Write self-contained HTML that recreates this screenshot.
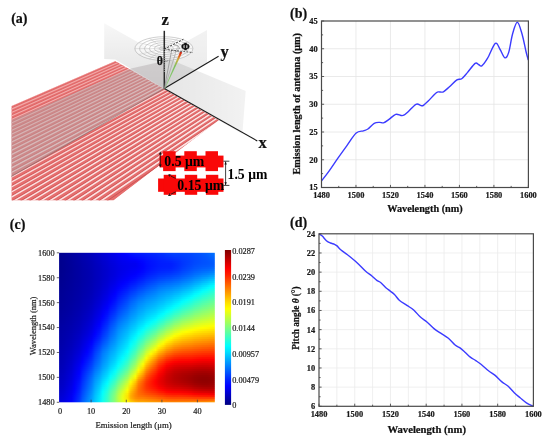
<!DOCTYPE html>
<html><head><meta charset="utf-8"><title>Figure</title><style>html,body{margin:0;padding:0;background:#fff;width:550px;height:443px;overflow:hidden}</style></head><body>
<svg width="550" height="443" viewBox="0 0 550 443" font-family="'Liberation Serif', 'Times New Roman', serif" style="position:absolute;left:0;top:0">
<rect width="550" height="443" fill="#fff"/>
<defs><linearGradient id="pl" x1="0" y1="0" x2="0" y2="1"><stop offset="0" stop-color="#000" stop-opacity="0.03"/><stop offset="1" stop-color="#000" stop-opacity="0.12"/></linearGradient><linearGradient id="pr" x1="0" y1="0" x2="0" y2="1"><stop offset="0" stop-color="#000" stop-opacity="0.05"/><stop offset="1" stop-color="#000" stop-opacity="0.09"/></linearGradient><linearGradient id="pf" x1="0" y1="0" x2="1" y2="0"><stop offset="0" stop-color="#000" stop-opacity="0.10"/><stop offset="1" stop-color="#000" stop-opacity="0.05"/></linearGradient></defs>
<polygon points="104.2,23.3 164.3,57 164.3,88.5 115.3,59.5 104.2,59" fill="url(#pl)"/>
<polygon points="164.3,54 207,30 207,63.18 164.3,88.5" fill="url(#pr)"/>
<polygon points="164.3,57 245.7,91 242.3,133.97 164.3,88.5" fill="url(#pf)"/>
<defs><clipPath id="gclip"><polygon points="11.4,106 115.3,61 219,120 113.5,200.5 11.4,200.5"/></clipPath></defs>
<g clip-path="url(#gclip)">
<polygon points="11.4,106 115.3,61 219,120 113.5,200.5 11.4,200.5" fill="#e56f6f"/>
<line x1="11.4" y1="105.83" x2="291.4" y2="-15.11" stroke="#f3a5a5" stroke-width="1.14"/>
<line x1="11.4" y1="108.26" x2="291.4" y2="-13.74" stroke="#c44848" stroke-width="0.49" stroke-opacity="0.45"/>
<line x1="11.4" y1="109.13" x2="291.4" y2="-13.26" stroke="#f3a7a7" stroke-width="1.15"/>
<line x1="11.4" y1="111.61" x2="291.4" y2="-11.86" stroke="#c44848" stroke-width="0.5" stroke-opacity="0.4621185688941455"/>
<line x1="11.4" y1="112.49" x2="291.4" y2="-11.37" stroke="#f3a9a9" stroke-width="1.16"/>
<line x1="11.4" y1="115.03" x2="291.4" y2="-9.94" stroke="#c44848" stroke-width="0.51" stroke-opacity="0.47449584880962664"/>
<line x1="11.4" y1="115.93" x2="291.4" y2="-9.44" stroke="#f3abab" stroke-width="1.17"/>
<line x1="11.4" y1="118.52" x2="291.4" y2="-7.98" stroke="#c44848" stroke-width="0.52" stroke-opacity="0.48713736279071923"/>
<line x1="11.4" y1="119.44" x2="291.4" y2="-7.47" stroke="#f4aeae" stroke-width="1.18"/>
<line x1="11.4" y1="122.09" x2="291.4" y2="-5.98" stroke="#c44848" stroke-width="0.53" stroke-opacity="0.5000487517893857"/>
<line x1="11.4" y1="123.03" x2="291.4" y2="-5.45" stroke="#f4b0b0" stroke-width="1.19"/>
<line x1="11.4" y1="125.73" x2="291.4" y2="-3.93" stroke="#c44848" stroke-width="0.54" stroke-opacity="0.5132357771824057"/>
<line x1="11.4" y1="126.69" x2="291.4" y2="-3.39" stroke="#f4b3b3" stroke-width="1.2"/>
<line x1="11.4" y1="129.46" x2="291.4" y2="-1.84" stroke="#c44848" stroke-width="0.55" stroke-opacity="0.526704323342243"/>
<line x1="11.4" y1="130.43" x2="291.4" y2="-1.29" stroke="#f5b5b5" stroke-width="1.22"/>
<line x1="11.4" y1="133.26" x2="291.4" y2="0.29" stroke="#c44848" stroke-width="0.56" stroke-opacity="0.540460400262796"/>
<line x1="11.4" y1="134.26" x2="291.4" y2="0.85" stroke="#f5b8b8" stroke-width="1.23"/>
<line x1="11.4" y1="137.14" x2="291.4" y2="2.47" stroke="#c44848" stroke-width="0.57" stroke-opacity="0.5545101462412033"/>
<line x1="11.4" y1="138.16" x2="291.4" y2="3.04" stroke="#f6bbbb" stroke-width="1.24"/>
<line x1="11.4" y1="141.1" x2="291.4" y2="4.7" stroke="#c44848" stroke-width="0.58" stroke-opacity="0.5688598306169026"/>
<line x1="11.4" y1="142.15" x2="291.4" y2="5.28" stroke="#f6bdbd" stroke-width="1.24"/>
<line x1="11.4" y1="145.15" x2="291.4" y2="6.97" stroke="#c44848" stroke-width="0.59" stroke-opacity="0.5835158565691617"/>
<line x1="11.4" y1="146.22" x2="291.4" y2="7.57" stroke="#f6c0c0" stroke-width="1.25"/>
<line x1="11.4" y1="149.29" x2="291.4" y2="9.29" stroke="#c44848" stroke-width="0.6" stroke-opacity="0.5984847639743341"/>
<line x1="11.4" y1="150.38" x2="291.4" y2="9.9" stroke="#f7c3c3" stroke-width="1.26"/>
<line x1="11.4" y1="153.51" x2="291.4" y2="11.67" stroke="#c44848" stroke-width="0.61" stroke-opacity="0.6137732323241115"/>
<line x1="11.4" y1="154.62" x2="291.4" y2="12.29" stroke="#f7c6c6" stroke-width="1.27"/>
<line x1="11.4" y1="157.83" x2="291.4" y2="14.09" stroke="#c44848" stroke-width="0.62" stroke-opacity="0.6293880837060751"/>
<line x1="11.4" y1="158.96" x2="291.4" y2="14.73" stroke="#f8c9c9" stroke-width="1.28"/>
<line x1="11.4" y1="162.23" x2="291.4" y2="16.56" stroke="#c44848" stroke-width="0.63" stroke-opacity="0.6453362858478784"/>
<line x1="11.4" y1="163.39" x2="291.4" y2="17.21" stroke="#f8cccc" stroke-width="1.29"/>
<line x1="11.4" y1="166.73" x2="291.4" y2="19.09" stroke="#c44848" stroke-width="0.64" stroke-opacity="0.6616249552264168"/>
<line x1="11.4" y1="167.92" x2="291.4" y2="19.75" stroke="#f8cfcf" stroke-width="1.29"/>
<line x1="11.4" y1="171.33" x2="291.4" y2="21.67" stroke="#c44848" stroke-width="0.65" stroke-opacity="0.6782613602433735"/>
<line x1="11.4" y1="172.54" x2="291.4" y2="22.35" stroke="#f9d2d2" stroke-width="1.3"/>
<line x1="11.4" y1="176.03" x2="291.4" y2="24.31" stroke="#c44848" stroke-width="0.67" stroke-opacity="0.6952529244685572"/>
<line x1="11.4" y1="177.26" x2="291.4" y2="25" stroke="#f9d5d5" stroke-width="1.3"/>
<line x1="11.4" y1="180.82" x2="291.4" y2="27" stroke="#c44848" stroke-width="0.68" stroke-opacity="0.7126072299524809"/>
<line x1="11.4" y1="182.08" x2="291.4" y2="27.71" stroke="#fad9d9" stroke-width="1.31"/>
<line x1="11.4" y1="185.72" x2="291.4" y2="29.75" stroke="#c44848" stroke-width="0.69" stroke-opacity="0.7303320206096569"/>
<line x1="11.4" y1="187.01" x2="291.4" y2="30.47" stroke="#fadcdc" stroke-width="1.31"/>
<line x1="11.4" y1="190.72" x2="291.4" y2="32.56" stroke="#c44848" stroke-width="0.7" stroke-opacity="0.7484352056741209"/>
<line x1="11.4" y1="192.04" x2="291.4" y2="33.3" stroke="#fbdfdf" stroke-width="1.32"/>
<line x1="11.4" y1="195.83" x2="291.4" y2="35.43" stroke="#c44848" stroke-width="0.72" stroke-opacity="0.7669248632287251"/>
<line x1="11.4" y1="197.17" x2="291.4" y2="36.18" stroke="#fbe3e3" stroke-width="1.32"/>
<line x1="11.4" y1="201.05" x2="291.4" y2="38.36" stroke="#c44848" stroke-width="0.73" stroke-opacity="0.7858092438097759"/>
<line x1="11.4" y1="202.42" x2="291.4" y2="39.13" stroke="#fce6e6" stroke-width="1.33"/>
<line x1="11.4" y1="206.37" x2="291.4" y2="41.35" stroke="#c44848" stroke-width="0.74" stroke-opacity="0.8"/>
<line x1="11.4" y1="207.78" x2="291.4" y2="42.14" stroke="#fce6e6" stroke-width="1.35"/>
<line x1="11.4" y1="211.82" x2="291.4" y2="44.41" stroke="#c44848" stroke-width="0.76" stroke-opacity="0.8"/>
<line x1="11.4" y1="213.25" x2="291.4" y2="45.21" stroke="#fce6e6" stroke-width="1.38"/>
<line x1="11.4" y1="217.38" x2="291.4" y2="47.53" stroke="#c44848" stroke-width="0.77" stroke-opacity="0.8"/>
<line x1="11.4" y1="218.84" x2="291.4" y2="48.35" stroke="#fce6e6" stroke-width="1.4"/>
<line x1="11.4" y1="223.05" x2="291.4" y2="50.72" stroke="#c44848" stroke-width="0.78" stroke-opacity="0.8"/>
<line x1="11.4" y1="224.55" x2="291.4" y2="51.55" stroke="#fce6e6" stroke-width="1.43"/>
<line x1="11.4" y1="228.85" x2="291.4" y2="53.97" stroke="#c44848" stroke-width="0.8" stroke-opacity="0.8"/>
<line x1="11.4" y1="230.38" x2="291.4" y2="54.83" stroke="#fce6e6" stroke-width="1.46"/>
<line x1="11.4" y1="234.78" x2="291.4" y2="57.3" stroke="#c44848" stroke-width="0.81" stroke-opacity="0.8"/>
<line x1="11.4" y1="236.33" x2="291.4" y2="58.17" stroke="#fce6e6" stroke-width="1.49"/>
<line x1="11.4" y1="240.83" x2="291.4" y2="60.7" stroke="#c44848" stroke-width="0.83" stroke-opacity="0.8"/>
<line x1="11.4" y1="242.42" x2="291.4" y2="61.59" stroke="#fce6e6" stroke-width="1.51"/>
<line x1="11.4" y1="247" x2="291.4" y2="64.16" stroke="#c44848" stroke-width="0.84" stroke-opacity="0.8"/>
<line x1="11.4" y1="248.63" x2="291.4" y2="65.08" stroke="#fce6e6" stroke-width="1.54"/>
<line x1="11.4" y1="253.31" x2="291.4" y2="67.71" stroke="#c44848" stroke-width="0.86" stroke-opacity="0.8"/>
<line x1="11.4" y1="254.97" x2="291.4" y2="68.64" stroke="#fce6e6" stroke-width="1.57"/>
<line x1="11.4" y1="259.76" x2="291.4" y2="71.33" stroke="#c44848" stroke-width="0.88" stroke-opacity="0.8"/>
<line x1="11.4" y1="261.45" x2="291.4" y2="72.28" stroke="#fce6e6" stroke-width="1.6"/>
<line x1="11.4" y1="266.34" x2="291.4" y2="75.02" stroke="#c44848" stroke-width="0.89" stroke-opacity="0.8"/>
</g>
<polygon points="11.4,120 131,68.5 164.3,61 164.3,88.5 11.4,176.5" fill="#b0a8aa" fill-opacity="0.45"/>
<line x1="11.4" y1="176.5" x2="164.3" y2="88.5" stroke="#6a6a6a" stroke-width="0.5"/>
<ellipse cx="163.9" cy="48.6" rx="29" ry="11.89" fill="#fff" fill-opacity="0.45"/>
<ellipse cx="163.9" cy="48.6" rx="29" ry="11.89" fill="none" stroke="#969696" stroke-width="0.45"/>
<ellipse cx="163.9" cy="48.6" rx="24.3" ry="9.96" fill="none" stroke="#969696" stroke-width="0.45"/>
<ellipse cx="163.9" cy="48.6" rx="19.5" ry="7.99" fill="none" stroke="#969696" stroke-width="0.45"/>
<ellipse cx="163.9" cy="48.6" rx="14.6" ry="5.99" fill="none" stroke="#969696" stroke-width="0.45"/>
<ellipse cx="163.9" cy="48.6" rx="9.6" ry="3.94" fill="none" stroke="#969696" stroke-width="0.45"/>
<ellipse cx="163.9" cy="48.6" rx="4.6" ry="1.89" fill="none" stroke="#969696" stroke-width="0.45"/>
<line x1="163.9" y1="48.6" x2="192.9" y2="48.6" stroke="#b0b0b0" stroke-width="0.35"/>
<line x1="163.9" y1="48.6" x2="189.01" y2="54.55" stroke="#b0b0b0" stroke-width="0.35"/>
<line x1="163.9" y1="48.6" x2="178.4" y2="58.9" stroke="#b0b0b0" stroke-width="0.35"/>
<line x1="163.9" y1="48.6" x2="163.9" y2="60.49" stroke="#b0b0b0" stroke-width="0.35"/>
<line x1="163.9" y1="48.6" x2="149.4" y2="58.9" stroke="#b0b0b0" stroke-width="0.35"/>
<line x1="163.9" y1="48.6" x2="138.79" y2="54.55" stroke="#b0b0b0" stroke-width="0.35"/>
<line x1="163.9" y1="48.6" x2="134.9" y2="48.6" stroke="#b0b0b0" stroke-width="0.35"/>
<line x1="163.9" y1="48.6" x2="138.79" y2="42.66" stroke="#b0b0b0" stroke-width="0.35"/>
<line x1="163.9" y1="48.6" x2="149.4" y2="38.3" stroke="#b0b0b0" stroke-width="0.35"/>
<line x1="163.9" y1="48.6" x2="163.9" y2="36.71" stroke="#b0b0b0" stroke-width="0.35"/>
<line x1="163.9" y1="48.6" x2="178.4" y2="38.3" stroke="#b0b0b0" stroke-width="0.35"/>
<line x1="163.9" y1="48.6" x2="189.01" y2="42.65" stroke="#b0b0b0" stroke-width="0.35"/>
<line x1="164.3" y1="30.8" x2="164.3" y2="88.8" stroke="#2a2a2a" stroke-width="1.5"/>
<line x1="164.3" y1="88.5" x2="218.6" y2="56.3" stroke="#1a1a1a" stroke-width="1.1"/>
<line x1="164.3" y1="88.5" x2="257.3" y2="140.9" stroke="#1a1a1a" stroke-width="1.1"/>
<line x1="164.3" y1="49" x2="164.3" y2="72" stroke="#fff" stroke-width="0.6" stroke-dasharray="1,1.2"/>
<path d="M164.3,61 Q166.5,62 168.2,60.6" fill="none" stroke="#555" stroke-width="0.5"/>
<line x1="164.3" y1="88.5" x2="171.8" y2="49.6" stroke="#8a8a8a" stroke-width="0.7"/>
<defs><linearGradient id="vec" x1="164.3" y1="88.5" x2="181.5" y2="51.5" gradientUnits="userSpaceOnUse"><stop offset="0" stop-color="#8fd07a"/><stop offset="0.6" stop-color="#7cc060"/><stop offset="0.78" stop-color="#c8b040"/><stop offset="0.88" stop-color="#e06020"/><stop offset="1" stop-color="#d01010"/></linearGradient></defs>
<polygon points="164.6,88.5 180.2,51.4 182.2,52.4 165.1,88.6" fill="url(#vec)"/>
<line x1="164.5" y1="88.5" x2="177.2" y2="47.8" stroke="#9a9a9a" stroke-width="0.6"/>
<line x1="164.3" y1="49.0" x2="183.4" y2="39.3" stroke="#222" stroke-width="0.9" stroke-dasharray="2,1.3"/>
<line x1="168" y1="49.7" x2="193" y2="52.6" stroke="#333" stroke-width="0.8" stroke-dasharray="1.8,1.3"/>
<line x1="164.3" y1="49.2" x2="181" y2="52" stroke="#444" stroke-width="0.5" stroke-dasharray="1.2,1"/>
<path d="M174,45 Q179,44.5 179.6,49" fill="none" stroke="#888" stroke-width="0.6"/>
<text x="161.6" y="24.6" font-size="16.5" font-weight="bold" stroke="#111" stroke-width="0.22" fill="#111">z</text>
<text x="220.6" y="57.2" font-size="16.5" font-weight="bold" stroke="#111" stroke-width="0.22" fill="#111">y</text>
<text x="258.4" y="147.8" font-size="16.5" font-weight="bold" stroke="#111" stroke-width="0.22" fill="#111">x</text>
<text x="156.8" y="65.4" font-size="11.8" font-weight="bold" fill="#111" stroke="#111" stroke-width="0.25">θ</text>
<text x="181.3" y="49.9" font-size="10" font-weight="bold" fill="#111" stroke="#111" stroke-width="0.35" textLength="8.4" lengthAdjust="spacingAndGlyphs">Φ</text>
<text x="11.2" y="23.4" font-size="14" font-weight="bold" stroke="#111" stroke-width="0.22" fill="#111">(a)</text>
<rect x="159.6" y="155.6" width="63.9" height="11.8" fill="#f90808"/>
<rect x="163.1" y="151.2" width="12.5" height="19.9" fill="#f90808"/>
<rect x="184.3" y="151.2" width="12.5" height="19.9" fill="#f90808"/>
<rect x="205.5" y="151.2" width="12.5" height="19.9" fill="#f90808"/>
<rect x="158.1" y="178.5" width="65.4" height="13.3" fill="#f90808"/>
<rect x="163.7" y="174.8" width="12.4" height="20" fill="#f90808"/>
<rect x="184.8" y="174.8" width="12.4" height="20" fill="#f90808"/>
<rect x="205.9" y="174.8" width="12.4" height="20" fill="#f90808"/>
<g stroke="#111" fill="#111" stroke-width="0.8">
<line x1="160.3" y1="153" x2="160.3" y2="166"/>
<polygon points="160.3,151.4 158.9,154.4 161.7,154.4" stroke="none"/>
<polygon points="160.3,167.6 158.9,164.6 161.7,164.6" stroke="none"/>
<line x1="169.6" y1="174.2" x2="169.6" y2="176.6"/><line x1="168" y1="175" x2="171.2" y2="175"/>
<line x1="171" y1="176.2" x2="175.6" y2="178.4"/>
<line x1="169.6" y1="193.4" x2="169.6" y2="196"/><line x1="168" y1="195.4" x2="171.2" y2="195.4"/>
<line x1="171" y1="194.2" x2="175.6" y2="191.8"/>
<line x1="225.6" y1="161.6" x2="225.6" y2="185"/>
<line x1="223.4" y1="161.2" x2="229.4" y2="161.2"/><line x1="223.4" y1="185.4" x2="229.4" y2="185.4"/>
<polygon points="225.6,161.6 224.4,164.4 226.8,164.4" stroke="none"/>
<polygon points="225.6,185 224.4,182.2 226.8,182.2" stroke="none"/>
</g>
<text x="164.3" y="165.6" font-size="13.8" font-weight="bold" fill="#000" stroke="none">0.5 μm</text>
<text x="177.3" y="189.5" font-size="13.8" font-weight="bold" fill="#000" stroke="none">0.15 μm</text>
<text x="227.6" y="179.4" font-size="13.7" font-weight="bold" fill="#000" stroke="none">1.5 μm</text>
<line x1="355.98" y1="21" x2="355.98" y2="187.5" stroke="#e4e4e4" stroke-width="0.8"/>
<line x1="390.47" y1="21" x2="390.47" y2="187.5" stroke="#e4e4e4" stroke-width="0.8"/>
<line x1="424.95" y1="21" x2="424.95" y2="187.5" stroke="#e4e4e4" stroke-width="0.8"/>
<line x1="459.43" y1="21" x2="459.43" y2="187.5" stroke="#e4e4e4" stroke-width="0.8"/>
<line x1="493.92" y1="21" x2="493.92" y2="187.5" stroke="#e4e4e4" stroke-width="0.8"/>
<line x1="321.5" y1="159.75" x2="528.4" y2="159.75" stroke="#e4e4e4" stroke-width="0.8"/>
<line x1="321.5" y1="132" x2="528.4" y2="132" stroke="#e4e4e4" stroke-width="0.8"/>
<line x1="321.5" y1="104.25" x2="528.4" y2="104.25" stroke="#e4e4e4" stroke-width="0.8"/>
<line x1="321.5" y1="76.5" x2="528.4" y2="76.5" stroke="#e4e4e4" stroke-width="0.8"/>
<line x1="321.5" y1="48.75" x2="528.4" y2="48.75" stroke="#e4e4e4" stroke-width="0.8"/>
<path d="M321.5,180.9 C322.6,179.48 325.33,176.23 328.1,172.4 C330.87,168.57 334.93,162.42 338.1,157.9 C341.27,153.38 344.08,149.43 347.1,145.3 C350.12,141.17 353.48,135.52 356.2,133.1 C358.92,130.68 361.45,131.48 363.4,130.8 C365.35,130.12 366.1,130.25 367.9,129 C369.7,127.75 372.23,124.4 374.2,123.3 C376.17,122.2 378.15,122.48 379.7,122.4 C381.25,122.32 381.95,123.3 383.5,122.8 C385.05,122.3 386.97,120.82 389,119.4 C391.03,117.98 393.7,114.95 395.7,114.3 C397.7,113.65 399.65,115.35 401,115.5 C402.35,115.65 402.65,115.78 403.8,115.2 C404.95,114.62 405.87,113.82 407.9,112 C409.93,110.18 413.82,105.37 416,104.3 C418.18,103.23 419.75,105.43 421,105.6 C422.25,105.77 422.3,106.05 423.5,105.3 C424.7,104.55 426.07,103.2 428.2,101.1 C430.33,99 434.33,94.22 436.3,92.7 C438.27,91.18 438.82,92.15 440,92 C441.18,91.85 441.87,92.63 443.4,91.8 C444.93,90.97 446.95,88.98 449.2,87 C451.45,85.02 454.82,81.28 456.9,79.9 C458.98,78.52 459.95,79.92 461.7,78.7 C463.45,77.48 465.17,75.15 467.4,72.6 C469.63,70.05 473.25,64.75 475.1,63.4 C476.95,62.05 477.38,64.08 478.5,64.5 C479.62,64.92 480.28,66.95 481.8,65.9 C483.32,64.85 485.35,61.95 487.6,58.2 C489.85,54.45 493.22,44.85 495.3,43.4 C497.38,41.95 498.5,47.1 500.1,49.5 C501.7,51.9 503.47,57.32 504.9,57.8 C506.33,58.28 507.43,56.33 508.7,52.4 C509.97,48.47 511.07,39.22 512.5,34.2 C513.93,29.18 515.7,22.3 517.3,22.3 C518.9,22.3 520.65,29.33 522.1,34.2 C523.55,39.07 524.97,47.18 526,51.5 C527.03,55.82 527.92,58.67 528.3,60.1" fill="none" stroke="#3b3bff" stroke-width="1.4" stroke-linejoin="round"/>
<rect x="321.5" y="21.0" width="206.9" height="166.5" fill="none" stroke="#4a4a4a" stroke-width="1.2"/>
<line x1="321.5" y1="187.5" x2="324.1" y2="187.5" stroke="#4a4a4a" stroke-width="0.9"/>
<line x1="321.5" y1="173.62" x2="323.1" y2="173.62" stroke="#4a4a4a" stroke-width="0.9"/>
<line x1="321.5" y1="159.75" x2="324.1" y2="159.75" stroke="#4a4a4a" stroke-width="0.9"/>
<line x1="321.5" y1="145.88" x2="323.1" y2="145.88" stroke="#4a4a4a" stroke-width="0.9"/>
<line x1="321.5" y1="132" x2="324.1" y2="132" stroke="#4a4a4a" stroke-width="0.9"/>
<line x1="321.5" y1="118.12" x2="323.1" y2="118.12" stroke="#4a4a4a" stroke-width="0.9"/>
<line x1="321.5" y1="104.25" x2="324.1" y2="104.25" stroke="#4a4a4a" stroke-width="0.9"/>
<line x1="321.5" y1="90.38" x2="323.1" y2="90.38" stroke="#4a4a4a" stroke-width="0.9"/>
<line x1="321.5" y1="76.5" x2="324.1" y2="76.5" stroke="#4a4a4a" stroke-width="0.9"/>
<line x1="321.5" y1="62.62" x2="323.1" y2="62.62" stroke="#4a4a4a" stroke-width="0.9"/>
<line x1="321.5" y1="48.75" x2="324.1" y2="48.75" stroke="#4a4a4a" stroke-width="0.9"/>
<line x1="321.5" y1="34.88" x2="323.1" y2="34.88" stroke="#4a4a4a" stroke-width="0.9"/>
<line x1="321.5" y1="21" x2="324.1" y2="21" stroke="#4a4a4a" stroke-width="0.9"/>
<line x1="321.5" y1="187.5" x2="321.5" y2="184.9" stroke="#4a4a4a" stroke-width="0.9"/>
<line x1="338.74" y1="187.5" x2="338.74" y2="185.9" stroke="#4a4a4a" stroke-width="0.9"/>
<line x1="355.98" y1="187.5" x2="355.98" y2="184.9" stroke="#4a4a4a" stroke-width="0.9"/>
<line x1="373.23" y1="187.5" x2="373.23" y2="185.9" stroke="#4a4a4a" stroke-width="0.9"/>
<line x1="390.47" y1="187.5" x2="390.47" y2="184.9" stroke="#4a4a4a" stroke-width="0.9"/>
<line x1="407.71" y1="187.5" x2="407.71" y2="185.9" stroke="#4a4a4a" stroke-width="0.9"/>
<line x1="424.95" y1="187.5" x2="424.95" y2="184.9" stroke="#4a4a4a" stroke-width="0.9"/>
<line x1="442.19" y1="187.5" x2="442.19" y2="185.9" stroke="#4a4a4a" stroke-width="0.9"/>
<line x1="459.43" y1="187.5" x2="459.43" y2="184.9" stroke="#4a4a4a" stroke-width="0.9"/>
<line x1="476.67" y1="187.5" x2="476.67" y2="185.9" stroke="#4a4a4a" stroke-width="0.9"/>
<line x1="493.92" y1="187.5" x2="493.92" y2="184.9" stroke="#4a4a4a" stroke-width="0.9"/>
<line x1="511.16" y1="187.5" x2="511.16" y2="185.9" stroke="#4a4a4a" stroke-width="0.9"/>
<line x1="528.4" y1="187.5" x2="528.4" y2="184.9" stroke="#4a4a4a" stroke-width="0.9"/>
<text x="317.6" y="190.4" font-size="8.4" font-weight="bold" stroke="#1a1a1a" stroke-width="0.22" text-anchor="end" fill="#1a1a1a">15</text>
<text x="317.6" y="162.65" font-size="8.4" font-weight="bold" stroke="#1a1a1a" stroke-width="0.22" text-anchor="end" fill="#1a1a1a">20</text>
<text x="317.6" y="134.9" font-size="8.4" font-weight="bold" stroke="#1a1a1a" stroke-width="0.22" text-anchor="end" fill="#1a1a1a">25</text>
<text x="317.6" y="107.15" font-size="8.4" font-weight="bold" stroke="#1a1a1a" stroke-width="0.22" text-anchor="end" fill="#1a1a1a">30</text>
<text x="317.6" y="79.4" font-size="8.4" font-weight="bold" stroke="#1a1a1a" stroke-width="0.22" text-anchor="end" fill="#1a1a1a">35</text>
<text x="317.6" y="51.65" font-size="8.4" font-weight="bold" stroke="#1a1a1a" stroke-width="0.22" text-anchor="end" fill="#1a1a1a">40</text>
<text x="317.6" y="23.9" font-size="8.4" font-weight="bold" stroke="#1a1a1a" stroke-width="0.22" text-anchor="end" fill="#1a1a1a">45</text>
<text x="321.5" y="198.4" font-size="8.4" font-weight="bold" stroke="#1a1a1a" stroke-width="0.22" text-anchor="middle" fill="#1a1a1a">1480</text>
<text x="355.98" y="198.4" font-size="8.4" font-weight="bold" stroke="#1a1a1a" stroke-width="0.22" text-anchor="middle" fill="#1a1a1a">1500</text>
<text x="390.47" y="198.4" font-size="8.4" font-weight="bold" stroke="#1a1a1a" stroke-width="0.22" text-anchor="middle" fill="#1a1a1a">1520</text>
<text x="424.95" y="198.4" font-size="8.4" font-weight="bold" stroke="#1a1a1a" stroke-width="0.22" text-anchor="middle" fill="#1a1a1a">1540</text>
<text x="459.43" y="198.4" font-size="8.4" font-weight="bold" stroke="#1a1a1a" stroke-width="0.22" text-anchor="middle" fill="#1a1a1a">1560</text>
<text x="493.92" y="198.4" font-size="8.4" font-weight="bold" stroke="#1a1a1a" stroke-width="0.22" text-anchor="middle" fill="#1a1a1a">1580</text>
<text x="528.4" y="198.4" font-size="8.4" font-weight="bold" stroke="#1a1a1a" stroke-width="0.22" text-anchor="middle" fill="#1a1a1a">1600</text>
<text x="425" y="211.6" font-size="10" font-weight="bold" stroke="#111" stroke-width="0.22" text-anchor="middle" fill="#111" textLength="75.4" lengthAdjust="spacingAndGlyphs">Wavelength (nm)</text>
<text transform="translate(299.6,103.8) rotate(-90)" font-size="10.6" font-weight="bold" stroke="#111" stroke-width="0.25" text-anchor="middle" fill="#111" textLength="141.5" lengthAdjust="spacingAndGlyphs">Emission length of antenna (μm)</text>
<text x="290.1" y="18.2" font-size="14" font-weight="bold" stroke="#111" stroke-width="0.22" fill="#111">(b)</text>
<defs><linearGradient id="h0"><stop offset="0" stop-color="#00008f"/><stop offset="0.03" stop-color="#000093"/><stop offset="0.05" stop-color="#000098"/><stop offset="0.08" stop-color="#00009e"/><stop offset="0.1" stop-color="#0000a3"/><stop offset="0.13" stop-color="#0000a9"/><stop offset="0.15" stop-color="#0000af"/><stop offset="0.18" stop-color="#0000b5"/><stop offset="0.21" stop-color="#0000bc"/><stop offset="0.23" stop-color="#0000c4"/><stop offset="0.26" stop-color="#0000cc"/><stop offset="0.28" stop-color="#0000d4"/><stop offset="0.31" stop-color="#0000dc"/><stop offset="0.33" stop-color="#0000e5"/><stop offset="0.36" stop-color="#0000ed"/><stop offset="0.38" stop-color="#0000f5"/><stop offset="0.41" stop-color="#0000fe"/><stop offset="0.44" stop-color="#0007ff"/><stop offset="0.46" stop-color="#000fff"/><stop offset="0.49" stop-color="#0016ff"/><stop offset="0.51" stop-color="#0019ff"/><stop offset="0.54" stop-color="#001cff"/><stop offset="0.56" stop-color="#0020ff"/><stop offset="0.59" stop-color="#0024ff"/><stop offset="0.62" stop-color="#0028ff"/><stop offset="0.64" stop-color="#002cff"/><stop offset="0.67" stop-color="#0031ff"/><stop offset="0.69" stop-color="#0037ff"/><stop offset="0.72" stop-color="#003dff"/><stop offset="0.74" stop-color="#0040ff"/><stop offset="0.77" stop-color="#0041ff"/><stop offset="0.79" stop-color="#0043ff"/><stop offset="0.82" stop-color="#0046ff"/><stop offset="0.85" stop-color="#0049ff"/><stop offset="0.87" stop-color="#004dff"/><stop offset="0.9" stop-color="#0052ff"/><stop offset="0.92" stop-color="#0057ff"/><stop offset="0.95" stop-color="#005eff"/><stop offset="0.97" stop-color="#0067ff"/><stop offset="1" stop-color="#0071ff"/></linearGradient><linearGradient id="h1"><stop offset="0" stop-color="#00008e"/><stop offset="0.03" stop-color="#000093"/><stop offset="0.05" stop-color="#000098"/><stop offset="0.08" stop-color="#00009d"/><stop offset="0.1" stop-color="#0000a2"/><stop offset="0.13" stop-color="#0000a8"/><stop offset="0.15" stop-color="#0000ae"/><stop offset="0.18" stop-color="#0000b4"/><stop offset="0.21" stop-color="#0000bb"/><stop offset="0.23" stop-color="#0000c2"/><stop offset="0.26" stop-color="#0000ca"/><stop offset="0.28" stop-color="#0000d2"/><stop offset="0.31" stop-color="#0000da"/><stop offset="0.33" stop-color="#0000e2"/><stop offset="0.36" stop-color="#0000ea"/><stop offset="0.38" stop-color="#0000f2"/><stop offset="0.41" stop-color="#0000f9"/><stop offset="0.44" stop-color="#0001ff"/><stop offset="0.46" stop-color="#0008ff"/><stop offset="0.49" stop-color="#000fff"/><stop offset="0.51" stop-color="#0012ff"/><stop offset="0.54" stop-color="#0016ff"/><stop offset="0.56" stop-color="#001aff"/><stop offset="0.59" stop-color="#001fff"/><stop offset="0.62" stop-color="#0023ff"/><stop offset="0.64" stop-color="#0028ff"/><stop offset="0.67" stop-color="#002cff"/><stop offset="0.69" stop-color="#0031ff"/><stop offset="0.72" stop-color="#0036ff"/><stop offset="0.74" stop-color="#003aff"/><stop offset="0.77" stop-color="#003cff"/><stop offset="0.79" stop-color="#003fff"/><stop offset="0.82" stop-color="#0042ff"/><stop offset="0.85" stop-color="#0046ff"/><stop offset="0.87" stop-color="#004bff"/><stop offset="0.9" stop-color="#004fff"/><stop offset="0.92" stop-color="#0054ff"/><stop offset="0.95" stop-color="#005aff"/><stop offset="0.97" stop-color="#0062ff"/><stop offset="1" stop-color="#006bff"/></linearGradient><linearGradient id="h2"><stop offset="0" stop-color="#00008d"/><stop offset="0.03" stop-color="#000092"/><stop offset="0.05" stop-color="#000097"/><stop offset="0.08" stop-color="#00009c"/><stop offset="0.1" stop-color="#0000a1"/><stop offset="0.13" stop-color="#0000a6"/><stop offset="0.15" stop-color="#0000ac"/><stop offset="0.18" stop-color="#0000b2"/><stop offset="0.21" stop-color="#0000b9"/><stop offset="0.23" stop-color="#0000c0"/><stop offset="0.26" stop-color="#0000c8"/><stop offset="0.28" stop-color="#0000cf"/><stop offset="0.31" stop-color="#0000d7"/><stop offset="0.33" stop-color="#0000df"/><stop offset="0.36" stop-color="#0000e7"/><stop offset="0.38" stop-color="#0000ee"/><stop offset="0.41" stop-color="#0000f5"/><stop offset="0.44" stop-color="#0000fb"/><stop offset="0.46" stop-color="#0002ff"/><stop offset="0.49" stop-color="#0007ff"/><stop offset="0.51" stop-color="#000bff"/><stop offset="0.54" stop-color="#0010ff"/><stop offset="0.56" stop-color="#0015ff"/><stop offset="0.59" stop-color="#001aff"/><stop offset="0.62" stop-color="#001fff"/><stop offset="0.64" stop-color="#0023ff"/><stop offset="0.67" stop-color="#0027ff"/><stop offset="0.69" stop-color="#002bff"/><stop offset="0.72" stop-color="#002fff"/><stop offset="0.74" stop-color="#0033ff"/><stop offset="0.77" stop-color="#0037ff"/><stop offset="0.79" stop-color="#003bff"/><stop offset="0.82" stop-color="#003fff"/><stop offset="0.85" stop-color="#0044ff"/><stop offset="0.87" stop-color="#0048ff"/><stop offset="0.9" stop-color="#004dff"/><stop offset="0.92" stop-color="#0051ff"/><stop offset="0.95" stop-color="#0057ff"/><stop offset="0.97" stop-color="#005dff"/><stop offset="1" stop-color="#0066ff"/></linearGradient><linearGradient id="h3"><stop offset="0" stop-color="#00008d"/><stop offset="0.03" stop-color="#000092"/><stop offset="0.05" stop-color="#000096"/><stop offset="0.08" stop-color="#00009b"/><stop offset="0.1" stop-color="#0000a0"/><stop offset="0.13" stop-color="#0000a5"/><stop offset="0.15" stop-color="#0000ab"/><stop offset="0.18" stop-color="#0000b1"/><stop offset="0.21" stop-color="#0000b8"/><stop offset="0.23" stop-color="#0000bf"/><stop offset="0.26" stop-color="#0000c6"/><stop offset="0.28" stop-color="#0000ce"/><stop offset="0.31" stop-color="#0000d5"/><stop offset="0.33" stop-color="#0000dd"/><stop offset="0.36" stop-color="#0000e4"/><stop offset="0.38" stop-color="#0000eb"/><stop offset="0.41" stop-color="#0000f1"/><stop offset="0.44" stop-color="#0000f6"/><stop offset="0.46" stop-color="#0000fa"/><stop offset="0.49" stop-color="#0000fe"/><stop offset="0.51" stop-color="#0004ff"/><stop offset="0.54" stop-color="#000aff"/><stop offset="0.56" stop-color="#0010ff"/><stop offset="0.59" stop-color="#0016ff"/><stop offset="0.62" stop-color="#001bff"/><stop offset="0.64" stop-color="#001fff"/><stop offset="0.67" stop-color="#0022ff"/><stop offset="0.69" stop-color="#0025ff"/><stop offset="0.72" stop-color="#0029ff"/><stop offset="0.74" stop-color="#002dff"/><stop offset="0.77" stop-color="#0032ff"/><stop offset="0.79" stop-color="#0038ff"/><stop offset="0.82" stop-color="#003dff"/><stop offset="0.85" stop-color="#0043ff"/><stop offset="0.87" stop-color="#0047ff"/><stop offset="0.9" stop-color="#004cff"/><stop offset="0.92" stop-color="#0050ff"/><stop offset="0.95" stop-color="#0054ff"/><stop offset="0.97" stop-color="#0059ff"/><stop offset="1" stop-color="#0061ff"/></linearGradient><linearGradient id="h4"><stop offset="0" stop-color="#00008d"/><stop offset="0.03" stop-color="#000091"/><stop offset="0.05" stop-color="#000096"/><stop offset="0.08" stop-color="#00009a"/><stop offset="0.1" stop-color="#00009f"/><stop offset="0.13" stop-color="#0000a5"/><stop offset="0.15" stop-color="#0000aa"/><stop offset="0.18" stop-color="#0000b0"/><stop offset="0.21" stop-color="#0000b6"/><stop offset="0.23" stop-color="#0000bd"/><stop offset="0.26" stop-color="#0000c5"/><stop offset="0.28" stop-color="#0000cc"/><stop offset="0.31" stop-color="#0000d3"/><stop offset="0.33" stop-color="#0000db"/><stop offset="0.36" stop-color="#0000e2"/><stop offset="0.38" stop-color="#0000e8"/><stop offset="0.41" stop-color="#0000ee"/><stop offset="0.44" stop-color="#0000f2"/><stop offset="0.46" stop-color="#0000f5"/><stop offset="0.49" stop-color="#0000f7"/><stop offset="0.51" stop-color="#0000fd"/><stop offset="0.54" stop-color="#0006ff"/><stop offset="0.56" stop-color="#000dff"/><stop offset="0.59" stop-color="#0013ff"/><stop offset="0.62" stop-color="#0018ff"/><stop offset="0.64" stop-color="#001cff"/><stop offset="0.67" stop-color="#001fff"/><stop offset="0.69" stop-color="#0021ff"/><stop offset="0.72" stop-color="#0023ff"/><stop offset="0.74" stop-color="#0028ff"/><stop offset="0.77" stop-color="#002eff"/><stop offset="0.79" stop-color="#0036ff"/><stop offset="0.82" stop-color="#003cff"/><stop offset="0.85" stop-color="#0042ff"/><stop offset="0.87" stop-color="#0048ff"/><stop offset="0.9" stop-color="#004cff"/><stop offset="0.92" stop-color="#0050ff"/><stop offset="0.95" stop-color="#0053ff"/><stop offset="0.97" stop-color="#0057ff"/><stop offset="1" stop-color="#005eff"/></linearGradient><linearGradient id="h5"><stop offset="0" stop-color="#00008d"/><stop offset="0.03" stop-color="#000091"/><stop offset="0.05" stop-color="#000095"/><stop offset="0.08" stop-color="#00009a"/><stop offset="0.1" stop-color="#00009f"/><stop offset="0.13" stop-color="#0000a4"/><stop offset="0.15" stop-color="#0000a9"/><stop offset="0.18" stop-color="#0000af"/><stop offset="0.21" stop-color="#0000b5"/><stop offset="0.23" stop-color="#0000bc"/><stop offset="0.26" stop-color="#0000c3"/><stop offset="0.28" stop-color="#0000cb"/><stop offset="0.31" stop-color="#0000d2"/><stop offset="0.33" stop-color="#0000d9"/><stop offset="0.36" stop-color="#0000e0"/><stop offset="0.38" stop-color="#0000e6"/><stop offset="0.41" stop-color="#0000ec"/><stop offset="0.44" stop-color="#0000ef"/><stop offset="0.46" stop-color="#0000f1"/><stop offset="0.49" stop-color="#0000f2"/><stop offset="0.51" stop-color="#0000f9"/><stop offset="0.54" stop-color="#0003ff"/><stop offset="0.56" stop-color="#000bff"/><stop offset="0.59" stop-color="#0012ff"/><stop offset="0.62" stop-color="#0017ff"/><stop offset="0.64" stop-color="#001bff"/><stop offset="0.67" stop-color="#001dff"/><stop offset="0.69" stop-color="#001eff"/><stop offset="0.72" stop-color="#001fff"/><stop offset="0.74" stop-color="#0024ff"/><stop offset="0.77" stop-color="#002dff"/><stop offset="0.79" stop-color="#0035ff"/><stop offset="0.82" stop-color="#003dff"/><stop offset="0.85" stop-color="#0044ff"/><stop offset="0.87" stop-color="#0049ff"/><stop offset="0.9" stop-color="#004eff"/><stop offset="0.92" stop-color="#0051ff"/><stop offset="0.95" stop-color="#0054ff"/><stop offset="0.97" stop-color="#0057ff"/><stop offset="1" stop-color="#005cff"/></linearGradient><linearGradient id="h6"><stop offset="0" stop-color="#00008d"/><stop offset="0.03" stop-color="#000091"/><stop offset="0.05" stop-color="#000095"/><stop offset="0.08" stop-color="#00009a"/><stop offset="0.1" stop-color="#00009e"/><stop offset="0.13" stop-color="#0000a3"/><stop offset="0.15" stop-color="#0000a9"/><stop offset="0.18" stop-color="#0000ae"/><stop offset="0.21" stop-color="#0000b5"/><stop offset="0.23" stop-color="#0000bb"/><stop offset="0.26" stop-color="#0000c2"/><stop offset="0.28" stop-color="#0000c9"/><stop offset="0.31" stop-color="#0000d1"/><stop offset="0.33" stop-color="#0000d8"/><stop offset="0.36" stop-color="#0000df"/><stop offset="0.38" stop-color="#0000e5"/><stop offset="0.41" stop-color="#0000ea"/><stop offset="0.44" stop-color="#0000ee"/><stop offset="0.46" stop-color="#0000f0"/><stop offset="0.49" stop-color="#0000f1"/><stop offset="0.51" stop-color="#0000f8"/><stop offset="0.54" stop-color="#0002ff"/><stop offset="0.56" stop-color="#000aff"/><stop offset="0.59" stop-color="#0011ff"/><stop offset="0.62" stop-color="#0017ff"/><stop offset="0.64" stop-color="#001bff"/><stop offset="0.67" stop-color="#001dff"/><stop offset="0.69" stop-color="#001eff"/><stop offset="0.72" stop-color="#001fff"/><stop offset="0.74" stop-color="#0024ff"/><stop offset="0.77" stop-color="#002dff"/><stop offset="0.79" stop-color="#0036ff"/><stop offset="0.82" stop-color="#003fff"/><stop offset="0.85" stop-color="#0046ff"/><stop offset="0.87" stop-color="#004dff"/><stop offset="0.9" stop-color="#0052ff"/><stop offset="0.92" stop-color="#0055ff"/><stop offset="0.95" stop-color="#0058ff"/><stop offset="0.97" stop-color="#005aff"/><stop offset="1" stop-color="#0060ff"/></linearGradient><linearGradient id="h7"><stop offset="0" stop-color="#00008d"/><stop offset="0.03" stop-color="#000091"/><stop offset="0.05" stop-color="#000095"/><stop offset="0.08" stop-color="#000099"/><stop offset="0.1" stop-color="#00009e"/><stop offset="0.13" stop-color="#0000a3"/><stop offset="0.15" stop-color="#0000a8"/><stop offset="0.18" stop-color="#0000ae"/><stop offset="0.21" stop-color="#0000b4"/><stop offset="0.23" stop-color="#0000bb"/><stop offset="0.26" stop-color="#0000c1"/><stop offset="0.28" stop-color="#0000c9"/><stop offset="0.31" stop-color="#0000d0"/><stop offset="0.33" stop-color="#0000d7"/><stop offset="0.36" stop-color="#0000de"/><stop offset="0.38" stop-color="#0000e4"/><stop offset="0.41" stop-color="#0000ea"/><stop offset="0.44" stop-color="#0000ee"/><stop offset="0.46" stop-color="#0000f2"/><stop offset="0.49" stop-color="#0000f4"/><stop offset="0.51" stop-color="#0000f9"/><stop offset="0.54" stop-color="#0002ff"/><stop offset="0.56" stop-color="#000bff"/><stop offset="0.59" stop-color="#0013ff"/><stop offset="0.62" stop-color="#0019ff"/><stop offset="0.64" stop-color="#001dff"/><stop offset="0.67" stop-color="#001fff"/><stop offset="0.69" stop-color="#0020ff"/><stop offset="0.72" stop-color="#0021ff"/><stop offset="0.74" stop-color="#0027ff"/><stop offset="0.77" stop-color="#0030ff"/><stop offset="0.79" stop-color="#003aff"/><stop offset="0.82" stop-color="#0043ff"/><stop offset="0.85" stop-color="#004bff"/><stop offset="0.87" stop-color="#0052ff"/><stop offset="0.9" stop-color="#0057ff"/><stop offset="0.92" stop-color="#005bff"/><stop offset="0.95" stop-color="#005fff"/><stop offset="0.97" stop-color="#0062ff"/><stop offset="1" stop-color="#0068ff"/></linearGradient><linearGradient id="h8"><stop offset="0" stop-color="#00008d"/><stop offset="0.03" stop-color="#000091"/><stop offset="0.05" stop-color="#000095"/><stop offset="0.08" stop-color="#000099"/><stop offset="0.1" stop-color="#00009e"/><stop offset="0.13" stop-color="#0000a3"/><stop offset="0.15" stop-color="#0000a8"/><stop offset="0.18" stop-color="#0000ad"/><stop offset="0.21" stop-color="#0000b4"/><stop offset="0.23" stop-color="#0000ba"/><stop offset="0.26" stop-color="#0000c1"/><stop offset="0.28" stop-color="#0000c8"/><stop offset="0.31" stop-color="#0000cf"/><stop offset="0.33" stop-color="#0000d7"/><stop offset="0.36" stop-color="#0000de"/><stop offset="0.38" stop-color="#0000e4"/><stop offset="0.41" stop-color="#0000ea"/><stop offset="0.44" stop-color="#0000ef"/><stop offset="0.46" stop-color="#0000f4"/><stop offset="0.49" stop-color="#0000f8"/><stop offset="0.51" stop-color="#0000fc"/><stop offset="0.54" stop-color="#0005ff"/><stop offset="0.56" stop-color="#000dff"/><stop offset="0.59" stop-color="#0015ff"/><stop offset="0.62" stop-color="#001cff"/><stop offset="0.64" stop-color="#0020ff"/><stop offset="0.67" stop-color="#0023ff"/><stop offset="0.69" stop-color="#0025ff"/><stop offset="0.72" stop-color="#0027ff"/><stop offset="0.74" stop-color="#002cff"/><stop offset="0.77" stop-color="#0035ff"/><stop offset="0.79" stop-color="#003fff"/><stop offset="0.82" stop-color="#0048ff"/><stop offset="0.85" stop-color="#0051ff"/><stop offset="0.87" stop-color="#0058ff"/><stop offset="0.9" stop-color="#005fff"/><stop offset="0.92" stop-color="#0064ff"/><stop offset="0.95" stop-color="#0068ff"/><stop offset="0.97" stop-color="#006cff"/><stop offset="1" stop-color="#0073ff"/></linearGradient><linearGradient id="h9"><stop offset="0" stop-color="#00008d"/><stop offset="0.03" stop-color="#000091"/><stop offset="0.05" stop-color="#000095"/><stop offset="0.08" stop-color="#000099"/><stop offset="0.1" stop-color="#00009e"/><stop offset="0.13" stop-color="#0000a3"/><stop offset="0.15" stop-color="#0000a8"/><stop offset="0.18" stop-color="#0000ad"/><stop offset="0.21" stop-color="#0000b3"/><stop offset="0.23" stop-color="#0000ba"/><stop offset="0.26" stop-color="#0000c1"/><stop offset="0.28" stop-color="#0000c8"/><stop offset="0.31" stop-color="#0000cf"/><stop offset="0.33" stop-color="#0000d7"/><stop offset="0.36" stop-color="#0000de"/><stop offset="0.38" stop-color="#0000e5"/><stop offset="0.41" stop-color="#0000eb"/><stop offset="0.44" stop-color="#0000f1"/><stop offset="0.46" stop-color="#0000f6"/><stop offset="0.49" stop-color="#0000fa"/><stop offset="0.51" stop-color="#0000ff"/><stop offset="0.54" stop-color="#0008ff"/><stop offset="0.56" stop-color="#0011ff"/><stop offset="0.59" stop-color="#001aff"/><stop offset="0.62" stop-color="#0021ff"/><stop offset="0.64" stop-color="#0026ff"/><stop offset="0.67" stop-color="#0029ff"/><stop offset="0.69" stop-color="#002bff"/><stop offset="0.72" stop-color="#002eff"/><stop offset="0.74" stop-color="#0034ff"/><stop offset="0.77" stop-color="#003cff"/><stop offset="0.79" stop-color="#0046ff"/><stop offset="0.82" stop-color="#004fff"/><stop offset="0.85" stop-color="#0059ff"/><stop offset="0.87" stop-color="#0061ff"/><stop offset="0.9" stop-color="#0068ff"/><stop offset="0.92" stop-color="#006eff"/><stop offset="0.95" stop-color="#0073ff"/><stop offset="0.97" stop-color="#0079ff"/><stop offset="1" stop-color="#0081ff"/></linearGradient><linearGradient id="h10"><stop offset="0" stop-color="#00008e"/><stop offset="0.03" stop-color="#000092"/><stop offset="0.05" stop-color="#000096"/><stop offset="0.08" stop-color="#00009a"/><stop offset="0.1" stop-color="#00009e"/><stop offset="0.13" stop-color="#0000a3"/><stop offset="0.15" stop-color="#0000a8"/><stop offset="0.18" stop-color="#0000ad"/><stop offset="0.21" stop-color="#0000b3"/><stop offset="0.23" stop-color="#0000ba"/><stop offset="0.26" stop-color="#0000c1"/><stop offset="0.28" stop-color="#0000c8"/><stop offset="0.31" stop-color="#0000d0"/><stop offset="0.33" stop-color="#0000d7"/><stop offset="0.36" stop-color="#0000df"/><stop offset="0.38" stop-color="#0000e6"/><stop offset="0.41" stop-color="#0000ed"/><stop offset="0.44" stop-color="#0000f3"/><stop offset="0.46" stop-color="#0000f8"/><stop offset="0.49" stop-color="#0000fd"/><stop offset="0.51" stop-color="#0005ff"/><stop offset="0.54" stop-color="#000eff"/><stop offset="0.56" stop-color="#0017ff"/><stop offset="0.59" stop-color="#0020ff"/><stop offset="0.62" stop-color="#0027ff"/><stop offset="0.64" stop-color="#002dff"/><stop offset="0.67" stop-color="#0031ff"/><stop offset="0.69" stop-color="#0034ff"/><stop offset="0.72" stop-color="#0038ff"/><stop offset="0.74" stop-color="#003dff"/><stop offset="0.77" stop-color="#0045ff"/><stop offset="0.79" stop-color="#004eff"/><stop offset="0.82" stop-color="#0058ff"/><stop offset="0.85" stop-color="#0062ff"/><stop offset="0.87" stop-color="#006bff"/><stop offset="0.9" stop-color="#0073ff"/><stop offset="0.92" stop-color="#007aff"/><stop offset="0.95" stop-color="#0081ff"/><stop offset="0.97" stop-color="#0088ff"/><stop offset="1" stop-color="#0091ff"/></linearGradient><linearGradient id="h11"><stop offset="0" stop-color="#00008e"/><stop offset="0.03" stop-color="#000092"/><stop offset="0.05" stop-color="#000096"/><stop offset="0.08" stop-color="#00009a"/><stop offset="0.1" stop-color="#00009e"/><stop offset="0.13" stop-color="#0000a3"/><stop offset="0.15" stop-color="#0000a8"/><stop offset="0.18" stop-color="#0000ad"/><stop offset="0.21" stop-color="#0000b3"/><stop offset="0.23" stop-color="#0000ba"/><stop offset="0.26" stop-color="#0000c1"/><stop offset="0.28" stop-color="#0000c8"/><stop offset="0.31" stop-color="#0000d0"/><stop offset="0.33" stop-color="#0000d8"/><stop offset="0.36" stop-color="#0000e0"/><stop offset="0.38" stop-color="#0000e8"/><stop offset="0.41" stop-color="#0000ef"/><stop offset="0.44" stop-color="#0000f6"/><stop offset="0.46" stop-color="#0000fc"/><stop offset="0.49" stop-color="#0003ff"/><stop offset="0.51" stop-color="#000aff"/><stop offset="0.54" stop-color="#0014ff"/><stop offset="0.56" stop-color="#001dff"/><stop offset="0.59" stop-color="#0027ff"/><stop offset="0.62" stop-color="#002fff"/><stop offset="0.64" stop-color="#0035ff"/><stop offset="0.67" stop-color="#003aff"/><stop offset="0.69" stop-color="#003eff"/><stop offset="0.72" stop-color="#0042ff"/><stop offset="0.74" stop-color="#0048ff"/><stop offset="0.77" stop-color="#004fff"/><stop offset="0.79" stop-color="#0058ff"/><stop offset="0.82" stop-color="#0062ff"/><stop offset="0.85" stop-color="#006cff"/><stop offset="0.87" stop-color="#0076ff"/><stop offset="0.9" stop-color="#007fff"/><stop offset="0.92" stop-color="#0088ff"/><stop offset="0.95" stop-color="#0090ff"/><stop offset="0.97" stop-color="#0099ff"/><stop offset="1" stop-color="#00a3ff"/></linearGradient><linearGradient id="h12"><stop offset="0" stop-color="#00008f"/><stop offset="0.03" stop-color="#000093"/><stop offset="0.05" stop-color="#000096"/><stop offset="0.08" stop-color="#00009a"/><stop offset="0.1" stop-color="#00009e"/><stop offset="0.13" stop-color="#0000a3"/><stop offset="0.15" stop-color="#0000a8"/><stop offset="0.18" stop-color="#0000ad"/><stop offset="0.21" stop-color="#0000b3"/><stop offset="0.23" stop-color="#0000ba"/><stop offset="0.26" stop-color="#0000c1"/><stop offset="0.28" stop-color="#0000c9"/><stop offset="0.31" stop-color="#0000d1"/><stop offset="0.33" stop-color="#0000da"/><stop offset="0.36" stop-color="#0000e2"/><stop offset="0.38" stop-color="#0000ea"/><stop offset="0.41" stop-color="#0000f2"/><stop offset="0.44" stop-color="#0000fa"/><stop offset="0.46" stop-color="#0002ff"/><stop offset="0.49" stop-color="#0009ff"/><stop offset="0.51" stop-color="#0011ff"/><stop offset="0.54" stop-color="#001bff"/><stop offset="0.56" stop-color="#0025ff"/><stop offset="0.59" stop-color="#002fff"/><stop offset="0.62" stop-color="#0037ff"/><stop offset="0.64" stop-color="#003fff"/><stop offset="0.67" stop-color="#0044ff"/><stop offset="0.69" stop-color="#0049ff"/><stop offset="0.72" stop-color="#004dff"/><stop offset="0.74" stop-color="#0053ff"/><stop offset="0.77" stop-color="#005aff"/><stop offset="0.79" stop-color="#0063ff"/><stop offset="0.82" stop-color="#006eff"/><stop offset="0.85" stop-color="#0078ff"/><stop offset="0.87" stop-color="#0082ff"/><stop offset="0.9" stop-color="#008dff"/><stop offset="0.92" stop-color="#0097ff"/><stop offset="0.95" stop-color="#00a1ff"/><stop offset="0.97" stop-color="#00abff"/><stop offset="1" stop-color="#00b5ff"/></linearGradient><linearGradient id="h13"><stop offset="0" stop-color="#000090"/><stop offset="0.03" stop-color="#000093"/><stop offset="0.05" stop-color="#000097"/><stop offset="0.08" stop-color="#00009b"/><stop offset="0.1" stop-color="#00009f"/><stop offset="0.13" stop-color="#0000a3"/><stop offset="0.15" stop-color="#0000a8"/><stop offset="0.18" stop-color="#0000ad"/><stop offset="0.21" stop-color="#0000b4"/><stop offset="0.23" stop-color="#0000ba"/><stop offset="0.26" stop-color="#0000c2"/><stop offset="0.28" stop-color="#0000ca"/><stop offset="0.31" stop-color="#0000d2"/><stop offset="0.33" stop-color="#0000db"/><stop offset="0.36" stop-color="#0000e4"/><stop offset="0.38" stop-color="#0000ed"/><stop offset="0.41" stop-color="#0000f6"/><stop offset="0.44" stop-color="#0000fe"/><stop offset="0.46" stop-color="#0007ff"/><stop offset="0.49" stop-color="#0010ff"/><stop offset="0.51" stop-color="#0019ff"/><stop offset="0.54" stop-color="#0023ff"/><stop offset="0.56" stop-color="#002eff"/><stop offset="0.59" stop-color="#0038ff"/><stop offset="0.62" stop-color="#0041ff"/><stop offset="0.64" stop-color="#0049ff"/><stop offset="0.67" stop-color="#004fff"/><stop offset="0.69" stop-color="#0054ff"/><stop offset="0.72" stop-color="#0059ff"/><stop offset="0.74" stop-color="#005fff"/><stop offset="0.77" stop-color="#0066ff"/><stop offset="0.79" stop-color="#006fff"/><stop offset="0.82" stop-color="#007aff"/><stop offset="0.85" stop-color="#0085ff"/><stop offset="0.87" stop-color="#0090ff"/><stop offset="0.9" stop-color="#009bff"/><stop offset="0.92" stop-color="#00a6ff"/><stop offset="0.95" stop-color="#00b2ff"/><stop offset="0.97" stop-color="#00bdff"/><stop offset="1" stop-color="#00c8ff"/></linearGradient><linearGradient id="h14"><stop offset="0" stop-color="#000090"/><stop offset="0.03" stop-color="#000094"/><stop offset="0.05" stop-color="#000098"/><stop offset="0.08" stop-color="#00009b"/><stop offset="0.1" stop-color="#00009f"/><stop offset="0.13" stop-color="#0000a3"/><stop offset="0.15" stop-color="#0000a8"/><stop offset="0.18" stop-color="#0000ae"/><stop offset="0.21" stop-color="#0000b4"/><stop offset="0.23" stop-color="#0000bb"/><stop offset="0.26" stop-color="#0000c3"/><stop offset="0.28" stop-color="#0000cb"/><stop offset="0.31" stop-color="#0000d4"/><stop offset="0.33" stop-color="#0000dd"/><stop offset="0.36" stop-color="#0000e7"/><stop offset="0.38" stop-color="#0000f1"/><stop offset="0.41" stop-color="#0000fb"/><stop offset="0.44" stop-color="#0005ff"/><stop offset="0.46" stop-color="#000eff"/><stop offset="0.49" stop-color="#0017ff"/><stop offset="0.51" stop-color="#0021ff"/><stop offset="0.54" stop-color="#002cff"/><stop offset="0.56" stop-color="#0037ff"/><stop offset="0.59" stop-color="#0041ff"/><stop offset="0.62" stop-color="#004cff"/><stop offset="0.64" stop-color="#0054ff"/><stop offset="0.67" stop-color="#005bff"/><stop offset="0.69" stop-color="#0060ff"/><stop offset="0.72" stop-color="#0065ff"/><stop offset="0.74" stop-color="#006bff"/><stop offset="0.77" stop-color="#0073ff"/><stop offset="0.79" stop-color="#007cff"/><stop offset="0.82" stop-color="#0086ff"/><stop offset="0.85" stop-color="#0092ff"/><stop offset="0.87" stop-color="#009eff"/><stop offset="0.9" stop-color="#00aaff"/><stop offset="0.92" stop-color="#00b6ff"/><stop offset="0.95" stop-color="#00c3ff"/><stop offset="0.97" stop-color="#00d0ff"/><stop offset="1" stop-color="#00dbff"/></linearGradient><linearGradient id="h15"><stop offset="0" stop-color="#000091"/><stop offset="0.03" stop-color="#000095"/><stop offset="0.05" stop-color="#000098"/><stop offset="0.08" stop-color="#00009c"/><stop offset="0.1" stop-color="#0000a0"/><stop offset="0.13" stop-color="#0000a4"/><stop offset="0.15" stop-color="#0000a9"/><stop offset="0.18" stop-color="#0000ae"/><stop offset="0.21" stop-color="#0000b5"/><stop offset="0.23" stop-color="#0000bc"/><stop offset="0.26" stop-color="#0000c4"/><stop offset="0.28" stop-color="#0000cc"/><stop offset="0.31" stop-color="#0000d6"/><stop offset="0.33" stop-color="#0000e0"/><stop offset="0.36" stop-color="#0000ea"/><stop offset="0.38" stop-color="#0000f5"/><stop offset="0.41" stop-color="#0001ff"/><stop offset="0.44" stop-color="#000bff"/><stop offset="0.46" stop-color="#0015ff"/><stop offset="0.49" stop-color="#001fff"/><stop offset="0.51" stop-color="#002aff"/><stop offset="0.54" stop-color="#0035ff"/><stop offset="0.56" stop-color="#0040ff"/><stop offset="0.59" stop-color="#004cff"/><stop offset="0.62" stop-color="#0056ff"/><stop offset="0.64" stop-color="#0060ff"/><stop offset="0.67" stop-color="#0067ff"/><stop offset="0.69" stop-color="#006dff"/><stop offset="0.72" stop-color="#0072ff"/><stop offset="0.74" stop-color="#0078ff"/><stop offset="0.77" stop-color="#007fff"/><stop offset="0.79" stop-color="#0089ff"/><stop offset="0.82" stop-color="#0094ff"/><stop offset="0.85" stop-color="#00a0ff"/><stop offset="0.87" stop-color="#00acff"/><stop offset="0.9" stop-color="#00b9ff"/><stop offset="0.92" stop-color="#00c7ff"/><stop offset="0.95" stop-color="#00d4ff"/><stop offset="0.97" stop-color="#00e1ff"/><stop offset="1" stop-color="#00eeff"/></linearGradient><linearGradient id="h16"><stop offset="0" stop-color="#000092"/><stop offset="0.03" stop-color="#000095"/><stop offset="0.05" stop-color="#000099"/><stop offset="0.08" stop-color="#00009c"/><stop offset="0.1" stop-color="#0000a0"/><stop offset="0.13" stop-color="#0000a4"/><stop offset="0.15" stop-color="#0000a9"/><stop offset="0.18" stop-color="#0000af"/><stop offset="0.21" stop-color="#0000b5"/><stop offset="0.23" stop-color="#0000bd"/><stop offset="0.26" stop-color="#0000c5"/><stop offset="0.28" stop-color="#0000ce"/><stop offset="0.31" stop-color="#0000d8"/><stop offset="0.33" stop-color="#0000e3"/><stop offset="0.36" stop-color="#0000ee"/><stop offset="0.38" stop-color="#0000f9"/><stop offset="0.41" stop-color="#0006ff"/><stop offset="0.44" stop-color="#0011ff"/><stop offset="0.46" stop-color="#001dff"/><stop offset="0.49" stop-color="#0028ff"/><stop offset="0.51" stop-color="#0033ff"/><stop offset="0.54" stop-color="#003fff"/><stop offset="0.56" stop-color="#004aff"/><stop offset="0.59" stop-color="#0056ff"/><stop offset="0.62" stop-color="#0061ff"/><stop offset="0.64" stop-color="#006bff"/><stop offset="0.67" stop-color="#0073ff"/><stop offset="0.69" stop-color="#0079ff"/><stop offset="0.72" stop-color="#007eff"/><stop offset="0.74" stop-color="#0084ff"/><stop offset="0.77" stop-color="#008cff"/><stop offset="0.79" stop-color="#0096ff"/><stop offset="0.82" stop-color="#00a1ff"/><stop offset="0.85" stop-color="#00aeff"/><stop offset="0.87" stop-color="#00bbff"/><stop offset="0.9" stop-color="#00c9ff"/><stop offset="0.92" stop-color="#00d7ff"/><stop offset="0.95" stop-color="#00e5ff"/><stop offset="0.97" stop-color="#00f3ff"/><stop offset="1" stop-color="#00ffff"/></linearGradient><linearGradient id="h17"><stop offset="0" stop-color="#000093"/><stop offset="0.03" stop-color="#000096"/><stop offset="0.05" stop-color="#000099"/><stop offset="0.08" stop-color="#00009d"/><stop offset="0.1" stop-color="#0000a1"/><stop offset="0.13" stop-color="#0000a5"/><stop offset="0.15" stop-color="#0000aa"/><stop offset="0.18" stop-color="#0000b0"/><stop offset="0.21" stop-color="#0000b6"/><stop offset="0.23" stop-color="#0000be"/><stop offset="0.26" stop-color="#0000c6"/><stop offset="0.28" stop-color="#0000d0"/><stop offset="0.31" stop-color="#0000da"/><stop offset="0.33" stop-color="#0000e6"/><stop offset="0.36" stop-color="#0000f2"/><stop offset="0.38" stop-color="#0000fe"/><stop offset="0.41" stop-color="#000cff"/><stop offset="0.44" stop-color="#0018ff"/><stop offset="0.46" stop-color="#0025ff"/><stop offset="0.49" stop-color="#0031ff"/><stop offset="0.51" stop-color="#003dff"/><stop offset="0.54" stop-color="#0049ff"/><stop offset="0.56" stop-color="#0054ff"/><stop offset="0.59" stop-color="#0060ff"/><stop offset="0.62" stop-color="#006bff"/><stop offset="0.64" stop-color="#0076ff"/><stop offset="0.67" stop-color="#007fff"/><stop offset="0.69" stop-color="#0084ff"/><stop offset="0.72" stop-color="#008aff"/><stop offset="0.74" stop-color="#0091ff"/><stop offset="0.77" stop-color="#0099ff"/><stop offset="0.79" stop-color="#00a3ff"/><stop offset="0.82" stop-color="#00afff"/><stop offset="0.85" stop-color="#00bcff"/><stop offset="0.87" stop-color="#00caff"/><stop offset="0.9" stop-color="#00d8ff"/><stop offset="0.92" stop-color="#00e6ff"/><stop offset="0.95" stop-color="#00f5ff"/><stop offset="0.97" stop-color="#03fffc"/><stop offset="1" stop-color="#0ffff0"/></linearGradient><linearGradient id="h18"><stop offset="0" stop-color="#000093"/><stop offset="0.03" stop-color="#000097"/><stop offset="0.05" stop-color="#00009a"/><stop offset="0.08" stop-color="#00009d"/><stop offset="0.1" stop-color="#0000a1"/><stop offset="0.13" stop-color="#0000a6"/><stop offset="0.15" stop-color="#0000ab"/><stop offset="0.18" stop-color="#0000b0"/><stop offset="0.21" stop-color="#0000b7"/><stop offset="0.23" stop-color="#0000bf"/><stop offset="0.26" stop-color="#0000c8"/><stop offset="0.28" stop-color="#0000d2"/><stop offset="0.31" stop-color="#0000dd"/><stop offset="0.33" stop-color="#0000e9"/><stop offset="0.36" stop-color="#0000f6"/><stop offset="0.38" stop-color="#0004ff"/><stop offset="0.41" stop-color="#0012ff"/><stop offset="0.44" stop-color="#0020ff"/><stop offset="0.46" stop-color="#002dff"/><stop offset="0.49" stop-color="#003aff"/><stop offset="0.51" stop-color="#0047ff"/><stop offset="0.54" stop-color="#0053ff"/><stop offset="0.56" stop-color="#005eff"/><stop offset="0.59" stop-color="#006aff"/><stop offset="0.62" stop-color="#0075ff"/><stop offset="0.64" stop-color="#0080ff"/><stop offset="0.67" stop-color="#0089ff"/><stop offset="0.69" stop-color="#008fff"/><stop offset="0.72" stop-color="#0096ff"/><stop offset="0.74" stop-color="#009dff"/><stop offset="0.77" stop-color="#00a6ff"/><stop offset="0.79" stop-color="#00b0ff"/><stop offset="0.82" stop-color="#00bdff"/><stop offset="0.85" stop-color="#00caff"/><stop offset="0.87" stop-color="#00d8ff"/><stop offset="0.9" stop-color="#00e7ff"/><stop offset="0.92" stop-color="#00f6ff"/><stop offset="0.95" stop-color="#05fffa"/><stop offset="0.97" stop-color="#12ffed"/><stop offset="1" stop-color="#1dffe2"/></linearGradient><linearGradient id="h19"><stop offset="0" stop-color="#000094"/><stop offset="0.03" stop-color="#000097"/><stop offset="0.05" stop-color="#00009b"/><stop offset="0.08" stop-color="#00009e"/><stop offset="0.1" stop-color="#0000a2"/><stop offset="0.13" stop-color="#0000a6"/><stop offset="0.15" stop-color="#0000ab"/><stop offset="0.18" stop-color="#0000b1"/><stop offset="0.21" stop-color="#0000b8"/><stop offset="0.23" stop-color="#0000c0"/><stop offset="0.26" stop-color="#0000ca"/><stop offset="0.28" stop-color="#0000d4"/><stop offset="0.31" stop-color="#0000e0"/><stop offset="0.33" stop-color="#0000ec"/><stop offset="0.36" stop-color="#0000fa"/><stop offset="0.38" stop-color="#000aff"/><stop offset="0.41" stop-color="#0019ff"/><stop offset="0.44" stop-color="#0027ff"/><stop offset="0.46" stop-color="#0036ff"/><stop offset="0.49" stop-color="#0044ff"/><stop offset="0.51" stop-color="#0051ff"/><stop offset="0.54" stop-color="#005dff"/><stop offset="0.56" stop-color="#0068ff"/><stop offset="0.59" stop-color="#0074ff"/><stop offset="0.62" stop-color="#007fff"/><stop offset="0.64" stop-color="#008aff"/><stop offset="0.67" stop-color="#0093ff"/><stop offset="0.69" stop-color="#009aff"/><stop offset="0.72" stop-color="#00a1ff"/><stop offset="0.74" stop-color="#00a9ff"/><stop offset="0.77" stop-color="#00b2ff"/><stop offset="0.79" stop-color="#00beff"/><stop offset="0.82" stop-color="#00caff"/><stop offset="0.85" stop-color="#00d8ff"/><stop offset="0.87" stop-color="#00e7ff"/><stop offset="0.9" stop-color="#00f5ff"/><stop offset="0.92" stop-color="#05fffa"/><stop offset="0.95" stop-color="#13ffec"/><stop offset="0.97" stop-color="#20ffdf"/><stop offset="1" stop-color="#2bffd4"/></linearGradient><linearGradient id="h20"><stop offset="0" stop-color="#000095"/><stop offset="0.03" stop-color="#000098"/><stop offset="0.05" stop-color="#00009b"/><stop offset="0.08" stop-color="#00009f"/><stop offset="0.1" stop-color="#0000a2"/><stop offset="0.13" stop-color="#0000a7"/><stop offset="0.15" stop-color="#0000ac"/><stop offset="0.18" stop-color="#0000b2"/><stop offset="0.21" stop-color="#0000b9"/><stop offset="0.23" stop-color="#0000c2"/><stop offset="0.26" stop-color="#0000cb"/><stop offset="0.28" stop-color="#0000d6"/><stop offset="0.31" stop-color="#0000e2"/><stop offset="0.33" stop-color="#0000f0"/><stop offset="0.36" stop-color="#0000ff"/><stop offset="0.38" stop-color="#000fff"/><stop offset="0.41" stop-color="#001fff"/><stop offset="0.44" stop-color="#002fff"/><stop offset="0.46" stop-color="#003eff"/><stop offset="0.49" stop-color="#004dff"/><stop offset="0.51" stop-color="#005aff"/><stop offset="0.54" stop-color="#0067ff"/><stop offset="0.56" stop-color="#0072ff"/><stop offset="0.59" stop-color="#007dff"/><stop offset="0.62" stop-color="#0088ff"/><stop offset="0.64" stop-color="#0093ff"/><stop offset="0.67" stop-color="#009cff"/><stop offset="0.69" stop-color="#00a4ff"/><stop offset="0.72" stop-color="#00abff"/><stop offset="0.74" stop-color="#00b4ff"/><stop offset="0.77" stop-color="#00bfff"/><stop offset="0.79" stop-color="#00cbff"/><stop offset="0.82" stop-color="#00d8ff"/><stop offset="0.85" stop-color="#00e6ff"/><stop offset="0.87" stop-color="#00f5ff"/><stop offset="0.9" stop-color="#05fffa"/><stop offset="0.92" stop-color="#13ffec"/><stop offset="0.95" stop-color="#21ffde"/><stop offset="0.97" stop-color="#2dffd2"/><stop offset="1" stop-color="#38ffc7"/></linearGradient><linearGradient id="h21"><stop offset="0" stop-color="#000095"/><stop offset="0.03" stop-color="#000098"/><stop offset="0.05" stop-color="#00009c"/><stop offset="0.08" stop-color="#00009f"/><stop offset="0.1" stop-color="#0000a3"/><stop offset="0.13" stop-color="#0000a8"/><stop offset="0.15" stop-color="#0000ad"/><stop offset="0.18" stop-color="#0000b3"/><stop offset="0.21" stop-color="#0000bb"/><stop offset="0.23" stop-color="#0000c3"/><stop offset="0.26" stop-color="#0000cd"/><stop offset="0.28" stop-color="#0000d9"/><stop offset="0.31" stop-color="#0000e6"/><stop offset="0.33" stop-color="#0000f4"/><stop offset="0.36" stop-color="#0004ff"/><stop offset="0.38" stop-color="#0015ff"/><stop offset="0.41" stop-color="#0026ff"/><stop offset="0.44" stop-color="#0037ff"/><stop offset="0.46" stop-color="#0047ff"/><stop offset="0.49" stop-color="#0056ff"/><stop offset="0.51" stop-color="#0064ff"/><stop offset="0.54" stop-color="#0070ff"/><stop offset="0.56" stop-color="#007cff"/><stop offset="0.59" stop-color="#0086ff"/><stop offset="0.62" stop-color="#0091ff"/><stop offset="0.64" stop-color="#009bff"/><stop offset="0.67" stop-color="#00a5ff"/><stop offset="0.69" stop-color="#00adff"/><stop offset="0.72" stop-color="#00b6ff"/><stop offset="0.74" stop-color="#00c0ff"/><stop offset="0.77" stop-color="#00cbff"/><stop offset="0.79" stop-color="#00d7ff"/><stop offset="0.82" stop-color="#00e5ff"/><stop offset="0.85" stop-color="#00f4ff"/><stop offset="0.87" stop-color="#04fffb"/><stop offset="0.9" stop-color="#12ffed"/><stop offset="0.92" stop-color="#21ffde"/><stop offset="0.95" stop-color="#2effd1"/><stop offset="0.97" stop-color="#3affc5"/><stop offset="1" stop-color="#44ffbb"/></linearGradient><linearGradient id="h22"><stop offset="0" stop-color="#000095"/><stop offset="0.03" stop-color="#000099"/><stop offset="0.05" stop-color="#00009c"/><stop offset="0.08" stop-color="#0000a0"/><stop offset="0.1" stop-color="#0000a4"/><stop offset="0.13" stop-color="#0000a8"/><stop offset="0.15" stop-color="#0000ae"/><stop offset="0.18" stop-color="#0000b4"/><stop offset="0.21" stop-color="#0000bc"/><stop offset="0.23" stop-color="#0000c5"/><stop offset="0.26" stop-color="#0000d0"/><stop offset="0.28" stop-color="#0000db"/><stop offset="0.31" stop-color="#0000e9"/><stop offset="0.33" stop-color="#0000f8"/><stop offset="0.36" stop-color="#0009ff"/><stop offset="0.38" stop-color="#001bff"/><stop offset="0.41" stop-color="#002dff"/><stop offset="0.44" stop-color="#003fff"/><stop offset="0.46" stop-color="#0050ff"/><stop offset="0.49" stop-color="#0060ff"/><stop offset="0.51" stop-color="#006eff"/><stop offset="0.54" stop-color="#007aff"/><stop offset="0.56" stop-color="#0085ff"/><stop offset="0.59" stop-color="#008fff"/><stop offset="0.62" stop-color="#009aff"/><stop offset="0.64" stop-color="#00a4ff"/><stop offset="0.67" stop-color="#00aeff"/><stop offset="0.69" stop-color="#00b7ff"/><stop offset="0.72" stop-color="#00c0ff"/><stop offset="0.74" stop-color="#00cbff"/><stop offset="0.77" stop-color="#00d7ff"/><stop offset="0.79" stop-color="#00e4ff"/><stop offset="0.82" stop-color="#00f3ff"/><stop offset="0.85" stop-color="#03fffc"/><stop offset="0.87" stop-color="#11ffee"/><stop offset="0.9" stop-color="#20ffdf"/><stop offset="0.92" stop-color="#2effd1"/><stop offset="0.95" stop-color="#3bffc4"/><stop offset="0.97" stop-color="#47ffb8"/><stop offset="1" stop-color="#51ffae"/></linearGradient><linearGradient id="h23"><stop offset="0" stop-color="#000096"/><stop offset="0.03" stop-color="#000099"/><stop offset="0.05" stop-color="#00009d"/><stop offset="0.08" stop-color="#0000a0"/><stop offset="0.1" stop-color="#0000a4"/><stop offset="0.13" stop-color="#0000a9"/><stop offset="0.15" stop-color="#0000af"/><stop offset="0.18" stop-color="#0000b6"/><stop offset="0.21" stop-color="#0000be"/><stop offset="0.23" stop-color="#0000c7"/><stop offset="0.26" stop-color="#0000d2"/><stop offset="0.28" stop-color="#0000de"/><stop offset="0.31" stop-color="#0000ec"/><stop offset="0.33" stop-color="#0000fc"/><stop offset="0.36" stop-color="#000eff"/><stop offset="0.38" stop-color="#0021ff"/><stop offset="0.41" stop-color="#0034ff"/><stop offset="0.44" stop-color="#0046ff"/><stop offset="0.46" stop-color="#0058ff"/><stop offset="0.49" stop-color="#0069ff"/><stop offset="0.51" stop-color="#0077ff"/><stop offset="0.54" stop-color="#0083ff"/><stop offset="0.56" stop-color="#008eff"/><stop offset="0.59" stop-color="#0098ff"/><stop offset="0.62" stop-color="#00a2ff"/><stop offset="0.64" stop-color="#00acff"/><stop offset="0.67" stop-color="#00b6ff"/><stop offset="0.69" stop-color="#00c0ff"/><stop offset="0.72" stop-color="#00cbff"/><stop offset="0.74" stop-color="#00d6ff"/><stop offset="0.77" stop-color="#00e3ff"/><stop offset="0.79" stop-color="#00f1ff"/><stop offset="0.82" stop-color="#01fffe"/><stop offset="0.85" stop-color="#10ffef"/><stop offset="0.87" stop-color="#1fffe0"/><stop offset="0.9" stop-color="#2dffd2"/><stop offset="0.92" stop-color="#3bffc4"/><stop offset="0.95" stop-color="#48ffb7"/><stop offset="0.97" stop-color="#53ffac"/><stop offset="1" stop-color="#5dffa2"/></linearGradient><linearGradient id="h24"><stop offset="0" stop-color="#000096"/><stop offset="0.03" stop-color="#00009a"/><stop offset="0.05" stop-color="#00009d"/><stop offset="0.08" stop-color="#0000a1"/><stop offset="0.1" stop-color="#0000a5"/><stop offset="0.13" stop-color="#0000aa"/><stop offset="0.15" stop-color="#0000b0"/><stop offset="0.18" stop-color="#0000b7"/><stop offset="0.21" stop-color="#0000bf"/><stop offset="0.23" stop-color="#0000c9"/><stop offset="0.26" stop-color="#0000d5"/><stop offset="0.28" stop-color="#0000e2"/><stop offset="0.31" stop-color="#0000f0"/><stop offset="0.33" stop-color="#0001ff"/><stop offset="0.36" stop-color="#0014ff"/><stop offset="0.38" stop-color="#0027ff"/><stop offset="0.41" stop-color="#003aff"/><stop offset="0.44" stop-color="#004eff"/><stop offset="0.46" stop-color="#0060ff"/><stop offset="0.49" stop-color="#0072ff"/><stop offset="0.51" stop-color="#0080ff"/><stop offset="0.54" stop-color="#008bff"/><stop offset="0.56" stop-color="#0096ff"/><stop offset="0.59" stop-color="#00a0ff"/><stop offset="0.62" stop-color="#00abff"/><stop offset="0.64" stop-color="#00b5ff"/><stop offset="0.67" stop-color="#00bfff"/><stop offset="0.69" stop-color="#00caff"/><stop offset="0.72" stop-color="#00d5ff"/><stop offset="0.74" stop-color="#00e1ff"/><stop offset="0.77" stop-color="#00efff"/><stop offset="0.79" stop-color="#00fdff"/><stop offset="0.82" stop-color="#0efff1"/><stop offset="0.85" stop-color="#1dffe2"/><stop offset="0.87" stop-color="#2cffd3"/><stop offset="0.9" stop-color="#3bffc4"/><stop offset="0.92" stop-color="#48ffb7"/><stop offset="0.95" stop-color="#54ffab"/><stop offset="0.97" stop-color="#5fffa0"/><stop offset="1" stop-color="#69ff96"/></linearGradient><linearGradient id="h25"><stop offset="0" stop-color="#000097"/><stop offset="0.03" stop-color="#00009b"/><stop offset="0.05" stop-color="#00009e"/><stop offset="0.08" stop-color="#0000a2"/><stop offset="0.1" stop-color="#0000a6"/><stop offset="0.13" stop-color="#0000ab"/><stop offset="0.15" stop-color="#0000b1"/><stop offset="0.18" stop-color="#0000b8"/><stop offset="0.21" stop-color="#0000c1"/><stop offset="0.23" stop-color="#0000cb"/><stop offset="0.26" stop-color="#0000d7"/><stop offset="0.28" stop-color="#0000e5"/><stop offset="0.31" stop-color="#0000f4"/><stop offset="0.33" stop-color="#0006ff"/><stop offset="0.36" stop-color="#001aff"/><stop offset="0.38" stop-color="#002dff"/><stop offset="0.41" stop-color="#0041ff"/><stop offset="0.44" stop-color="#0055ff"/><stop offset="0.46" stop-color="#0068ff"/><stop offset="0.49" stop-color="#0079ff"/><stop offset="0.51" stop-color="#0088ff"/><stop offset="0.54" stop-color="#0094ff"/><stop offset="0.56" stop-color="#009eff"/><stop offset="0.59" stop-color="#00a8ff"/><stop offset="0.62" stop-color="#00b3ff"/><stop offset="0.64" stop-color="#00bdff"/><stop offset="0.67" stop-color="#00c8ff"/><stop offset="0.69" stop-color="#00d4ff"/><stop offset="0.72" stop-color="#00e0ff"/><stop offset="0.74" stop-color="#00ecff"/><stop offset="0.77" stop-color="#00fbff"/><stop offset="0.79" stop-color="#0bfff4"/><stop offset="0.82" stop-color="#1bffe4"/><stop offset="0.85" stop-color="#2bffd4"/><stop offset="0.87" stop-color="#3affc5"/><stop offset="0.9" stop-color="#48ffb7"/><stop offset="0.92" stop-color="#55ffaa"/><stop offset="0.95" stop-color="#61ff9e"/><stop offset="0.97" stop-color="#6bff94"/><stop offset="1" stop-color="#74ff8b"/></linearGradient><linearGradient id="h26"><stop offset="0" stop-color="#000098"/><stop offset="0.03" stop-color="#00009b"/><stop offset="0.05" stop-color="#00009f"/><stop offset="0.08" stop-color="#0000a3"/><stop offset="0.1" stop-color="#0000a7"/><stop offset="0.13" stop-color="#0000ac"/><stop offset="0.15" stop-color="#0000b2"/><stop offset="0.18" stop-color="#0000ba"/><stop offset="0.21" stop-color="#0000c3"/><stop offset="0.23" stop-color="#0000ce"/><stop offset="0.26" stop-color="#0000da"/><stop offset="0.28" stop-color="#0000e9"/><stop offset="0.31" stop-color="#0000f9"/><stop offset="0.33" stop-color="#000cff"/><stop offset="0.36" stop-color="#0020ff"/><stop offset="0.38" stop-color="#0034ff"/><stop offset="0.41" stop-color="#0048ff"/><stop offset="0.44" stop-color="#005cff"/><stop offset="0.46" stop-color="#006fff"/><stop offset="0.49" stop-color="#0080ff"/><stop offset="0.51" stop-color="#008fff"/><stop offset="0.54" stop-color="#009bff"/><stop offset="0.56" stop-color="#00a6ff"/><stop offset="0.59" stop-color="#00b0ff"/><stop offset="0.62" stop-color="#00bbff"/><stop offset="0.64" stop-color="#00c6ff"/><stop offset="0.67" stop-color="#00d2ff"/><stop offset="0.69" stop-color="#00deff"/><stop offset="0.72" stop-color="#00ebff"/><stop offset="0.74" stop-color="#00f8ff"/><stop offset="0.77" stop-color="#09fff6"/><stop offset="0.79" stop-color="#19ffe6"/><stop offset="0.82" stop-color="#29ffd6"/><stop offset="0.85" stop-color="#39ffc6"/><stop offset="0.87" stop-color="#47ffb8"/><stop offset="0.9" stop-color="#55ffaa"/><stop offset="0.92" stop-color="#62ff9d"/><stop offset="0.95" stop-color="#6dff92"/><stop offset="0.97" stop-color="#77ff88"/><stop offset="1" stop-color="#80ff7f"/></linearGradient><linearGradient id="h27"><stop offset="0" stop-color="#000098"/><stop offset="0.03" stop-color="#00009c"/><stop offset="0.05" stop-color="#0000a0"/><stop offset="0.08" stop-color="#0000a3"/><stop offset="0.1" stop-color="#0000a8"/><stop offset="0.13" stop-color="#0000ad"/><stop offset="0.15" stop-color="#0000b4"/><stop offset="0.18" stop-color="#0000bb"/><stop offset="0.21" stop-color="#0000c5"/><stop offset="0.23" stop-color="#0000d0"/><stop offset="0.26" stop-color="#0000dd"/><stop offset="0.28" stop-color="#0000ed"/><stop offset="0.31" stop-color="#0000fe"/><stop offset="0.33" stop-color="#0012ff"/><stop offset="0.36" stop-color="#0026ff"/><stop offset="0.38" stop-color="#003bff"/><stop offset="0.41" stop-color="#004fff"/><stop offset="0.44" stop-color="#0063ff"/><stop offset="0.46" stop-color="#0076ff"/><stop offset="0.49" stop-color="#0087ff"/><stop offset="0.51" stop-color="#0096ff"/><stop offset="0.54" stop-color="#00a2ff"/><stop offset="0.56" stop-color="#00adff"/><stop offset="0.59" stop-color="#00b8ff"/><stop offset="0.62" stop-color="#00c4ff"/><stop offset="0.64" stop-color="#00cfff"/><stop offset="0.67" stop-color="#00dcff"/><stop offset="0.69" stop-color="#00e9ff"/><stop offset="0.72" stop-color="#00f7ff"/><stop offset="0.74" stop-color="#06fff9"/><stop offset="0.77" stop-color="#16ffe9"/><stop offset="0.79" stop-color="#27ffd8"/><stop offset="0.82" stop-color="#37ffc8"/><stop offset="0.85" stop-color="#47ffb8"/><stop offset="0.87" stop-color="#55ffaa"/><stop offset="0.9" stop-color="#63ff9c"/><stop offset="0.92" stop-color="#6fff90"/><stop offset="0.95" stop-color="#7aff85"/><stop offset="0.97" stop-color="#83ff7c"/><stop offset="1" stop-color="#8cff73"/></linearGradient><linearGradient id="h28"><stop offset="0" stop-color="#000099"/><stop offset="0.03" stop-color="#00009d"/><stop offset="0.05" stop-color="#0000a0"/><stop offset="0.08" stop-color="#0000a4"/><stop offset="0.1" stop-color="#0000a9"/><stop offset="0.13" stop-color="#0000ae"/><stop offset="0.15" stop-color="#0000b5"/><stop offset="0.18" stop-color="#0000bd"/><stop offset="0.21" stop-color="#0000c7"/><stop offset="0.23" stop-color="#0000d3"/><stop offset="0.26" stop-color="#0000e1"/><stop offset="0.28" stop-color="#0000f1"/><stop offset="0.31" stop-color="#0004ff"/><stop offset="0.33" stop-color="#0018ff"/><stop offset="0.36" stop-color="#002cff"/><stop offset="0.38" stop-color="#0042ff"/><stop offset="0.41" stop-color="#0056ff"/><stop offset="0.44" stop-color="#006aff"/><stop offset="0.46" stop-color="#007dff"/><stop offset="0.49" stop-color="#008eff"/><stop offset="0.51" stop-color="#009dff"/><stop offset="0.54" stop-color="#00a9ff"/><stop offset="0.56" stop-color="#00b5ff"/><stop offset="0.59" stop-color="#00c1ff"/><stop offset="0.62" stop-color="#00ccff"/><stop offset="0.64" stop-color="#00d9ff"/><stop offset="0.67" stop-color="#00e6ff"/><stop offset="0.69" stop-color="#00f4ff"/><stop offset="0.72" stop-color="#04fffb"/><stop offset="0.74" stop-color="#14ffeb"/><stop offset="0.77" stop-color="#24ffdb"/><stop offset="0.79" stop-color="#35ffca"/><stop offset="0.82" stop-color="#46ffb9"/><stop offset="0.85" stop-color="#55ffaa"/><stop offset="0.87" stop-color="#63ff9c"/><stop offset="0.9" stop-color="#70ff8f"/><stop offset="0.92" stop-color="#7cff83"/><stop offset="0.95" stop-color="#86ff79"/><stop offset="0.97" stop-color="#90ff6f"/><stop offset="1" stop-color="#98ff67"/></linearGradient><linearGradient id="h29"><stop offset="0" stop-color="#00009a"/><stop offset="0.03" stop-color="#00009e"/><stop offset="0.05" stop-color="#0000a1"/><stop offset="0.08" stop-color="#0000a5"/><stop offset="0.1" stop-color="#0000aa"/><stop offset="0.13" stop-color="#0000b0"/><stop offset="0.15" stop-color="#0000b6"/><stop offset="0.18" stop-color="#0000bf"/><stop offset="0.21" stop-color="#0000c9"/><stop offset="0.23" stop-color="#0000d5"/><stop offset="0.26" stop-color="#0000e4"/><stop offset="0.28" stop-color="#0000f5"/><stop offset="0.31" stop-color="#0009ff"/><stop offset="0.33" stop-color="#001eff"/><stop offset="0.36" stop-color="#0033ff"/><stop offset="0.38" stop-color="#0049ff"/><stop offset="0.41" stop-color="#005eff"/><stop offset="0.44" stop-color="#0071ff"/><stop offset="0.46" stop-color="#0084ff"/><stop offset="0.49" stop-color="#0094ff"/><stop offset="0.51" stop-color="#00a3ff"/><stop offset="0.54" stop-color="#00b0ff"/><stop offset="0.56" stop-color="#00bdff"/><stop offset="0.59" stop-color="#00c9ff"/><stop offset="0.62" stop-color="#00d5ff"/><stop offset="0.64" stop-color="#00e2ff"/><stop offset="0.67" stop-color="#00f1ff"/><stop offset="0.69" stop-color="#02fffd"/><stop offset="0.72" stop-color="#12ffed"/><stop offset="0.74" stop-color="#22ffdd"/><stop offset="0.77" stop-color="#33ffcc"/><stop offset="0.79" stop-color="#44ffbb"/><stop offset="0.82" stop-color="#55ffaa"/><stop offset="0.85" stop-color="#64ff9b"/><stop offset="0.87" stop-color="#72ff8d"/><stop offset="0.9" stop-color="#7eff81"/><stop offset="0.92" stop-color="#89ff76"/><stop offset="0.95" stop-color="#93ff6c"/><stop offset="0.97" stop-color="#9cff63"/><stop offset="1" stop-color="#a4ff5b"/></linearGradient><linearGradient id="h30"><stop offset="0" stop-color="#00009b"/><stop offset="0.03" stop-color="#00009f"/><stop offset="0.05" stop-color="#0000a2"/><stop offset="0.08" stop-color="#0000a6"/><stop offset="0.1" stop-color="#0000ab"/><stop offset="0.13" stop-color="#0000b1"/><stop offset="0.15" stop-color="#0000b8"/><stop offset="0.18" stop-color="#0000c1"/><stop offset="0.21" stop-color="#0000cb"/><stop offset="0.23" stop-color="#0000d8"/><stop offset="0.26" stop-color="#0000e7"/><stop offset="0.28" stop-color="#0000f9"/><stop offset="0.31" stop-color="#000eff"/><stop offset="0.33" stop-color="#0024ff"/><stop offset="0.36" stop-color="#003aff"/><stop offset="0.38" stop-color="#0050ff"/><stop offset="0.41" stop-color="#0065ff"/><stop offset="0.44" stop-color="#0078ff"/><stop offset="0.46" stop-color="#008bff"/><stop offset="0.49" stop-color="#009bff"/><stop offset="0.51" stop-color="#00aaff"/><stop offset="0.54" stop-color="#00b8ff"/><stop offset="0.56" stop-color="#00c5ff"/><stop offset="0.59" stop-color="#00d2ff"/><stop offset="0.62" stop-color="#00dfff"/><stop offset="0.64" stop-color="#00edff"/><stop offset="0.67" stop-color="#00fdff"/><stop offset="0.69" stop-color="#0ffff0"/><stop offset="0.72" stop-color="#20ffdf"/><stop offset="0.74" stop-color="#32ffcd"/><stop offset="0.77" stop-color="#43ffbc"/><stop offset="0.79" stop-color="#54ffab"/><stop offset="0.82" stop-color="#64ff9b"/><stop offset="0.85" stop-color="#73ff8c"/><stop offset="0.87" stop-color="#81ff7e"/><stop offset="0.9" stop-color="#8dff72"/><stop offset="0.92" stop-color="#97ff68"/><stop offset="0.95" stop-color="#a0ff5f"/><stop offset="0.97" stop-color="#a8ff57"/><stop offset="1" stop-color="#b0ff4f"/></linearGradient><linearGradient id="h31"><stop offset="0" stop-color="#00009c"/><stop offset="0.03" stop-color="#0000a0"/><stop offset="0.05" stop-color="#0000a3"/><stop offset="0.08" stop-color="#0000a8"/><stop offset="0.1" stop-color="#0000ac"/><stop offset="0.13" stop-color="#0000b2"/><stop offset="0.15" stop-color="#0000ba"/><stop offset="0.18" stop-color="#0000c3"/><stop offset="0.21" stop-color="#0000ce"/><stop offset="0.23" stop-color="#0000db"/><stop offset="0.26" stop-color="#0000eb"/><stop offset="0.28" stop-color="#0000fe"/><stop offset="0.31" stop-color="#0014ff"/><stop offset="0.33" stop-color="#002bff"/><stop offset="0.36" stop-color="#0041ff"/><stop offset="0.38" stop-color="#0057ff"/><stop offset="0.41" stop-color="#006cff"/><stop offset="0.44" stop-color="#0080ff"/><stop offset="0.46" stop-color="#0091ff"/><stop offset="0.49" stop-color="#00a2ff"/><stop offset="0.51" stop-color="#00b1ff"/><stop offset="0.54" stop-color="#00bfff"/><stop offset="0.56" stop-color="#00cdff"/><stop offset="0.59" stop-color="#00dbff"/><stop offset="0.62" stop-color="#00e9ff"/><stop offset="0.64" stop-color="#00f9ff"/><stop offset="0.67" stop-color="#0afff5"/><stop offset="0.69" stop-color="#1dffe2"/><stop offset="0.72" stop-color="#2fffd0"/><stop offset="0.74" stop-color="#42ffbd"/><stop offset="0.77" stop-color="#53ffac"/><stop offset="0.79" stop-color="#65ff9a"/><stop offset="0.82" stop-color="#74ff8b"/><stop offset="0.85" stop-color="#83ff7c"/><stop offset="0.87" stop-color="#90ff6f"/><stop offset="0.9" stop-color="#9bff64"/><stop offset="0.92" stop-color="#a5ff5a"/><stop offset="0.95" stop-color="#adff52"/><stop offset="0.97" stop-color="#b5ff4a"/><stop offset="1" stop-color="#bcff43"/></linearGradient><linearGradient id="h32"><stop offset="0" stop-color="#00009d"/><stop offset="0.03" stop-color="#0000a1"/><stop offset="0.05" stop-color="#0000a5"/><stop offset="0.08" stop-color="#0000a9"/><stop offset="0.1" stop-color="#0000ae"/><stop offset="0.13" stop-color="#0000b4"/><stop offset="0.15" stop-color="#0000bb"/><stop offset="0.18" stop-color="#0000c5"/><stop offset="0.21" stop-color="#0000d0"/><stop offset="0.23" stop-color="#0000de"/><stop offset="0.26" stop-color="#0000ef"/><stop offset="0.28" stop-color="#0003ff"/><stop offset="0.31" stop-color="#001aff"/><stop offset="0.33" stop-color="#0031ff"/><stop offset="0.36" stop-color="#0049ff"/><stop offset="0.38" stop-color="#005fff"/><stop offset="0.41" stop-color="#0074ff"/><stop offset="0.44" stop-color="#0087ff"/><stop offset="0.46" stop-color="#0099ff"/><stop offset="0.49" stop-color="#00a9ff"/><stop offset="0.51" stop-color="#00b9ff"/><stop offset="0.54" stop-color="#00c7ff"/><stop offset="0.56" stop-color="#00d6ff"/><stop offset="0.59" stop-color="#00e5ff"/><stop offset="0.62" stop-color="#00f4ff"/><stop offset="0.64" stop-color="#06fff9"/><stop offset="0.67" stop-color="#18ffe7"/><stop offset="0.69" stop-color="#2cffd3"/><stop offset="0.72" stop-color="#3fffc0"/><stop offset="0.74" stop-color="#52ffad"/><stop offset="0.77" stop-color="#64ff9b"/><stop offset="0.79" stop-color="#75ff8a"/><stop offset="0.82" stop-color="#85ff7a"/><stop offset="0.85" stop-color="#93ff6c"/><stop offset="0.87" stop-color="#9fff60"/><stop offset="0.9" stop-color="#aaff55"/><stop offset="0.92" stop-color="#b3ff4c"/><stop offset="0.95" stop-color="#bbff44"/><stop offset="0.97" stop-color="#c2ff3d"/><stop offset="1" stop-color="#c8ff37"/></linearGradient><linearGradient id="h33"><stop offset="0" stop-color="#00009e"/><stop offset="0.03" stop-color="#0000a2"/><stop offset="0.05" stop-color="#0000a6"/><stop offset="0.08" stop-color="#0000aa"/><stop offset="0.1" stop-color="#0000af"/><stop offset="0.13" stop-color="#0000b5"/><stop offset="0.15" stop-color="#0000bd"/><stop offset="0.18" stop-color="#0000c7"/><stop offset="0.21" stop-color="#0000d3"/><stop offset="0.23" stop-color="#0000e2"/><stop offset="0.26" stop-color="#0000f3"/><stop offset="0.28" stop-color="#0008ff"/><stop offset="0.31" stop-color="#0020ff"/><stop offset="0.33" stop-color="#0038ff"/><stop offset="0.36" stop-color="#0050ff"/><stop offset="0.38" stop-color="#0067ff"/><stop offset="0.41" stop-color="#007cff"/><stop offset="0.44" stop-color="#008eff"/><stop offset="0.46" stop-color="#00a0ff"/><stop offset="0.49" stop-color="#00b1ff"/><stop offset="0.51" stop-color="#00c0ff"/><stop offset="0.54" stop-color="#00d0ff"/><stop offset="0.56" stop-color="#00dfff"/><stop offset="0.59" stop-color="#00efff"/><stop offset="0.62" stop-color="#01fffe"/><stop offset="0.64" stop-color="#14ffeb"/><stop offset="0.67" stop-color="#27ffd8"/><stop offset="0.69" stop-color="#3cffc3"/><stop offset="0.72" stop-color="#50ffaf"/><stop offset="0.74" stop-color="#64ff9b"/><stop offset="0.77" stop-color="#76ff89"/><stop offset="0.79" stop-color="#87ff78"/><stop offset="0.82" stop-color="#96ff69"/><stop offset="0.85" stop-color="#a3ff5c"/><stop offset="0.87" stop-color="#afff50"/><stop offset="0.9" stop-color="#b9ff46"/><stop offset="0.92" stop-color="#c2ff3d"/><stop offset="0.95" stop-color="#c9ff36"/><stop offset="0.97" stop-color="#cfff30"/><stop offset="1" stop-color="#d5ff2a"/></linearGradient><linearGradient id="h34"><stop offset="0" stop-color="#00009f"/><stop offset="0.03" stop-color="#0000a3"/><stop offset="0.05" stop-color="#0000a7"/><stop offset="0.08" stop-color="#0000ab"/><stop offset="0.1" stop-color="#0000b0"/><stop offset="0.13" stop-color="#0000b7"/><stop offset="0.15" stop-color="#0000bf"/><stop offset="0.18" stop-color="#0000c9"/><stop offset="0.21" stop-color="#0000d6"/><stop offset="0.23" stop-color="#0000e5"/><stop offset="0.26" stop-color="#0000f7"/><stop offset="0.28" stop-color="#000eff"/><stop offset="0.31" stop-color="#0026ff"/><stop offset="0.33" stop-color="#003fff"/><stop offset="0.36" stop-color="#0058ff"/><stop offset="0.38" stop-color="#006fff"/><stop offset="0.41" stop-color="#0083ff"/><stop offset="0.44" stop-color="#0096ff"/><stop offset="0.46" stop-color="#00a7ff"/><stop offset="0.49" stop-color="#00b8ff"/><stop offset="0.51" stop-color="#00c9ff"/><stop offset="0.54" stop-color="#00d9ff"/><stop offset="0.56" stop-color="#00e9ff"/><stop offset="0.59" stop-color="#00faff"/><stop offset="0.62" stop-color="#0efff1"/><stop offset="0.64" stop-color="#22ffdd"/><stop offset="0.67" stop-color="#37ffc8"/><stop offset="0.69" stop-color="#4dffb2"/><stop offset="0.72" stop-color="#61ff9e"/><stop offset="0.74" stop-color="#75ff8a"/><stop offset="0.77" stop-color="#88ff77"/><stop offset="0.79" stop-color="#99ff66"/><stop offset="0.82" stop-color="#a7ff58"/><stop offset="0.85" stop-color="#b4ff4b"/><stop offset="0.87" stop-color="#bfff40"/><stop offset="0.9" stop-color="#c9ff36"/><stop offset="0.92" stop-color="#d0ff2f"/><stop offset="0.95" stop-color="#d7ff28"/><stop offset="0.97" stop-color="#dcff23"/><stop offset="1" stop-color="#e2ff1d"/></linearGradient><linearGradient id="h35"><stop offset="0" stop-color="#0000a1"/><stop offset="0.03" stop-color="#0000a4"/><stop offset="0.05" stop-color="#0000a8"/><stop offset="0.08" stop-color="#0000ac"/><stop offset="0.1" stop-color="#0000b2"/><stop offset="0.13" stop-color="#0000b8"/><stop offset="0.15" stop-color="#0000c1"/><stop offset="0.18" stop-color="#0000cc"/><stop offset="0.21" stop-color="#0000d9"/><stop offset="0.23" stop-color="#0000e9"/><stop offset="0.26" stop-color="#0000fc"/><stop offset="0.28" stop-color="#0014ff"/><stop offset="0.31" stop-color="#002cff"/><stop offset="0.33" stop-color="#0046ff"/><stop offset="0.36" stop-color="#0060ff"/><stop offset="0.38" stop-color="#0077ff"/><stop offset="0.41" stop-color="#008bff"/><stop offset="0.44" stop-color="#009dff"/><stop offset="0.46" stop-color="#00afff"/><stop offset="0.49" stop-color="#00c0ff"/><stop offset="0.51" stop-color="#00d1ff"/><stop offset="0.54" stop-color="#00e2ff"/><stop offset="0.56" stop-color="#00f4ff"/><stop offset="0.59" stop-color="#08fff7"/><stop offset="0.62" stop-color="#1cffe3"/><stop offset="0.64" stop-color="#32ffcd"/><stop offset="0.67" stop-color="#48ffb7"/><stop offset="0.69" stop-color="#5effa1"/><stop offset="0.72" stop-color="#74ff8b"/><stop offset="0.74" stop-color="#88ff77"/><stop offset="0.77" stop-color="#9aff65"/><stop offset="0.79" stop-color="#abff54"/><stop offset="0.82" stop-color="#b9ff46"/><stop offset="0.85" stop-color="#c5ff3a"/><stop offset="0.87" stop-color="#d0ff2f"/><stop offset="0.9" stop-color="#d9ff26"/><stop offset="0.92" stop-color="#e0ff1f"/><stop offset="0.95" stop-color="#e5ff1a"/><stop offset="0.97" stop-color="#eaff15"/><stop offset="1" stop-color="#efff10"/></linearGradient><linearGradient id="h36"><stop offset="0" stop-color="#0000a2"/><stop offset="0.03" stop-color="#0000a6"/><stop offset="0.05" stop-color="#0000a9"/><stop offset="0.08" stop-color="#0000ae"/><stop offset="0.1" stop-color="#0000b3"/><stop offset="0.13" stop-color="#0000ba"/><stop offset="0.15" stop-color="#0000c3"/><stop offset="0.18" stop-color="#0000ce"/><stop offset="0.21" stop-color="#0000dc"/><stop offset="0.23" stop-color="#0000ed"/><stop offset="0.26" stop-color="#0002ff"/><stop offset="0.28" stop-color="#0019ff"/><stop offset="0.31" stop-color="#0033ff"/><stop offset="0.33" stop-color="#004dff"/><stop offset="0.36" stop-color="#0067ff"/><stop offset="0.38" stop-color="#007eff"/><stop offset="0.41" stop-color="#0092ff"/><stop offset="0.44" stop-color="#00a5ff"/><stop offset="0.46" stop-color="#00b6ff"/><stop offset="0.49" stop-color="#00c8ff"/><stop offset="0.51" stop-color="#00daff"/><stop offset="0.54" stop-color="#00ecff"/><stop offset="0.56" stop-color="#00ffff"/><stop offset="0.59" stop-color="#15ffea"/><stop offset="0.62" stop-color="#2bffd4"/><stop offset="0.64" stop-color="#42ffbd"/><stop offset="0.67" stop-color="#59ffa6"/><stop offset="0.69" stop-color="#70ff8f"/><stop offset="0.72" stop-color="#86ff79"/><stop offset="0.74" stop-color="#9bff64"/><stop offset="0.77" stop-color="#adff52"/><stop offset="0.79" stop-color="#bdff42"/><stop offset="0.82" stop-color="#cbff34"/><stop offset="0.85" stop-color="#d7ff28"/><stop offset="0.87" stop-color="#e0ff1f"/><stop offset="0.9" stop-color="#e9ff16"/><stop offset="0.92" stop-color="#efff10"/><stop offset="0.95" stop-color="#f4ff0b"/><stop offset="0.97" stop-color="#f8ff07"/><stop offset="1" stop-color="#fdff02"/></linearGradient><linearGradient id="h37"><stop offset="0" stop-color="#0000a3"/><stop offset="0.03" stop-color="#0000a7"/><stop offset="0.05" stop-color="#0000aa"/><stop offset="0.08" stop-color="#0000af"/><stop offset="0.1" stop-color="#0000b4"/><stop offset="0.13" stop-color="#0000bc"/><stop offset="0.15" stop-color="#0000c5"/><stop offset="0.18" stop-color="#0000d1"/><stop offset="0.21" stop-color="#0000df"/><stop offset="0.23" stop-color="#0000f1"/><stop offset="0.26" stop-color="#0007ff"/><stop offset="0.28" stop-color="#001fff"/><stop offset="0.31" stop-color="#0039ff"/><stop offset="0.33" stop-color="#0054ff"/><stop offset="0.36" stop-color="#006eff"/><stop offset="0.38" stop-color="#0085ff"/><stop offset="0.41" stop-color="#0099ff"/><stop offset="0.44" stop-color="#00acff"/><stop offset="0.46" stop-color="#00beff"/><stop offset="0.49" stop-color="#00d0ff"/><stop offset="0.51" stop-color="#00e3ff"/><stop offset="0.54" stop-color="#00f7ff"/><stop offset="0.56" stop-color="#0dfff2"/><stop offset="0.59" stop-color="#23ffdc"/><stop offset="0.62" stop-color="#3affc5"/><stop offset="0.64" stop-color="#52ffad"/><stop offset="0.67" stop-color="#6bff94"/><stop offset="0.69" stop-color="#83ff7c"/><stop offset="0.72" stop-color="#99ff66"/><stop offset="0.74" stop-color="#aeff51"/><stop offset="0.77" stop-color="#c0ff3f"/><stop offset="0.79" stop-color="#d0ff2f"/><stop offset="0.82" stop-color="#ddff22"/><stop offset="0.85" stop-color="#e8ff17"/><stop offset="0.87" stop-color="#f1ff0e"/><stop offset="0.9" stop-color="#f9ff06"/><stop offset="0.92" stop-color="#ffff00"/><stop offset="0.95" stop-color="#fffb00"/><stop offset="0.97" stop-color="#fff700"/><stop offset="1" stop-color="#fff300"/></linearGradient><linearGradient id="h38"><stop offset="0" stop-color="#0000a3"/><stop offset="0.03" stop-color="#0000a7"/><stop offset="0.05" stop-color="#0000ab"/><stop offset="0.08" stop-color="#0000b0"/><stop offset="0.1" stop-color="#0000b6"/><stop offset="0.13" stop-color="#0000bd"/><stop offset="0.15" stop-color="#0000c7"/><stop offset="0.18" stop-color="#0000d3"/><stop offset="0.21" stop-color="#0000e3"/><stop offset="0.23" stop-color="#0000f5"/><stop offset="0.26" stop-color="#000cff"/><stop offset="0.28" stop-color="#0025ff"/><stop offset="0.31" stop-color="#003fff"/><stop offset="0.33" stop-color="#005aff"/><stop offset="0.36" stop-color="#0074ff"/><stop offset="0.38" stop-color="#008cff"/><stop offset="0.41" stop-color="#00a0ff"/><stop offset="0.44" stop-color="#00b3ff"/><stop offset="0.46" stop-color="#00c5ff"/><stop offset="0.49" stop-color="#00d8ff"/><stop offset="0.51" stop-color="#00edff"/><stop offset="0.54" stop-color="#03fffc"/><stop offset="0.56" stop-color="#19ffe6"/><stop offset="0.59" stop-color="#31ffce"/><stop offset="0.62" stop-color="#4affb5"/><stop offset="0.64" stop-color="#64ff9b"/><stop offset="0.67" stop-color="#7dff82"/><stop offset="0.69" stop-color="#95ff6a"/><stop offset="0.72" stop-color="#adff52"/><stop offset="0.74" stop-color="#c2ff3d"/><stop offset="0.77" stop-color="#d4ff2b"/><stop offset="0.79" stop-color="#e3ff1c"/><stop offset="0.82" stop-color="#efff10"/><stop offset="0.85" stop-color="#f9ff06"/><stop offset="0.87" stop-color="#fffc00"/><stop offset="0.9" stop-color="#fff500"/><stop offset="0.92" stop-color="#fff000"/><stop offset="0.95" stop-color="#ffeb00"/><stop offset="0.97" stop-color="#ffe800"/><stop offset="1" stop-color="#ffe400"/></linearGradient><linearGradient id="h39"><stop offset="0" stop-color="#0000a4"/><stop offset="0.03" stop-color="#0000a8"/><stop offset="0.05" stop-color="#0000ac"/><stop offset="0.08" stop-color="#0000b1"/><stop offset="0.1" stop-color="#0000b7"/><stop offset="0.13" stop-color="#0000bf"/><stop offset="0.15" stop-color="#0000ca"/><stop offset="0.18" stop-color="#0000d6"/><stop offset="0.21" stop-color="#0000e6"/><stop offset="0.23" stop-color="#0000f9"/><stop offset="0.26" stop-color="#0011ff"/><stop offset="0.28" stop-color="#002bff"/><stop offset="0.31" stop-color="#0046ff"/><stop offset="0.33" stop-color="#0060ff"/><stop offset="0.36" stop-color="#007aff"/><stop offset="0.38" stop-color="#0091ff"/><stop offset="0.41" stop-color="#00a6ff"/><stop offset="0.44" stop-color="#00b9ff"/><stop offset="0.46" stop-color="#00cdff"/><stop offset="0.49" stop-color="#00e1ff"/><stop offset="0.51" stop-color="#00f6ff"/><stop offset="0.54" stop-color="#0efff1"/><stop offset="0.56" stop-color="#27ffd8"/><stop offset="0.59" stop-color="#40ffbf"/><stop offset="0.62" stop-color="#5affa5"/><stop offset="0.64" stop-color="#75ff8a"/><stop offset="0.67" stop-color="#90ff6f"/><stop offset="0.69" stop-color="#a9ff56"/><stop offset="0.72" stop-color="#c0ff3f"/><stop offset="0.74" stop-color="#d5ff2a"/><stop offset="0.77" stop-color="#e7ff18"/><stop offset="0.79" stop-color="#f5ff0a"/><stop offset="0.82" stop-color="#fffd00"/><stop offset="0.85" stop-color="#fff400"/><stop offset="0.87" stop-color="#ffec00"/><stop offset="0.9" stop-color="#ffe500"/><stop offset="0.92" stop-color="#ffe000"/><stop offset="0.95" stop-color="#ffdc00"/><stop offset="0.97" stop-color="#ffd800"/><stop offset="1" stop-color="#ffd400"/></linearGradient><linearGradient id="h40"><stop offset="0" stop-color="#0000a5"/><stop offset="0.03" stop-color="#0000a9"/><stop offset="0.05" stop-color="#0000ad"/><stop offset="0.08" stop-color="#0000b3"/><stop offset="0.1" stop-color="#0000b9"/><stop offset="0.13" stop-color="#0000c1"/><stop offset="0.15" stop-color="#0000cc"/><stop offset="0.18" stop-color="#0000d9"/><stop offset="0.21" stop-color="#0000ea"/><stop offset="0.23" stop-color="#0000fe"/><stop offset="0.26" stop-color="#0017ff"/><stop offset="0.28" stop-color="#0031ff"/><stop offset="0.31" stop-color="#004cff"/><stop offset="0.33" stop-color="#0066ff"/><stop offset="0.36" stop-color="#007fff"/><stop offset="0.38" stop-color="#0097ff"/><stop offset="0.41" stop-color="#00acff"/><stop offset="0.44" stop-color="#00c0ff"/><stop offset="0.46" stop-color="#00d4ff"/><stop offset="0.49" stop-color="#00eaff"/><stop offset="0.51" stop-color="#01fffe"/><stop offset="0.54" stop-color="#1affe5"/><stop offset="0.56" stop-color="#34ffcb"/><stop offset="0.59" stop-color="#4fffb0"/><stop offset="0.62" stop-color="#6bff94"/><stop offset="0.64" stop-color="#87ff78"/><stop offset="0.67" stop-color="#a3ff5c"/><stop offset="0.69" stop-color="#bcff43"/><stop offset="0.72" stop-color="#d4ff2b"/><stop offset="0.74" stop-color="#e9ff16"/><stop offset="0.77" stop-color="#faff05"/><stop offset="0.79" stop-color="#fff600"/><stop offset="0.82" stop-color="#ffec00"/><stop offset="0.85" stop-color="#ffe300"/><stop offset="0.87" stop-color="#ffdb00"/><stop offset="0.9" stop-color="#ffd500"/><stop offset="0.92" stop-color="#ffd000"/><stop offset="0.95" stop-color="#ffcc00"/><stop offset="0.97" stop-color="#ffc800"/><stop offset="1" stop-color="#ffc500"/></linearGradient><linearGradient id="h41"><stop offset="0" stop-color="#0000a5"/><stop offset="0.03" stop-color="#0000aa"/><stop offset="0.05" stop-color="#0000ae"/><stop offset="0.08" stop-color="#0000b4"/><stop offset="0.1" stop-color="#0000bb"/><stop offset="0.13" stop-color="#0000c4"/><stop offset="0.15" stop-color="#0000cf"/><stop offset="0.18" stop-color="#0000dd"/><stop offset="0.21" stop-color="#0000ee"/><stop offset="0.23" stop-color="#0004ff"/><stop offset="0.26" stop-color="#001dff"/><stop offset="0.28" stop-color="#0037ff"/><stop offset="0.31" stop-color="#0052ff"/><stop offset="0.33" stop-color="#006cff"/><stop offset="0.36" stop-color="#0085ff"/><stop offset="0.38" stop-color="#009cff"/><stop offset="0.41" stop-color="#00b1ff"/><stop offset="0.44" stop-color="#00c6ff"/><stop offset="0.46" stop-color="#00dcff"/><stop offset="0.49" stop-color="#00f3ff"/><stop offset="0.51" stop-color="#0cfff3"/><stop offset="0.54" stop-color="#26ffd9"/><stop offset="0.56" stop-color="#42ffbd"/><stop offset="0.59" stop-color="#5fffa0"/><stop offset="0.62" stop-color="#7cff83"/><stop offset="0.64" stop-color="#9aff65"/><stop offset="0.67" stop-color="#b6ff49"/><stop offset="0.69" stop-color="#d0ff2f"/><stop offset="0.72" stop-color="#e8ff17"/><stop offset="0.74" stop-color="#fcff03"/><stop offset="0.77" stop-color="#fff100"/><stop offset="0.79" stop-color="#ffe400"/><stop offset="0.82" stop-color="#ffda00"/><stop offset="0.85" stop-color="#ffd200"/><stop offset="0.87" stop-color="#ffcb00"/><stop offset="0.9" stop-color="#ffc500"/><stop offset="0.92" stop-color="#ffc000"/><stop offset="0.95" stop-color="#ffbc00"/><stop offset="0.97" stop-color="#ffb800"/><stop offset="1" stop-color="#ffb500"/></linearGradient><linearGradient id="h42"><stop offset="0" stop-color="#0000a6"/><stop offset="0.03" stop-color="#0000ab"/><stop offset="0.05" stop-color="#0000af"/><stop offset="0.08" stop-color="#0000b5"/><stop offset="0.1" stop-color="#0000bc"/><stop offset="0.13" stop-color="#0000c6"/><stop offset="0.15" stop-color="#0000d2"/><stop offset="0.18" stop-color="#0000e1"/><stop offset="0.21" stop-color="#0000f3"/><stop offset="0.23" stop-color="#000aff"/><stop offset="0.26" stop-color="#0023ff"/><stop offset="0.28" stop-color="#003eff"/><stop offset="0.31" stop-color="#0059ff"/><stop offset="0.33" stop-color="#0073ff"/><stop offset="0.36" stop-color="#008bff"/><stop offset="0.38" stop-color="#00a1ff"/><stop offset="0.41" stop-color="#00b7ff"/><stop offset="0.44" stop-color="#00cdff"/><stop offset="0.46" stop-color="#00e4ff"/><stop offset="0.49" stop-color="#00fcff"/><stop offset="0.51" stop-color="#17ffe8"/><stop offset="0.54" stop-color="#33ffcc"/><stop offset="0.56" stop-color="#50ffaf"/><stop offset="0.59" stop-color="#6fff90"/><stop offset="0.62" stop-color="#8eff71"/><stop offset="0.64" stop-color="#adff52"/><stop offset="0.67" stop-color="#caff35"/><stop offset="0.69" stop-color="#e4ff1b"/><stop offset="0.72" stop-color="#fcff03"/><stop offset="0.74" stop-color="#ffef00"/><stop offset="0.77" stop-color="#ffde00"/><stop offset="0.79" stop-color="#ffd200"/><stop offset="0.82" stop-color="#ffc900"/><stop offset="0.85" stop-color="#ffc100"/><stop offset="0.87" stop-color="#ffbb00"/><stop offset="0.9" stop-color="#ffb500"/><stop offset="0.92" stop-color="#ffb000"/><stop offset="0.95" stop-color="#ffac00"/><stop offset="0.97" stop-color="#ffa800"/><stop offset="1" stop-color="#ffa500"/></linearGradient><linearGradient id="h43"><stop offset="0" stop-color="#0000a7"/><stop offset="0.03" stop-color="#0000ab"/><stop offset="0.05" stop-color="#0000b1"/><stop offset="0.08" stop-color="#0000b7"/><stop offset="0.1" stop-color="#0000be"/><stop offset="0.13" stop-color="#0000c8"/><stop offset="0.15" stop-color="#0000d5"/><stop offset="0.18" stop-color="#0000e5"/><stop offset="0.21" stop-color="#0000f8"/><stop offset="0.23" stop-color="#0010ff"/><stop offset="0.26" stop-color="#002aff"/><stop offset="0.28" stop-color="#0046ff"/><stop offset="0.31" stop-color="#0060ff"/><stop offset="0.33" stop-color="#0079ff"/><stop offset="0.36" stop-color="#0091ff"/><stop offset="0.38" stop-color="#00a7ff"/><stop offset="0.41" stop-color="#00bdff"/><stop offset="0.44" stop-color="#00d4ff"/><stop offset="0.46" stop-color="#00ebff"/><stop offset="0.49" stop-color="#06fff9"/><stop offset="0.51" stop-color="#22ffdd"/><stop offset="0.54" stop-color="#40ffbf"/><stop offset="0.56" stop-color="#5fffa0"/><stop offset="0.59" stop-color="#7fff80"/><stop offset="0.62" stop-color="#a0ff5f"/><stop offset="0.64" stop-color="#c0ff3f"/><stop offset="0.67" stop-color="#deff21"/><stop offset="0.69" stop-color="#f9ff06"/><stop offset="0.72" stop-color="#ffee00"/><stop offset="0.74" stop-color="#ffdb00"/><stop offset="0.77" stop-color="#ffcc00"/><stop offset="0.79" stop-color="#ffc100"/><stop offset="0.82" stop-color="#ffb800"/><stop offset="0.85" stop-color="#ffb100"/><stop offset="0.87" stop-color="#ffaa00"/><stop offset="0.9" stop-color="#ffa500"/><stop offset="0.92" stop-color="#ffa000"/><stop offset="0.95" stop-color="#ff9c00"/><stop offset="0.97" stop-color="#ff9800"/><stop offset="1" stop-color="#ff9500"/></linearGradient><linearGradient id="h44"><stop offset="0" stop-color="#0000a7"/><stop offset="0.03" stop-color="#0000ac"/><stop offset="0.05" stop-color="#0000b2"/><stop offset="0.08" stop-color="#0000b8"/><stop offset="0.1" stop-color="#0000c0"/><stop offset="0.13" stop-color="#0000cb"/><stop offset="0.15" stop-color="#0000d8"/><stop offset="0.18" stop-color="#0000e9"/><stop offset="0.21" stop-color="#0000fe"/><stop offset="0.23" stop-color="#0017ff"/><stop offset="0.26" stop-color="#0032ff"/><stop offset="0.28" stop-color="#004dff"/><stop offset="0.31" stop-color="#0068ff"/><stop offset="0.33" stop-color="#0080ff"/><stop offset="0.36" stop-color="#0097ff"/><stop offset="0.38" stop-color="#00adff"/><stop offset="0.41" stop-color="#00c3ff"/><stop offset="0.44" stop-color="#00daff"/><stop offset="0.46" stop-color="#00f3ff"/><stop offset="0.49" stop-color="#10ffef"/><stop offset="0.51" stop-color="#2dffd2"/><stop offset="0.54" stop-color="#4dffb2"/><stop offset="0.56" stop-color="#6eff91"/><stop offset="0.59" stop-color="#90ff6f"/><stop offset="0.62" stop-color="#b2ff4d"/><stop offset="0.64" stop-color="#d3ff2c"/><stop offset="0.67" stop-color="#f2ff0d"/><stop offset="0.69" stop-color="#fff100"/><stop offset="0.72" stop-color="#ffda00"/><stop offset="0.74" stop-color="#ffc800"/><stop offset="0.77" stop-color="#ffba00"/><stop offset="0.79" stop-color="#ffaf00"/><stop offset="0.82" stop-color="#ffa700"/><stop offset="0.85" stop-color="#ffa100"/><stop offset="0.87" stop-color="#ff9a00"/><stop offset="0.9" stop-color="#ff9500"/><stop offset="0.92" stop-color="#ff9000"/><stop offset="0.95" stop-color="#ff8c00"/><stop offset="0.97" stop-color="#ff8800"/><stop offset="1" stop-color="#ff8600"/></linearGradient><linearGradient id="h45"><stop offset="0" stop-color="#0000a8"/><stop offset="0.03" stop-color="#0000ad"/><stop offset="0.05" stop-color="#0000b3"/><stop offset="0.08" stop-color="#0000ba"/><stop offset="0.1" stop-color="#0000c2"/><stop offset="0.13" stop-color="#0000cd"/><stop offset="0.15" stop-color="#0000db"/><stop offset="0.18" stop-color="#0000ed"/><stop offset="0.21" stop-color="#0004ff"/><stop offset="0.23" stop-color="#001eff"/><stop offset="0.26" stop-color="#003aff"/><stop offset="0.28" stop-color="#0055ff"/><stop offset="0.31" stop-color="#006fff"/><stop offset="0.33" stop-color="#0087ff"/><stop offset="0.36" stop-color="#009dff"/><stop offset="0.38" stop-color="#00b3ff"/><stop offset="0.41" stop-color="#00c9ff"/><stop offset="0.44" stop-color="#00e1ff"/><stop offset="0.46" stop-color="#00fbff"/><stop offset="0.49" stop-color="#19ffe6"/><stop offset="0.51" stop-color="#39ffc6"/><stop offset="0.54" stop-color="#5bffa4"/><stop offset="0.56" stop-color="#7eff81"/><stop offset="0.59" stop-color="#a1ff5e"/><stop offset="0.62" stop-color="#c5ff3a"/><stop offset="0.64" stop-color="#e7ff18"/><stop offset="0.67" stop-color="#fff800"/><stop offset="0.69" stop-color="#ffdc00"/><stop offset="0.72" stop-color="#ffc600"/><stop offset="0.74" stop-color="#ffb400"/><stop offset="0.77" stop-color="#ffa700"/><stop offset="0.79" stop-color="#ff9d00"/><stop offset="0.82" stop-color="#ff9600"/><stop offset="0.85" stop-color="#ff9000"/><stop offset="0.87" stop-color="#ff8a00"/><stop offset="0.9" stop-color="#ff8400"/><stop offset="0.92" stop-color="#ff8000"/><stop offset="0.95" stop-color="#ff7c00"/><stop offset="0.97" stop-color="#ff7800"/><stop offset="1" stop-color="#ff7600"/></linearGradient><linearGradient id="h46"><stop offset="0" stop-color="#0000a9"/><stop offset="0.03" stop-color="#0000af"/><stop offset="0.05" stop-color="#0000b4"/><stop offset="0.08" stop-color="#0000bb"/><stop offset="0.1" stop-color="#0000c4"/><stop offset="0.13" stop-color="#0000d0"/><stop offset="0.15" stop-color="#0000de"/><stop offset="0.18" stop-color="#0000f1"/><stop offset="0.21" stop-color="#000aff"/><stop offset="0.23" stop-color="#0025ff"/><stop offset="0.26" stop-color="#0042ff"/><stop offset="0.28" stop-color="#005eff"/><stop offset="0.31" stop-color="#0077ff"/><stop offset="0.33" stop-color="#008eff"/><stop offset="0.36" stop-color="#00a4ff"/><stop offset="0.38" stop-color="#00b9ff"/><stop offset="0.41" stop-color="#00d0ff"/><stop offset="0.44" stop-color="#00e8ff"/><stop offset="0.46" stop-color="#05fffa"/><stop offset="0.49" stop-color="#23ffdc"/><stop offset="0.51" stop-color="#45ffba"/><stop offset="0.54" stop-color="#69ff96"/><stop offset="0.56" stop-color="#8eff71"/><stop offset="0.59" stop-color="#b3ff4c"/><stop offset="0.62" stop-color="#d8ff27"/><stop offset="0.64" stop-color="#fbff04"/><stop offset="0.67" stop-color="#ffe300"/><stop offset="0.69" stop-color="#ffc700"/><stop offset="0.72" stop-color="#ffb100"/><stop offset="0.74" stop-color="#ffa000"/><stop offset="0.77" stop-color="#ff9400"/><stop offset="0.79" stop-color="#ff8b00"/><stop offset="0.82" stop-color="#ff8500"/><stop offset="0.85" stop-color="#ff7f00"/><stop offset="0.87" stop-color="#ff7900"/><stop offset="0.9" stop-color="#ff7400"/><stop offset="0.92" stop-color="#ff6f00"/><stop offset="0.95" stop-color="#ff6c00"/><stop offset="0.97" stop-color="#ff6900"/><stop offset="1" stop-color="#ff6700"/></linearGradient><linearGradient id="h47"><stop offset="0" stop-color="#0000aa"/><stop offset="0.03" stop-color="#0000b0"/><stop offset="0.05" stop-color="#0000b6"/><stop offset="0.08" stop-color="#0000bd"/><stop offset="0.1" stop-color="#0000c6"/><stop offset="0.13" stop-color="#0000d2"/><stop offset="0.15" stop-color="#0000e2"/><stop offset="0.18" stop-color="#0000f5"/><stop offset="0.21" stop-color="#000fff"/><stop offset="0.23" stop-color="#002cff"/><stop offset="0.26" stop-color="#004aff"/><stop offset="0.28" stop-color="#0066ff"/><stop offset="0.31" stop-color="#007fff"/><stop offset="0.33" stop-color="#0095ff"/><stop offset="0.36" stop-color="#00abff"/><stop offset="0.38" stop-color="#00c0ff"/><stop offset="0.41" stop-color="#00d6ff"/><stop offset="0.44" stop-color="#00efff"/><stop offset="0.46" stop-color="#0dfff2"/><stop offset="0.49" stop-color="#2effd1"/><stop offset="0.51" stop-color="#51ffae"/><stop offset="0.54" stop-color="#77ff88"/><stop offset="0.56" stop-color="#9eff61"/><stop offset="0.59" stop-color="#c6ff39"/><stop offset="0.62" stop-color="#ecff13"/><stop offset="0.64" stop-color="#ffee00"/><stop offset="0.67" stop-color="#ffcd00"/><stop offset="0.69" stop-color="#ffb200"/><stop offset="0.72" stop-color="#ff9d00"/><stop offset="0.74" stop-color="#ff8c00"/><stop offset="0.77" stop-color="#ff8100"/><stop offset="0.79" stop-color="#ff7900"/><stop offset="0.82" stop-color="#ff7300"/><stop offset="0.85" stop-color="#ff6e00"/><stop offset="0.87" stop-color="#ff6900"/><stop offset="0.9" stop-color="#ff6400"/><stop offset="0.92" stop-color="#ff5f00"/><stop offset="0.95" stop-color="#ff5c00"/><stop offset="0.97" stop-color="#ff5900"/><stop offset="1" stop-color="#ff5800"/></linearGradient><linearGradient id="h48"><stop offset="0" stop-color="#0000ac"/><stop offset="0.03" stop-color="#0000b1"/><stop offset="0.05" stop-color="#0000b7"/><stop offset="0.08" stop-color="#0000bf"/><stop offset="0.1" stop-color="#0000c9"/><stop offset="0.13" stop-color="#0000d5"/><stop offset="0.15" stop-color="#0000e5"/><stop offset="0.18" stop-color="#0000fa"/><stop offset="0.21" stop-color="#0015ff"/><stop offset="0.23" stop-color="#0032ff"/><stop offset="0.26" stop-color="#0051ff"/><stop offset="0.28" stop-color="#006fff"/><stop offset="0.31" stop-color="#0087ff"/><stop offset="0.33" stop-color="#009cff"/><stop offset="0.36" stop-color="#00b1ff"/><stop offset="0.38" stop-color="#00c6ff"/><stop offset="0.41" stop-color="#00ddff"/><stop offset="0.44" stop-color="#00f7ff"/><stop offset="0.46" stop-color="#16ffe9"/><stop offset="0.49" stop-color="#38ffc7"/><stop offset="0.51" stop-color="#5effa1"/><stop offset="0.54" stop-color="#86ff79"/><stop offset="0.56" stop-color="#afff50"/><stop offset="0.59" stop-color="#d9ff26"/><stop offset="0.62" stop-color="#fffd00"/><stop offset="0.64" stop-color="#ffd800"/><stop offset="0.67" stop-color="#ffb700"/><stop offset="0.69" stop-color="#ff9c00"/><stop offset="0.72" stop-color="#ff8700"/><stop offset="0.74" stop-color="#ff7800"/><stop offset="0.77" stop-color="#ff6d00"/><stop offset="0.79" stop-color="#ff6600"/><stop offset="0.82" stop-color="#ff6100"/><stop offset="0.85" stop-color="#ff5d00"/><stop offset="0.87" stop-color="#ff5800"/><stop offset="0.9" stop-color="#ff5300"/><stop offset="0.92" stop-color="#ff4f00"/><stop offset="0.95" stop-color="#ff4c00"/><stop offset="0.97" stop-color="#ff4a00"/><stop offset="1" stop-color="#ff4900"/></linearGradient><linearGradient id="h49"><stop offset="0" stop-color="#0000ad"/><stop offset="0.03" stop-color="#0000b2"/><stop offset="0.05" stop-color="#0000b9"/><stop offset="0.08" stop-color="#0000c1"/><stop offset="0.1" stop-color="#0000cb"/><stop offset="0.13" stop-color="#0000d8"/><stop offset="0.15" stop-color="#0000e9"/><stop offset="0.18" stop-color="#0000fe"/><stop offset="0.21" stop-color="#001aff"/><stop offset="0.23" stop-color="#0039ff"/><stop offset="0.26" stop-color="#0058ff"/><stop offset="0.28" stop-color="#0076ff"/><stop offset="0.31" stop-color="#008eff"/><stop offset="0.33" stop-color="#00a3ff"/><stop offset="0.36" stop-color="#00b8ff"/><stop offset="0.38" stop-color="#00cdff"/><stop offset="0.41" stop-color="#00e5ff"/><stop offset="0.44" stop-color="#01fffe"/><stop offset="0.46" stop-color="#20ffdf"/><stop offset="0.49" stop-color="#44ffbb"/><stop offset="0.51" stop-color="#6bff94"/><stop offset="0.54" stop-color="#95ff6a"/><stop offset="0.56" stop-color="#c1ff3e"/><stop offset="0.59" stop-color="#edff12"/><stop offset="0.62" stop-color="#ffe700"/><stop offset="0.64" stop-color="#ffc100"/><stop offset="0.67" stop-color="#ffa000"/><stop offset="0.69" stop-color="#ff8600"/><stop offset="0.72" stop-color="#ff7200"/><stop offset="0.74" stop-color="#ff6400"/><stop offset="0.77" stop-color="#ff5a00"/><stop offset="0.79" stop-color="#ff5400"/><stop offset="0.82" stop-color="#ff4f00"/><stop offset="0.85" stop-color="#ff4b00"/><stop offset="0.87" stop-color="#ff4700"/><stop offset="0.9" stop-color="#ff4200"/><stop offset="0.92" stop-color="#ff3e00"/><stop offset="0.95" stop-color="#ff3c00"/><stop offset="0.97" stop-color="#ff3a00"/><stop offset="1" stop-color="#ff3a00"/></linearGradient><linearGradient id="h50"><stop offset="0" stop-color="#0000ad"/><stop offset="0.03" stop-color="#0000b3"/><stop offset="0.05" stop-color="#0000ba"/><stop offset="0.08" stop-color="#0000c3"/><stop offset="0.1" stop-color="#0000cd"/><stop offset="0.13" stop-color="#0000db"/><stop offset="0.15" stop-color="#0000ed"/><stop offset="0.18" stop-color="#0004ff"/><stop offset="0.21" stop-color="#0020ff"/><stop offset="0.23" stop-color="#003fff"/><stop offset="0.26" stop-color="#005fff"/><stop offset="0.28" stop-color="#007dff"/><stop offset="0.31" stop-color="#0094ff"/><stop offset="0.33" stop-color="#00a9ff"/><stop offset="0.36" stop-color="#00beff"/><stop offset="0.38" stop-color="#00d4ff"/><stop offset="0.41" stop-color="#00ecff"/><stop offset="0.44" stop-color="#0afff5"/><stop offset="0.46" stop-color="#2affd5"/><stop offset="0.49" stop-color="#4fffb0"/><stop offset="0.51" stop-color="#78ff87"/><stop offset="0.54" stop-color="#a5ff5a"/><stop offset="0.56" stop-color="#d3ff2c"/><stop offset="0.59" stop-color="#fffc00"/><stop offset="0.62" stop-color="#ffd000"/><stop offset="0.64" stop-color="#ffa900"/><stop offset="0.67" stop-color="#ff8900"/><stop offset="0.69" stop-color="#ff7000"/><stop offset="0.72" stop-color="#ff5d00"/><stop offset="0.74" stop-color="#ff4f00"/><stop offset="0.77" stop-color="#ff4600"/><stop offset="0.79" stop-color="#ff4100"/><stop offset="0.82" stop-color="#ff3e00"/><stop offset="0.85" stop-color="#ff3a00"/><stop offset="0.87" stop-color="#ff3600"/><stop offset="0.9" stop-color="#ff3200"/><stop offset="0.92" stop-color="#ff2e00"/><stop offset="0.95" stop-color="#ff2c00"/><stop offset="0.97" stop-color="#ff2b00"/><stop offset="1" stop-color="#ff2b00"/></linearGradient><linearGradient id="h51"><stop offset="0" stop-color="#0000ae"/><stop offset="0.03" stop-color="#0000b5"/><stop offset="0.05" stop-color="#0000bc"/><stop offset="0.08" stop-color="#0000c5"/><stop offset="0.1" stop-color="#0000d0"/><stop offset="0.13" stop-color="#0000df"/><stop offset="0.15" stop-color="#0000f1"/><stop offset="0.18" stop-color="#0009ff"/><stop offset="0.21" stop-color="#0025ff"/><stop offset="0.23" stop-color="#0045ff"/><stop offset="0.26" stop-color="#0064ff"/><stop offset="0.28" stop-color="#0081ff"/><stop offset="0.31" stop-color="#009aff"/><stop offset="0.33" stop-color="#00afff"/><stop offset="0.36" stop-color="#00c4ff"/><stop offset="0.38" stop-color="#00dbff"/><stop offset="0.41" stop-color="#00f4ff"/><stop offset="0.44" stop-color="#13ffec"/><stop offset="0.46" stop-color="#35ffca"/><stop offset="0.49" stop-color="#5cffa3"/><stop offset="0.51" stop-color="#86ff79"/><stop offset="0.54" stop-color="#b4ff4b"/><stop offset="0.56" stop-color="#e5ff1a"/><stop offset="0.59" stop-color="#ffe600"/><stop offset="0.62" stop-color="#ffb800"/><stop offset="0.64" stop-color="#ff9100"/><stop offset="0.67" stop-color="#ff7200"/><stop offset="0.69" stop-color="#ff5a00"/><stop offset="0.72" stop-color="#ff4700"/><stop offset="0.74" stop-color="#ff3b00"/><stop offset="0.77" stop-color="#ff3300"/><stop offset="0.79" stop-color="#ff2f00"/><stop offset="0.82" stop-color="#ff2c00"/><stop offset="0.85" stop-color="#ff2900"/><stop offset="0.87" stop-color="#ff2500"/><stop offset="0.9" stop-color="#ff2100"/><stop offset="0.92" stop-color="#ff1e00"/><stop offset="0.95" stop-color="#ff1c00"/><stop offset="0.97" stop-color="#ff1b00"/><stop offset="1" stop-color="#ff1c00"/></linearGradient><linearGradient id="h52"><stop offset="0" stop-color="#0000af"/><stop offset="0.03" stop-color="#0000b6"/><stop offset="0.05" stop-color="#0000bd"/><stop offset="0.08" stop-color="#0000c7"/><stop offset="0.1" stop-color="#0000d3"/><stop offset="0.13" stop-color="#0000e2"/><stop offset="0.15" stop-color="#0000f6"/><stop offset="0.18" stop-color="#000fff"/><stop offset="0.21" stop-color="#002bff"/><stop offset="0.23" stop-color="#004aff"/><stop offset="0.26" stop-color="#0069ff"/><stop offset="0.28" stop-color="#0086ff"/><stop offset="0.31" stop-color="#009fff"/><stop offset="0.33" stop-color="#00b5ff"/><stop offset="0.36" stop-color="#00cbff"/><stop offset="0.38" stop-color="#00e2ff"/><stop offset="0.41" stop-color="#00fdff"/><stop offset="0.44" stop-color="#1dffe2"/><stop offset="0.46" stop-color="#40ffbf"/><stop offset="0.49" stop-color="#68ff97"/><stop offset="0.51" stop-color="#95ff6a"/><stop offset="0.54" stop-color="#c5ff3a"/><stop offset="0.56" stop-color="#f8ff07"/><stop offset="0.59" stop-color="#ffd100"/><stop offset="0.62" stop-color="#ffa000"/><stop offset="0.64" stop-color="#ff7a00"/><stop offset="0.67" stop-color="#ff5c00"/><stop offset="0.69" stop-color="#ff4400"/><stop offset="0.72" stop-color="#ff3200"/><stop offset="0.74" stop-color="#ff2700"/><stop offset="0.77" stop-color="#ff2000"/><stop offset="0.79" stop-color="#ff1d00"/><stop offset="0.82" stop-color="#ff1b00"/><stop offset="0.85" stop-color="#ff1900"/><stop offset="0.87" stop-color="#ff1500"/><stop offset="0.9" stop-color="#ff1000"/><stop offset="0.92" stop-color="#ff0d00"/><stop offset="0.95" stop-color="#ff0c00"/><stop offset="0.97" stop-color="#ff0c00"/><stop offset="1" stop-color="#ff0e00"/></linearGradient><linearGradient id="h53"><stop offset="0" stop-color="#0000b0"/><stop offset="0.03" stop-color="#0000b7"/><stop offset="0.05" stop-color="#0000bf"/><stop offset="0.08" stop-color="#0000c9"/><stop offset="0.1" stop-color="#0000d5"/><stop offset="0.13" stop-color="#0000e6"/><stop offset="0.15" stop-color="#0000fa"/><stop offset="0.18" stop-color="#0015ff"/><stop offset="0.21" stop-color="#0031ff"/><stop offset="0.23" stop-color="#0050ff"/><stop offset="0.26" stop-color="#006fff"/><stop offset="0.28" stop-color="#008bff"/><stop offset="0.31" stop-color="#00a4ff"/><stop offset="0.33" stop-color="#00baff"/><stop offset="0.36" stop-color="#00d1ff"/><stop offset="0.38" stop-color="#00e9ff"/><stop offset="0.41" stop-color="#06fff9"/><stop offset="0.44" stop-color="#27ffd8"/><stop offset="0.46" stop-color="#4cffb3"/><stop offset="0.49" stop-color="#76ff89"/><stop offset="0.51" stop-color="#a4ff5b"/><stop offset="0.54" stop-color="#d6ff29"/><stop offset="0.56" stop-color="#fff300"/><stop offset="0.59" stop-color="#ffbc00"/><stop offset="0.62" stop-color="#ff8a00"/><stop offset="0.64" stop-color="#ff6400"/><stop offset="0.67" stop-color="#ff4700"/><stop offset="0.69" stop-color="#ff2f00"/><stop offset="0.72" stop-color="#ff1f00"/><stop offset="0.74" stop-color="#ff1400"/><stop offset="0.77" stop-color="#ff0e00"/><stop offset="0.79" stop-color="#ff0b00"/><stop offset="0.82" stop-color="#ff0a00"/><stop offset="0.85" stop-color="#ff0800"/><stop offset="0.87" stop-color="#ff0400"/><stop offset="0.9" stop-color="#ff0000"/><stop offset="0.92" stop-color="#fc0000"/><stop offset="0.95" stop-color="#fb0000"/><stop offset="0.97" stop-color="#fc0000"/><stop offset="1" stop-color="#fe0000"/></linearGradient><linearGradient id="h54"><stop offset="0" stop-color="#0000b1"/><stop offset="0.03" stop-color="#0000b8"/><stop offset="0.05" stop-color="#0000c0"/><stop offset="0.08" stop-color="#0000cb"/><stop offset="0.1" stop-color="#0000d8"/><stop offset="0.13" stop-color="#0000e9"/><stop offset="0.15" stop-color="#0000ff"/><stop offset="0.18" stop-color="#001aff"/><stop offset="0.21" stop-color="#0038ff"/><stop offset="0.23" stop-color="#0056ff"/><stop offset="0.26" stop-color="#0074ff"/><stop offset="0.28" stop-color="#0090ff"/><stop offset="0.31" stop-color="#00a9ff"/><stop offset="0.33" stop-color="#00c0ff"/><stop offset="0.36" stop-color="#00d8ff"/><stop offset="0.38" stop-color="#00f1ff"/><stop offset="0.41" stop-color="#10ffef"/><stop offset="0.44" stop-color="#32ffcd"/><stop offset="0.46" stop-color="#58ffa7"/><stop offset="0.49" stop-color="#83ff7c"/><stop offset="0.51" stop-color="#b3ff4c"/><stop offset="0.54" stop-color="#e7ff18"/><stop offset="0.56" stop-color="#ffe000"/><stop offset="0.59" stop-color="#ffa800"/><stop offset="0.62" stop-color="#ff7700"/><stop offset="0.64" stop-color="#ff5100"/><stop offset="0.67" stop-color="#ff3400"/><stop offset="0.69" stop-color="#ff1c00"/><stop offset="0.72" stop-color="#ff0c00"/><stop offset="0.74" stop-color="#ff0300"/><stop offset="0.77" stop-color="#fc0000"/><stop offset="0.79" stop-color="#fa0000"/><stop offset="0.82" stop-color="#f80000"/><stop offset="0.85" stop-color="#f70000"/><stop offset="0.87" stop-color="#f30000"/><stop offset="0.9" stop-color="#ef0000"/><stop offset="0.92" stop-color="#ec0000"/><stop offset="0.95" stop-color="#eb0000"/><stop offset="0.97" stop-color="#ec0000"/><stop offset="1" stop-color="#ef0000"/></linearGradient><linearGradient id="h55"><stop offset="0" stop-color="#0000b2"/><stop offset="0.03" stop-color="#0000b9"/><stop offset="0.05" stop-color="#0000c2"/><stop offset="0.08" stop-color="#0000cd"/><stop offset="0.1" stop-color="#0000db"/><stop offset="0.13" stop-color="#0000ed"/><stop offset="0.15" stop-color="#0005ff"/><stop offset="0.18" stop-color="#0020ff"/><stop offset="0.21" stop-color="#003eff"/><stop offset="0.23" stop-color="#005cff"/><stop offset="0.26" stop-color="#007aff"/><stop offset="0.28" stop-color="#0096ff"/><stop offset="0.31" stop-color="#00afff"/><stop offset="0.33" stop-color="#00c7ff"/><stop offset="0.36" stop-color="#00dfff"/><stop offset="0.38" stop-color="#00f9ff"/><stop offset="0.41" stop-color="#19ffe6"/><stop offset="0.44" stop-color="#3dffc2"/><stop offset="0.46" stop-color="#65ff9a"/><stop offset="0.49" stop-color="#91ff6e"/><stop offset="0.51" stop-color="#c3ff3c"/><stop offset="0.54" stop-color="#faff05"/><stop offset="0.56" stop-color="#ffcb00"/><stop offset="0.59" stop-color="#ff9500"/><stop offset="0.62" stop-color="#ff6500"/><stop offset="0.64" stop-color="#ff4000"/><stop offset="0.67" stop-color="#ff2300"/><stop offset="0.69" stop-color="#ff0c00"/><stop offset="0.72" stop-color="#fb0000"/><stop offset="0.74" stop-color="#f20000"/><stop offset="0.77" stop-color="#ec0000"/><stop offset="0.79" stop-color="#ea0000"/><stop offset="0.82" stop-color="#e80000"/><stop offset="0.85" stop-color="#e60000"/><stop offset="0.87" stop-color="#e30000"/><stop offset="0.9" stop-color="#df0000"/><stop offset="0.92" stop-color="#dc0000"/><stop offset="0.95" stop-color="#dc0000"/><stop offset="0.97" stop-color="#dd0000"/><stop offset="1" stop-color="#e10000"/></linearGradient><linearGradient id="h56"><stop offset="0" stop-color="#0000b3"/><stop offset="0.03" stop-color="#0000bb"/><stop offset="0.05" stop-color="#0000c4"/><stop offset="0.08" stop-color="#0000cf"/><stop offset="0.1" stop-color="#0000de"/><stop offset="0.13" stop-color="#0000f1"/><stop offset="0.15" stop-color="#000aff"/><stop offset="0.18" stop-color="#0026ff"/><stop offset="0.21" stop-color="#0044ff"/><stop offset="0.23" stop-color="#0063ff"/><stop offset="0.26" stop-color="#0080ff"/><stop offset="0.28" stop-color="#009cff"/><stop offset="0.31" stop-color="#00b5ff"/><stop offset="0.33" stop-color="#00ceff"/><stop offset="0.36" stop-color="#00e7ff"/><stop offset="0.38" stop-color="#04fffb"/><stop offset="0.41" stop-color="#24ffdb"/><stop offset="0.44" stop-color="#49ffb6"/><stop offset="0.46" stop-color="#72ff8d"/><stop offset="0.49" stop-color="#a0ff5f"/><stop offset="0.51" stop-color="#d3ff2c"/><stop offset="0.54" stop-color="#fff200"/><stop offset="0.56" stop-color="#ffb700"/><stop offset="0.59" stop-color="#ff8200"/><stop offset="0.62" stop-color="#ff5400"/><stop offset="0.64" stop-color="#ff3000"/><stop offset="0.67" stop-color="#ff1400"/><stop offset="0.69" stop-color="#fc0000"/><stop offset="0.72" stop-color="#ed0000"/><stop offset="0.74" stop-color="#e30000"/><stop offset="0.77" stop-color="#de0000"/><stop offset="0.79" stop-color="#db0000"/><stop offset="0.82" stop-color="#d90000"/><stop offset="0.85" stop-color="#d70000"/><stop offset="0.87" stop-color="#d30000"/><stop offset="0.9" stop-color="#cf0000"/><stop offset="0.92" stop-color="#cd0000"/><stop offset="0.95" stop-color="#cd0000"/><stop offset="0.97" stop-color="#cf0000"/><stop offset="1" stop-color="#d30000"/></linearGradient><linearGradient id="h57"><stop offset="0" stop-color="#0000b4"/><stop offset="0.03" stop-color="#0000bc"/><stop offset="0.05" stop-color="#0000c5"/><stop offset="0.08" stop-color="#0000d1"/><stop offset="0.1" stop-color="#0000e1"/><stop offset="0.13" stop-color="#0000f5"/><stop offset="0.15" stop-color="#000fff"/><stop offset="0.18" stop-color="#002cff"/><stop offset="0.21" stop-color="#004bff"/><stop offset="0.23" stop-color="#006aff"/><stop offset="0.26" stop-color="#0087ff"/><stop offset="0.28" stop-color="#00a2ff"/><stop offset="0.31" stop-color="#00bcff"/><stop offset="0.33" stop-color="#00d6ff"/><stop offset="0.36" stop-color="#00f0ff"/><stop offset="0.38" stop-color="#0efff1"/><stop offset="0.41" stop-color="#30ffcf"/><stop offset="0.44" stop-color="#56ffa9"/><stop offset="0.46" stop-color="#80ff7f"/><stop offset="0.49" stop-color="#b0ff4f"/><stop offset="0.51" stop-color="#e5ff1a"/><stop offset="0.54" stop-color="#ffdf00"/><stop offset="0.56" stop-color="#ffa300"/><stop offset="0.59" stop-color="#ff7000"/><stop offset="0.62" stop-color="#ff4500"/><stop offset="0.64" stop-color="#ff2300"/><stop offset="0.67" stop-color="#ff0700"/><stop offset="0.69" stop-color="#f00000"/><stop offset="0.72" stop-color="#e10000"/><stop offset="0.74" stop-color="#d70000"/><stop offset="0.77" stop-color="#d10000"/><stop offset="0.79" stop-color="#ce0000"/><stop offset="0.82" stop-color="#cb0000"/><stop offset="0.85" stop-color="#c80000"/><stop offset="0.87" stop-color="#c40000"/><stop offset="0.9" stop-color="#c10000"/><stop offset="0.92" stop-color="#bf0000"/><stop offset="0.95" stop-color="#bf0000"/><stop offset="0.97" stop-color="#c10000"/><stop offset="1" stop-color="#c60000"/></linearGradient><linearGradient id="h58"><stop offset="0" stop-color="#0000b6"/><stop offset="0.03" stop-color="#0000be"/><stop offset="0.05" stop-color="#0000c7"/><stop offset="0.08" stop-color="#0000d3"/><stop offset="0.1" stop-color="#0000e3"/><stop offset="0.13" stop-color="#0000f8"/><stop offset="0.15" stop-color="#0014ff"/><stop offset="0.18" stop-color="#0032ff"/><stop offset="0.21" stop-color="#0052ff"/><stop offset="0.23" stop-color="#0071ff"/><stop offset="0.26" stop-color="#008eff"/><stop offset="0.28" stop-color="#00a9ff"/><stop offset="0.31" stop-color="#00c4ff"/><stop offset="0.33" stop-color="#00deff"/><stop offset="0.36" stop-color="#00faff"/><stop offset="0.38" stop-color="#1affe5"/><stop offset="0.41" stop-color="#3cffc3"/><stop offset="0.44" stop-color="#63ff9c"/><stop offset="0.46" stop-color="#8fff70"/><stop offset="0.49" stop-color="#c0ff3f"/><stop offset="0.51" stop-color="#f7ff08"/><stop offset="0.54" stop-color="#ffcb00"/><stop offset="0.56" stop-color="#ff9000"/><stop offset="0.59" stop-color="#ff5e00"/><stop offset="0.62" stop-color="#ff3700"/><stop offset="0.64" stop-color="#ff1700"/><stop offset="0.67" stop-color="#fc0000"/><stop offset="0.69" stop-color="#e60000"/><stop offset="0.72" stop-color="#d70000"/><stop offset="0.74" stop-color="#cd0000"/><stop offset="0.77" stop-color="#c60000"/><stop offset="0.79" stop-color="#c20000"/><stop offset="0.82" stop-color="#bf0000"/><stop offset="0.85" stop-color="#bb0000"/><stop offset="0.87" stop-color="#b70000"/><stop offset="0.9" stop-color="#b40000"/><stop offset="0.92" stop-color="#b20000"/><stop offset="0.95" stop-color="#b20000"/><stop offset="0.97" stop-color="#b40000"/><stop offset="1" stop-color="#ba0000"/></linearGradient><linearGradient id="h59"><stop offset="0" stop-color="#0000b7"/><stop offset="0.03" stop-color="#0000bf"/><stop offset="0.05" stop-color="#0000c9"/><stop offset="0.08" stop-color="#0000d5"/><stop offset="0.1" stop-color="#0000e6"/><stop offset="0.13" stop-color="#0000fc"/><stop offset="0.15" stop-color="#0019ff"/><stop offset="0.18" stop-color="#0039ff"/><stop offset="0.21" stop-color="#005aff"/><stop offset="0.23" stop-color="#0079ff"/><stop offset="0.26" stop-color="#0096ff"/><stop offset="0.28" stop-color="#00b1ff"/><stop offset="0.31" stop-color="#00ccff"/><stop offset="0.33" stop-color="#00e7ff"/><stop offset="0.36" stop-color="#05fffa"/><stop offset="0.38" stop-color="#25ffda"/><stop offset="0.41" stop-color="#49ffb6"/><stop offset="0.44" stop-color="#72ff8d"/><stop offset="0.46" stop-color="#9fff60"/><stop offset="0.49" stop-color="#d2ff2d"/><stop offset="0.51" stop-color="#fff300"/><stop offset="0.54" stop-color="#ffb700"/><stop offset="0.56" stop-color="#ff7e00"/><stop offset="0.59" stop-color="#ff4f00"/><stop offset="0.62" stop-color="#ff2a00"/><stop offset="0.64" stop-color="#ff0d00"/><stop offset="0.67" stop-color="#f30000"/><stop offset="0.69" stop-color="#de0000"/><stop offset="0.72" stop-color="#cf0000"/><stop offset="0.74" stop-color="#c40000"/><stop offset="0.77" stop-color="#be0000"/><stop offset="0.79" stop-color="#b90000"/><stop offset="0.82" stop-color="#b50000"/><stop offset="0.85" stop-color="#b00000"/><stop offset="0.87" stop-color="#ac0000"/><stop offset="0.9" stop-color="#a80000"/><stop offset="0.92" stop-color="#a60000"/><stop offset="0.95" stop-color="#a70000"/><stop offset="0.97" stop-color="#a90000"/><stop offset="1" stop-color="#af0000"/></linearGradient><linearGradient id="h60"><stop offset="0" stop-color="#0000b9"/><stop offset="0.03" stop-color="#0000c1"/><stop offset="0.05" stop-color="#0000cb"/><stop offset="0.08" stop-color="#0000d7"/><stop offset="0.1" stop-color="#0000e9"/><stop offset="0.13" stop-color="#0000ff"/><stop offset="0.15" stop-color="#001eff"/><stop offset="0.18" stop-color="#003fff"/><stop offset="0.21" stop-color="#0061ff"/><stop offset="0.23" stop-color="#0081ff"/><stop offset="0.26" stop-color="#009dff"/><stop offset="0.28" stop-color="#00b9ff"/><stop offset="0.31" stop-color="#00d4ff"/><stop offset="0.33" stop-color="#00f0ff"/><stop offset="0.36" stop-color="#10ffef"/><stop offset="0.38" stop-color="#32ffcd"/><stop offset="0.41" stop-color="#57ffa8"/><stop offset="0.44" stop-color="#81ff7e"/><stop offset="0.46" stop-color="#afff50"/><stop offset="0.49" stop-color="#e4ff1b"/><stop offset="0.51" stop-color="#ffdf00"/><stop offset="0.54" stop-color="#ffa300"/><stop offset="0.56" stop-color="#ff6d00"/><stop offset="0.59" stop-color="#ff4000"/><stop offset="0.62" stop-color="#ff1e00"/><stop offset="0.64" stop-color="#ff0300"/><stop offset="0.67" stop-color="#eb0000"/><stop offset="0.69" stop-color="#d70000"/><stop offset="0.72" stop-color="#c80000"/><stop offset="0.74" stop-color="#be0000"/><stop offset="0.77" stop-color="#b70000"/><stop offset="0.79" stop-color="#b10000"/><stop offset="0.82" stop-color="#ad0000"/><stop offset="0.85" stop-color="#a80000"/><stop offset="0.87" stop-color="#a30000"/><stop offset="0.9" stop-color="#9f0000"/><stop offset="0.92" stop-color="#9d0000"/><stop offset="0.95" stop-color="#9d0000"/><stop offset="0.97" stop-color="#a00000"/><stop offset="1" stop-color="#a60000"/></linearGradient><linearGradient id="h61"><stop offset="0" stop-color="#0000bb"/><stop offset="0.03" stop-color="#0000c3"/><stop offset="0.05" stop-color="#0000cd"/><stop offset="0.08" stop-color="#0000da"/><stop offset="0.1" stop-color="#0000eb"/><stop offset="0.13" stop-color="#0004ff"/><stop offset="0.15" stop-color="#0022ff"/><stop offset="0.18" stop-color="#0045ff"/><stop offset="0.21" stop-color="#0068ff"/><stop offset="0.23" stop-color="#0088ff"/><stop offset="0.26" stop-color="#00a5ff"/><stop offset="0.28" stop-color="#00c0ff"/><stop offset="0.31" stop-color="#00dcff"/><stop offset="0.33" stop-color="#00faff"/><stop offset="0.36" stop-color="#1bffe4"/><stop offset="0.38" stop-color="#3fffc0"/><stop offset="0.41" stop-color="#66ff99"/><stop offset="0.44" stop-color="#91ff6e"/><stop offset="0.46" stop-color="#c1ff3e"/><stop offset="0.49" stop-color="#f6ff09"/><stop offset="0.51" stop-color="#ffca00"/><stop offset="0.54" stop-color="#ff8f00"/><stop offset="0.56" stop-color="#ff5d00"/><stop offset="0.59" stop-color="#ff3300"/><stop offset="0.62" stop-color="#ff1300"/><stop offset="0.64" stop-color="#fa0000"/><stop offset="0.67" stop-color="#e40000"/><stop offset="0.69" stop-color="#d20000"/><stop offset="0.72" stop-color="#c40000"/><stop offset="0.74" stop-color="#ba0000"/><stop offset="0.77" stop-color="#b30000"/><stop offset="0.79" stop-color="#ad0000"/><stop offset="0.82" stop-color="#a70000"/><stop offset="0.85" stop-color="#a20000"/><stop offset="0.87" stop-color="#9c0000"/><stop offset="0.9" stop-color="#980000"/><stop offset="0.92" stop-color="#960000"/><stop offset="0.95" stop-color="#960000"/><stop offset="0.97" stop-color="#990000"/><stop offset="1" stop-color="#a00000"/></linearGradient><linearGradient id="h62"><stop offset="0" stop-color="#0000bc"/><stop offset="0.03" stop-color="#0000c4"/><stop offset="0.05" stop-color="#0000ce"/><stop offset="0.08" stop-color="#0000dc"/><stop offset="0.1" stop-color="#0000ee"/><stop offset="0.13" stop-color="#0007ff"/><stop offset="0.15" stop-color="#0027ff"/><stop offset="0.18" stop-color="#004aff"/><stop offset="0.21" stop-color="#006fff"/><stop offset="0.23" stop-color="#008fff"/><stop offset="0.26" stop-color="#00acff"/><stop offset="0.28" stop-color="#00c8ff"/><stop offset="0.31" stop-color="#00e5ff"/><stop offset="0.33" stop-color="#05fffa"/><stop offset="0.36" stop-color="#27ffd8"/><stop offset="0.38" stop-color="#4cffb3"/><stop offset="0.41" stop-color="#75ff8a"/><stop offset="0.44" stop-color="#a1ff5e"/><stop offset="0.46" stop-color="#d3ff2c"/><stop offset="0.49" stop-color="#fff400"/><stop offset="0.51" stop-color="#ffb400"/><stop offset="0.54" stop-color="#ff7c00"/><stop offset="0.56" stop-color="#ff4e00"/><stop offset="0.59" stop-color="#ff2800"/><stop offset="0.62" stop-color="#ff0b00"/><stop offset="0.64" stop-color="#f30000"/><stop offset="0.67" stop-color="#df0000"/><stop offset="0.69" stop-color="#cf0000"/><stop offset="0.72" stop-color="#c20000"/><stop offset="0.74" stop-color="#b80000"/><stop offset="0.77" stop-color="#b10000"/><stop offset="0.79" stop-color="#ab0000"/><stop offset="0.82" stop-color="#a50000"/><stop offset="0.85" stop-color="#9e0000"/><stop offset="0.87" stop-color="#980000"/><stop offset="0.9" stop-color="#940000"/><stop offset="0.92" stop-color="#910000"/><stop offset="0.95" stop-color="#910000"/><stop offset="0.97" stop-color="#940000"/><stop offset="1" stop-color="#9b0000"/></linearGradient><linearGradient id="h63"><stop offset="0" stop-color="#0000be"/><stop offset="0.03" stop-color="#0000c6"/><stop offset="0.05" stop-color="#0000d0"/><stop offset="0.08" stop-color="#0000de"/><stop offset="0.1" stop-color="#0000f1"/><stop offset="0.13" stop-color="#000bff"/><stop offset="0.15" stop-color="#002bff"/><stop offset="0.18" stop-color="#004fff"/><stop offset="0.21" stop-color="#0074ff"/><stop offset="0.23" stop-color="#0095ff"/><stop offset="0.26" stop-color="#00b3ff"/><stop offset="0.28" stop-color="#00d0ff"/><stop offset="0.31" stop-color="#00eeff"/><stop offset="0.33" stop-color="#0ffff0"/><stop offset="0.36" stop-color="#33ffcc"/><stop offset="0.38" stop-color="#59ffa6"/><stop offset="0.41" stop-color="#83ff7c"/><stop offset="0.44" stop-color="#b2ff4d"/><stop offset="0.46" stop-color="#e6ff19"/><stop offset="0.49" stop-color="#ffde00"/><stop offset="0.51" stop-color="#ff9e00"/><stop offset="0.54" stop-color="#ff6b00"/><stop offset="0.56" stop-color="#ff4200"/><stop offset="0.59" stop-color="#ff2000"/><stop offset="0.62" stop-color="#ff0400"/><stop offset="0.64" stop-color="#ee0000"/><stop offset="0.67" stop-color="#dd0000"/><stop offset="0.69" stop-color="#ce0000"/><stop offset="0.72" stop-color="#c20000"/><stop offset="0.74" stop-color="#b90000"/><stop offset="0.77" stop-color="#b20000"/><stop offset="0.79" stop-color="#ac0000"/><stop offset="0.82" stop-color="#a50000"/><stop offset="0.85" stop-color="#9e0000"/><stop offset="0.87" stop-color="#980000"/><stop offset="0.9" stop-color="#920000"/><stop offset="0.92" stop-color="#900000"/><stop offset="0.95" stop-color="#900000"/><stop offset="0.97" stop-color="#920000"/><stop offset="1" stop-color="#990000"/></linearGradient><linearGradient id="h64"><stop offset="0" stop-color="#0000bf"/><stop offset="0.03" stop-color="#0000c8"/><stop offset="0.05" stop-color="#0000d2"/><stop offset="0.08" stop-color="#0000e0"/><stop offset="0.1" stop-color="#0000f4"/><stop offset="0.13" stop-color="#000fff"/><stop offset="0.15" stop-color="#0030ff"/><stop offset="0.18" stop-color="#0054ff"/><stop offset="0.21" stop-color="#0078ff"/><stop offset="0.23" stop-color="#009aff"/><stop offset="0.26" stop-color="#00baff"/><stop offset="0.28" stop-color="#00d8ff"/><stop offset="0.31" stop-color="#00f7ff"/><stop offset="0.33" stop-color="#1affe5"/><stop offset="0.36" stop-color="#3fffc0"/><stop offset="0.38" stop-color="#67ff98"/><stop offset="0.41" stop-color="#92ff6d"/><stop offset="0.44" stop-color="#c2ff3d"/><stop offset="0.46" stop-color="#f8ff07"/><stop offset="0.49" stop-color="#ffca00"/><stop offset="0.51" stop-color="#ff8c00"/><stop offset="0.54" stop-color="#ff5d00"/><stop offset="0.56" stop-color="#ff3900"/><stop offset="0.59" stop-color="#ff1a00"/><stop offset="0.62" stop-color="#ff0100"/><stop offset="0.64" stop-color="#ed0000"/><stop offset="0.67" stop-color="#dd0000"/><stop offset="0.69" stop-color="#cf0000"/><stop offset="0.72" stop-color="#c40000"/><stop offset="0.74" stop-color="#bc0000"/><stop offset="0.77" stop-color="#b60000"/><stop offset="0.79" stop-color="#af0000"/><stop offset="0.82" stop-color="#a90000"/><stop offset="0.85" stop-color="#a20000"/><stop offset="0.87" stop-color="#9a0000"/><stop offset="0.9" stop-color="#950000"/><stop offset="0.92" stop-color="#920000"/><stop offset="0.95" stop-color="#910000"/><stop offset="0.97" stop-color="#940000"/><stop offset="1" stop-color="#9b0000"/></linearGradient><linearGradient id="h65"><stop offset="0" stop-color="#0000c1"/><stop offset="0.03" stop-color="#0000c9"/><stop offset="0.05" stop-color="#0000d4"/><stop offset="0.08" stop-color="#0000e3"/><stop offset="0.1" stop-color="#0000f7"/><stop offset="0.13" stop-color="#0013ff"/><stop offset="0.15" stop-color="#0034ff"/><stop offset="0.18" stop-color="#0058ff"/><stop offset="0.21" stop-color="#007dff"/><stop offset="0.23" stop-color="#00a0ff"/><stop offset="0.26" stop-color="#00c0ff"/><stop offset="0.28" stop-color="#00e0ff"/><stop offset="0.31" stop-color="#02fffd"/><stop offset="0.33" stop-color="#25ffda"/><stop offset="0.36" stop-color="#4bffb4"/><stop offset="0.38" stop-color="#74ff8b"/><stop offset="0.41" stop-color="#a1ff5e"/><stop offset="0.44" stop-color="#d2ff2d"/><stop offset="0.46" stop-color="#fff500"/><stop offset="0.49" stop-color="#ffb900"/><stop offset="0.51" stop-color="#ff8000"/><stop offset="0.54" stop-color="#ff5400"/><stop offset="0.56" stop-color="#ff3300"/><stop offset="0.59" stop-color="#ff1900"/><stop offset="0.62" stop-color="#ff0200"/><stop offset="0.64" stop-color="#f00000"/><stop offset="0.67" stop-color="#e00000"/><stop offset="0.69" stop-color="#d40000"/><stop offset="0.72" stop-color="#c90000"/><stop offset="0.74" stop-color="#c20000"/><stop offset="0.77" stop-color="#bc0000"/><stop offset="0.79" stop-color="#b70000"/><stop offset="0.82" stop-color="#b00000"/><stop offset="0.85" stop-color="#a80000"/><stop offset="0.87" stop-color="#a10000"/><stop offset="0.9" stop-color="#9b0000"/><stop offset="0.92" stop-color="#970000"/><stop offset="0.95" stop-color="#960000"/><stop offset="0.97" stop-color="#990000"/><stop offset="1" stop-color="#a00000"/></linearGradient><linearGradient id="h66"><stop offset="0" stop-color="#0000c3"/><stop offset="0.03" stop-color="#0000cb"/><stop offset="0.05" stop-color="#0000d6"/><stop offset="0.08" stop-color="#0000e5"/><stop offset="0.1" stop-color="#0000fa"/><stop offset="0.13" stop-color="#0017ff"/><stop offset="0.15" stop-color="#0038ff"/><stop offset="0.18" stop-color="#005dff"/><stop offset="0.21" stop-color="#0081ff"/><stop offset="0.23" stop-color="#00a5ff"/><stop offset="0.26" stop-color="#00c7ff"/><stop offset="0.28" stop-color="#00e8ff"/><stop offset="0.31" stop-color="#0bfff4"/><stop offset="0.33" stop-color="#30ffcf"/><stop offset="0.36" stop-color="#58ffa7"/><stop offset="0.38" stop-color="#82ff7d"/><stop offset="0.41" stop-color="#afff50"/><stop offset="0.44" stop-color="#e0ff1f"/><stop offset="0.46" stop-color="#ffe600"/><stop offset="0.49" stop-color="#ffab00"/><stop offset="0.51" stop-color="#ff7700"/><stop offset="0.54" stop-color="#ff5000"/><stop offset="0.56" stop-color="#ff3200"/><stop offset="0.59" stop-color="#ff1b00"/><stop offset="0.62" stop-color="#ff0700"/><stop offset="0.64" stop-color="#f60000"/><stop offset="0.67" stop-color="#e70000"/><stop offset="0.69" stop-color="#db0000"/><stop offset="0.72" stop-color="#d10000"/><stop offset="0.74" stop-color="#cb0000"/><stop offset="0.77" stop-color="#c60000"/><stop offset="0.79" stop-color="#c10000"/><stop offset="0.82" stop-color="#bb0000"/><stop offset="0.85" stop-color="#b30000"/><stop offset="0.87" stop-color="#ab0000"/><stop offset="0.9" stop-color="#a50000"/><stop offset="0.92" stop-color="#a10000"/><stop offset="0.95" stop-color="#9f0000"/><stop offset="0.97" stop-color="#a10000"/><stop offset="1" stop-color="#a80000"/></linearGradient><linearGradient id="h67"><stop offset="0" stop-color="#0000c5"/><stop offset="0.03" stop-color="#0000cd"/><stop offset="0.05" stop-color="#0000d9"/><stop offset="0.08" stop-color="#0000e8"/><stop offset="0.1" stop-color="#0000fd"/><stop offset="0.13" stop-color="#001aff"/><stop offset="0.15" stop-color="#003cff"/><stop offset="0.18" stop-color="#0061ff"/><stop offset="0.21" stop-color="#0086ff"/><stop offset="0.23" stop-color="#00aaff"/><stop offset="0.26" stop-color="#00cdff"/><stop offset="0.28" stop-color="#00f0ff"/><stop offset="0.31" stop-color="#14ffeb"/><stop offset="0.33" stop-color="#3bffc4"/><stop offset="0.36" stop-color="#64ff9b"/><stop offset="0.38" stop-color="#8fff70"/><stop offset="0.41" stop-color="#bcff43"/><stop offset="0.44" stop-color="#edff12"/><stop offset="0.46" stop-color="#ffd900"/><stop offset="0.49" stop-color="#ffa000"/><stop offset="0.51" stop-color="#ff7100"/><stop offset="0.54" stop-color="#ff4e00"/><stop offset="0.56" stop-color="#ff3500"/><stop offset="0.59" stop-color="#ff2000"/><stop offset="0.62" stop-color="#ff0f00"/><stop offset="0.64" stop-color="#ff0000"/><stop offset="0.67" stop-color="#f10000"/><stop offset="0.69" stop-color="#e50000"/><stop offset="0.72" stop-color="#dc0000"/><stop offset="0.74" stop-color="#d70000"/><stop offset="0.77" stop-color="#d40000"/><stop offset="0.79" stop-color="#cf0000"/><stop offset="0.82" stop-color="#c90000"/><stop offset="0.85" stop-color="#c10000"/><stop offset="0.87" stop-color="#b90000"/><stop offset="0.9" stop-color="#b30000"/><stop offset="0.92" stop-color="#af0000"/><stop offset="0.95" stop-color="#ad0000"/><stop offset="0.97" stop-color="#ad0000"/><stop offset="1" stop-color="#b30000"/></linearGradient><linearGradient id="h68"><stop offset="0" stop-color="#0000c7"/><stop offset="0.03" stop-color="#0000d0"/><stop offset="0.05" stop-color="#0000db"/><stop offset="0.08" stop-color="#0000ea"/><stop offset="0.1" stop-color="#0001ff"/><stop offset="0.13" stop-color="#001eff"/><stop offset="0.15" stop-color="#0041ff"/><stop offset="0.18" stop-color="#0066ff"/><stop offset="0.21" stop-color="#008bff"/><stop offset="0.23" stop-color="#00afff"/><stop offset="0.26" stop-color="#00d3ff"/><stop offset="0.28" stop-color="#00f7ff"/><stop offset="0.31" stop-color="#1dffe2"/><stop offset="0.33" stop-color="#44ffbb"/><stop offset="0.36" stop-color="#6fff90"/><stop offset="0.38" stop-color="#9bff64"/><stop offset="0.41" stop-color="#c9ff36"/><stop offset="0.44" stop-color="#faff05"/><stop offset="0.46" stop-color="#ffcc00"/><stop offset="0.49" stop-color="#ff9600"/><stop offset="0.51" stop-color="#ff6d00"/><stop offset="0.54" stop-color="#ff5000"/><stop offset="0.56" stop-color="#ff3b00"/><stop offset="0.59" stop-color="#ff2a00"/><stop offset="0.62" stop-color="#ff1a00"/><stop offset="0.64" stop-color="#ff0d00"/><stop offset="0.67" stop-color="#fe0000"/><stop offset="0.69" stop-color="#f20000"/><stop offset="0.72" stop-color="#eb0000"/><stop offset="0.74" stop-color="#e70000"/><stop offset="0.77" stop-color="#e40000"/><stop offset="0.79" stop-color="#e00000"/><stop offset="0.82" stop-color="#da0000"/><stop offset="0.85" stop-color="#d30000"/><stop offset="0.87" stop-color="#cb0000"/><stop offset="0.9" stop-color="#c50000"/><stop offset="0.92" stop-color="#c10000"/><stop offset="0.95" stop-color="#be0000"/><stop offset="0.97" stop-color="#be0000"/><stop offset="1" stop-color="#c30000"/></linearGradient><linearGradient id="h69"><stop offset="0" stop-color="#0000c9"/><stop offset="0.03" stop-color="#0000d2"/><stop offset="0.05" stop-color="#0000de"/><stop offset="0.08" stop-color="#0000ed"/><stop offset="0.1" stop-color="#0004ff"/><stop offset="0.13" stop-color="#0022ff"/><stop offset="0.15" stop-color="#0046ff"/><stop offset="0.18" stop-color="#006bff"/><stop offset="0.21" stop-color="#0090ff"/><stop offset="0.23" stop-color="#00b4ff"/><stop offset="0.26" stop-color="#00d8ff"/><stop offset="0.28" stop-color="#00fdff"/><stop offset="0.31" stop-color="#24ffdb"/><stop offset="0.33" stop-color="#4dffb2"/><stop offset="0.36" stop-color="#79ff86"/><stop offset="0.38" stop-color="#a6ff59"/><stop offset="0.41" stop-color="#d6ff29"/><stop offset="0.44" stop-color="#fff600"/><stop offset="0.46" stop-color="#ffbe00"/><stop offset="0.49" stop-color="#ff8e00"/><stop offset="0.51" stop-color="#ff6c00"/><stop offset="0.54" stop-color="#ff5600"/><stop offset="0.56" stop-color="#ff4500"/><stop offset="0.59" stop-color="#ff3600"/><stop offset="0.62" stop-color="#ff2900"/><stop offset="0.64" stop-color="#ff1c00"/><stop offset="0.67" stop-color="#ff1000"/><stop offset="0.69" stop-color="#ff0400"/><stop offset="0.72" stop-color="#fc0000"/><stop offset="0.74" stop-color="#fa0000"/><stop offset="0.77" stop-color="#f80000"/><stop offset="0.79" stop-color="#f50000"/><stop offset="0.82" stop-color="#f00000"/><stop offset="0.85" stop-color="#e90000"/><stop offset="0.87" stop-color="#e10000"/><stop offset="0.9" stop-color="#db0000"/><stop offset="0.92" stop-color="#d70000"/><stop offset="0.95" stop-color="#d50000"/><stop offset="0.97" stop-color="#d30000"/><stop offset="1" stop-color="#d60000"/></linearGradient><linearGradient id="h70"><stop offset="0" stop-color="#0000cc"/><stop offset="0.03" stop-color="#0000d5"/><stop offset="0.05" stop-color="#0000e0"/><stop offset="0.08" stop-color="#0000f0"/><stop offset="0.1" stop-color="#0008ff"/><stop offset="0.13" stop-color="#0027ff"/><stop offset="0.15" stop-color="#004aff"/><stop offset="0.18" stop-color="#0070ff"/><stop offset="0.21" stop-color="#0095ff"/><stop offset="0.23" stop-color="#00b9ff"/><stop offset="0.26" stop-color="#00ddff"/><stop offset="0.28" stop-color="#04fffb"/><stop offset="0.31" stop-color="#2bffd4"/><stop offset="0.33" stop-color="#55ffaa"/><stop offset="0.36" stop-color="#81ff7e"/><stop offset="0.38" stop-color="#b0ff4f"/><stop offset="0.41" stop-color="#e1ff1e"/><stop offset="0.44" stop-color="#ffea00"/><stop offset="0.46" stop-color="#ffb300"/><stop offset="0.49" stop-color="#ff8800"/><stop offset="0.51" stop-color="#ff6f00"/><stop offset="0.54" stop-color="#ff5e00"/><stop offset="0.56" stop-color="#ff5200"/><stop offset="0.59" stop-color="#ff4600"/><stop offset="0.62" stop-color="#ff3a00"/><stop offset="0.64" stop-color="#ff2f00"/><stop offset="0.67" stop-color="#ff2400"/><stop offset="0.69" stop-color="#ff1900"/><stop offset="0.72" stop-color="#ff1300"/><stop offset="0.74" stop-color="#ff1100"/><stop offset="0.77" stop-color="#ff1000"/><stop offset="0.79" stop-color="#ff0d00"/><stop offset="0.82" stop-color="#ff0900"/><stop offset="0.85" stop-color="#ff0300"/><stop offset="0.87" stop-color="#fa0000"/><stop offset="0.9" stop-color="#f50000"/><stop offset="0.92" stop-color="#f30000"/><stop offset="0.95" stop-color="#f10000"/><stop offset="0.97" stop-color="#ee0000"/><stop offset="1" stop-color="#ee0000"/></linearGradient><linearGradient id="h71"><stop offset="0" stop-color="#0000cf"/><stop offset="0.03" stop-color="#0000d8"/><stop offset="0.05" stop-color="#0000e3"/><stop offset="0.08" stop-color="#0000f3"/><stop offset="0.1" stop-color="#000cff"/><stop offset="0.13" stop-color="#002bff"/><stop offset="0.15" stop-color="#004fff"/><stop offset="0.18" stop-color="#0075ff"/><stop offset="0.21" stop-color="#009aff"/><stop offset="0.23" stop-color="#00beff"/><stop offset="0.26" stop-color="#00e2ff"/><stop offset="0.28" stop-color="#08fff7"/><stop offset="0.31" stop-color="#30ffcf"/><stop offset="0.33" stop-color="#5affa5"/><stop offset="0.36" stop-color="#88ff77"/><stop offset="0.38" stop-color="#b7ff48"/><stop offset="0.41" stop-color="#e8ff17"/><stop offset="0.44" stop-color="#ffe300"/><stop offset="0.46" stop-color="#ffad00"/><stop offset="0.49" stop-color="#ff8700"/><stop offset="0.51" stop-color="#ff7500"/><stop offset="0.54" stop-color="#ff6b00"/><stop offset="0.56" stop-color="#ff6200"/><stop offset="0.59" stop-color="#ff5800"/><stop offset="0.62" stop-color="#ff4f00"/><stop offset="0.64" stop-color="#ff4500"/><stop offset="0.67" stop-color="#ff3b00"/><stop offset="0.69" stop-color="#ff3100"/><stop offset="0.72" stop-color="#ff2c00"/><stop offset="0.74" stop-color="#ff2a00"/><stop offset="0.77" stop-color="#ff2a00"/><stop offset="0.79" stop-color="#ff2800"/><stop offset="0.82" stop-color="#ff2400"/><stop offset="0.85" stop-color="#ff1f00"/><stop offset="0.87" stop-color="#ff1a00"/><stop offset="0.9" stop-color="#ff1500"/><stop offset="0.92" stop-color="#ff1400"/><stop offset="0.95" stop-color="#ff1200"/><stop offset="0.97" stop-color="#ff1000"/><stop offset="1" stop-color="#ff0e00"/></linearGradient><linearGradient id="h72"><stop offset="0" stop-color="#0000d2"/><stop offset="0.03" stop-color="#0000db"/><stop offset="0.05" stop-color="#0000e6"/><stop offset="0.08" stop-color="#0000f6"/><stop offset="0.1" stop-color="#000fff"/><stop offset="0.13" stop-color="#002fff"/><stop offset="0.15" stop-color="#0054ff"/><stop offset="0.18" stop-color="#007aff"/><stop offset="0.21" stop-color="#009eff"/><stop offset="0.23" stop-color="#00c1ff"/><stop offset="0.26" stop-color="#00e5ff"/><stop offset="0.28" stop-color="#0cfff3"/><stop offset="0.31" stop-color="#34ffcb"/><stop offset="0.33" stop-color="#5effa1"/><stop offset="0.36" stop-color="#8bff74"/><stop offset="0.38" stop-color="#bbff44"/><stop offset="0.41" stop-color="#ebff14"/><stop offset="0.44" stop-color="#ffe300"/><stop offset="0.46" stop-color="#ffaf00"/><stop offset="0.49" stop-color="#ff8d00"/><stop offset="0.51" stop-color="#ff8100"/><stop offset="0.54" stop-color="#ff7c00"/><stop offset="0.56" stop-color="#ff7500"/><stop offset="0.59" stop-color="#ff6d00"/><stop offset="0.62" stop-color="#ff6400"/><stop offset="0.64" stop-color="#ff5c00"/><stop offset="0.67" stop-color="#ff5400"/><stop offset="0.69" stop-color="#ff4c00"/><stop offset="0.72" stop-color="#ff4700"/><stop offset="0.74" stop-color="#ff4500"/><stop offset="0.77" stop-color="#ff4500"/><stop offset="0.79" stop-color="#ff4400"/><stop offset="0.82" stop-color="#ff4200"/><stop offset="0.85" stop-color="#ff3f00"/><stop offset="0.87" stop-color="#ff3b00"/><stop offset="0.9" stop-color="#ff3900"/><stop offset="0.92" stop-color="#ff3800"/><stop offset="0.95" stop-color="#ff3700"/><stop offset="0.97" stop-color="#ff3700"/><stop offset="1" stop-color="#ff3800"/></linearGradient><linearGradient id="h73"><stop offset="0" stop-color="#0000d6"/><stop offset="0.03" stop-color="#0000de"/><stop offset="0.05" stop-color="#0000e9"/><stop offset="0.08" stop-color="#0000f9"/><stop offset="0.1" stop-color="#0012ff"/><stop offset="0.13" stop-color="#0033ff"/><stop offset="0.15" stop-color="#0059ff"/><stop offset="0.18" stop-color="#007eff"/><stop offset="0.21" stop-color="#00a2ff"/><stop offset="0.23" stop-color="#00c4ff"/><stop offset="0.26" stop-color="#00e8ff"/><stop offset="0.28" stop-color="#0efff1"/><stop offset="0.31" stop-color="#36ffc9"/><stop offset="0.33" stop-color="#60ff9f"/><stop offset="0.36" stop-color="#8dff72"/><stop offset="0.38" stop-color="#bbff44"/><stop offset="0.41" stop-color="#e9ff16"/><stop offset="0.44" stop-color="#ffeb00"/><stop offset="0.46" stop-color="#ffbc00"/><stop offset="0.49" stop-color="#ff9d00"/><stop offset="0.51" stop-color="#ff9300"/><stop offset="0.54" stop-color="#ff9000"/><stop offset="0.56" stop-color="#ff8b00"/><stop offset="0.59" stop-color="#ff8300"/><stop offset="0.62" stop-color="#ff7c00"/><stop offset="0.64" stop-color="#ff7500"/><stop offset="0.67" stop-color="#ff6e00"/><stop offset="0.69" stop-color="#ff6700"/><stop offset="0.72" stop-color="#ff6300"/><stop offset="0.74" stop-color="#ff6200"/><stop offset="0.77" stop-color="#ff6200"/><stop offset="0.79" stop-color="#ff6200"/><stop offset="0.82" stop-color="#ff6100"/><stop offset="0.85" stop-color="#ff6000"/><stop offset="0.87" stop-color="#ff5f00"/><stop offset="0.9" stop-color="#ff5f00"/><stop offset="0.92" stop-color="#ff5e00"/><stop offset="0.95" stop-color="#ff5f00"/><stop offset="0.97" stop-color="#ff6100"/><stop offset="1" stop-color="#ff6600"/></linearGradient><linearGradient id="h74"><stop offset="0" stop-color="#0000d8"/><stop offset="0.03" stop-color="#0000e1"/><stop offset="0.05" stop-color="#0000ec"/><stop offset="0.08" stop-color="#0000fc"/><stop offset="0.1" stop-color="#0016ff"/><stop offset="0.13" stop-color="#0037ff"/><stop offset="0.15" stop-color="#005cff"/><stop offset="0.18" stop-color="#0082ff"/><stop offset="0.21" stop-color="#00a4ff"/><stop offset="0.23" stop-color="#00c6ff"/><stop offset="0.26" stop-color="#00e9ff"/><stop offset="0.28" stop-color="#0ffff0"/><stop offset="0.31" stop-color="#36ffc9"/><stop offset="0.33" stop-color="#60ff9f"/><stop offset="0.36" stop-color="#8bff74"/><stop offset="0.38" stop-color="#b7ff48"/><stop offset="0.41" stop-color="#e1ff1e"/><stop offset="0.44" stop-color="#fff900"/><stop offset="0.46" stop-color="#ffcf00"/><stop offset="0.49" stop-color="#ffb200"/><stop offset="0.51" stop-color="#ffa700"/><stop offset="0.54" stop-color="#ffa600"/><stop offset="0.56" stop-color="#ffa100"/><stop offset="0.59" stop-color="#ff9a00"/><stop offset="0.62" stop-color="#ff9300"/><stop offset="0.64" stop-color="#ff8e00"/><stop offset="0.67" stop-color="#ff8900"/><stop offset="0.69" stop-color="#ff8200"/><stop offset="0.72" stop-color="#ff7f00"/><stop offset="0.74" stop-color="#ff7e00"/><stop offset="0.77" stop-color="#ff8000"/><stop offset="0.79" stop-color="#ff8000"/><stop offset="0.82" stop-color="#ff8000"/><stop offset="0.85" stop-color="#ff8100"/><stop offset="0.87" stop-color="#ff8300"/><stop offset="0.9" stop-color="#ff8400"/><stop offset="0.92" stop-color="#ff8400"/><stop offset="0.95" stop-color="#ff8600"/><stop offset="0.97" stop-color="#ff8c00"/><stop offset="1" stop-color="#ff9500"/></linearGradient></defs>
<rect x="59.1" y="252.8" width="155.7" height="2.3" fill="url(#h0)"/><rect x="59.1" y="254.8" width="155.7" height="2.3" fill="url(#h1)"/><rect x="59.1" y="256.8" width="155.7" height="2.3" fill="url(#h2)"/><rect x="59.1" y="258.8" width="155.7" height="2.3" fill="url(#h3)"/><rect x="59.1" y="260.8" width="155.7" height="2.3" fill="url(#h4)"/><rect x="59.1" y="262.8" width="155.7" height="2.3" fill="url(#h5)"/><rect x="59.1" y="264.8" width="155.7" height="2.3" fill="url(#h6)"/><rect x="59.1" y="266.8" width="155.7" height="2.3" fill="url(#h7)"/><rect x="59.1" y="268.8" width="155.7" height="2.3" fill="url(#h8)"/><rect x="59.1" y="270.8" width="155.7" height="2.3" fill="url(#h9)"/><rect x="59.1" y="272.8" width="155.7" height="2.3" fill="url(#h10)"/><rect x="59.1" y="274.8" width="155.7" height="2.3" fill="url(#h11)"/><rect x="59.1" y="276.8" width="155.7" height="2.3" fill="url(#h12)"/><rect x="59.1" y="278.8" width="155.7" height="2.3" fill="url(#h13)"/><rect x="59.1" y="280.8" width="155.7" height="2.3" fill="url(#h14)"/><rect x="59.1" y="282.8" width="155.7" height="2.3" fill="url(#h15)"/><rect x="59.1" y="284.8" width="155.7" height="2.3" fill="url(#h16)"/><rect x="59.1" y="286.8" width="155.7" height="2.3" fill="url(#h17)"/><rect x="59.1" y="288.8" width="155.7" height="2.3" fill="url(#h18)"/><rect x="59.1" y="290.8" width="155.7" height="2.3" fill="url(#h19)"/><rect x="59.1" y="292.8" width="155.7" height="2.3" fill="url(#h20)"/><rect x="59.1" y="294.8" width="155.7" height="2.3" fill="url(#h21)"/><rect x="59.1" y="296.8" width="155.7" height="2.3" fill="url(#h22)"/><rect x="59.1" y="298.8" width="155.7" height="2.3" fill="url(#h23)"/><rect x="59.1" y="300.8" width="155.7" height="2.3" fill="url(#h24)"/><rect x="59.1" y="302.8" width="155.7" height="2.3" fill="url(#h25)"/><rect x="59.1" y="304.8" width="155.7" height="2.3" fill="url(#h26)"/><rect x="59.1" y="306.8" width="155.7" height="2.3" fill="url(#h27)"/><rect x="59.1" y="308.8" width="155.7" height="2.3" fill="url(#h28)"/><rect x="59.1" y="310.8" width="155.7" height="2.3" fill="url(#h29)"/><rect x="59.1" y="312.8" width="155.7" height="2.3" fill="url(#h30)"/><rect x="59.1" y="314.8" width="155.7" height="2.3" fill="url(#h31)"/><rect x="59.1" y="316.8" width="155.7" height="2.3" fill="url(#h32)"/><rect x="59.1" y="318.8" width="155.7" height="2.3" fill="url(#h33)"/><rect x="59.1" y="320.8" width="155.7" height="2.3" fill="url(#h34)"/><rect x="59.1" y="322.8" width="155.7" height="2.3" fill="url(#h35)"/><rect x="59.1" y="324.8" width="155.7" height="2.3" fill="url(#h36)"/><rect x="59.1" y="326.8" width="155.7" height="2.3" fill="url(#h37)"/><rect x="59.1" y="328.8" width="155.7" height="2.3" fill="url(#h38)"/><rect x="59.1" y="330.8" width="155.7" height="2.3" fill="url(#h39)"/><rect x="59.1" y="332.8" width="155.7" height="2.3" fill="url(#h40)"/><rect x="59.1" y="334.8" width="155.7" height="2.3" fill="url(#h41)"/><rect x="59.1" y="336.8" width="155.7" height="2.3" fill="url(#h42)"/><rect x="59.1" y="338.8" width="155.7" height="2.3" fill="url(#h43)"/><rect x="59.1" y="340.8" width="155.7" height="2.3" fill="url(#h44)"/><rect x="59.1" y="342.8" width="155.7" height="2.3" fill="url(#h45)"/><rect x="59.1" y="344.8" width="155.7" height="2.3" fill="url(#h46)"/><rect x="59.1" y="346.8" width="155.7" height="2.3" fill="url(#h47)"/><rect x="59.1" y="348.8" width="155.7" height="2.3" fill="url(#h48)"/><rect x="59.1" y="350.8" width="155.7" height="2.3" fill="url(#h49)"/><rect x="59.1" y="352.8" width="155.7" height="2.3" fill="url(#h50)"/><rect x="59.1" y="354.8" width="155.7" height="2.3" fill="url(#h51)"/><rect x="59.1" y="356.8" width="155.7" height="2.3" fill="url(#h52)"/><rect x="59.1" y="358.8" width="155.7" height="2.3" fill="url(#h53)"/><rect x="59.1" y="360.8" width="155.7" height="2.3" fill="url(#h54)"/><rect x="59.1" y="362.8" width="155.7" height="2.3" fill="url(#h55)"/><rect x="59.1" y="364.8" width="155.7" height="2.3" fill="url(#h56)"/><rect x="59.1" y="366.8" width="155.7" height="2.3" fill="url(#h57)"/><rect x="59.1" y="368.8" width="155.7" height="2.3" fill="url(#h58)"/><rect x="59.1" y="370.8" width="155.7" height="2.3" fill="url(#h59)"/><rect x="59.1" y="372.8" width="155.7" height="2.3" fill="url(#h60)"/><rect x="59.1" y="374.8" width="155.7" height="2.3" fill="url(#h61)"/><rect x="59.1" y="376.8" width="155.7" height="2.3" fill="url(#h62)"/><rect x="59.1" y="378.8" width="155.7" height="2.3" fill="url(#h63)"/><rect x="59.1" y="380.8" width="155.7" height="2.3" fill="url(#h64)"/><rect x="59.1" y="382.8" width="155.7" height="2.3" fill="url(#h65)"/><rect x="59.1" y="384.8" width="155.7" height="2.3" fill="url(#h66)"/><rect x="59.1" y="386.8" width="155.7" height="2.3" fill="url(#h67)"/><rect x="59.1" y="388.8" width="155.7" height="2.3" fill="url(#h68)"/><rect x="59.1" y="390.8" width="155.7" height="2.3" fill="url(#h69)"/><rect x="59.1" y="392.8" width="155.7" height="2.3" fill="url(#h70)"/><rect x="59.1" y="394.8" width="155.7" height="2.3" fill="url(#h71)"/><rect x="59.1" y="396.8" width="155.7" height="2.3" fill="url(#h72)"/><rect x="59.1" y="398.8" width="155.7" height="2.3" fill="url(#h73)"/><rect x="59.1" y="400.8" width="155.7" height="1.5" fill="url(#h74)"/>
<defs><linearGradient id="cb" x1="0" y1="0" x2="0" y2="1"><stop offset="0" stop-color="#800000"/><stop offset="0.03" stop-color="#9f0000"/><stop offset="0.06" stop-color="#bf0000"/><stop offset="0.09" stop-color="#df0000"/><stop offset="0.12" stop-color="#ff0000"/><stop offset="0.16" stop-color="#ff2000"/><stop offset="0.19" stop-color="#ff4000"/><stop offset="0.22" stop-color="#ff6000"/><stop offset="0.25" stop-color="#ff8000"/><stop offset="0.28" stop-color="#ff9f00"/><stop offset="0.31" stop-color="#ffbf00"/><stop offset="0.34" stop-color="#ffdf00"/><stop offset="0.38" stop-color="#ffff00"/><stop offset="0.41" stop-color="#dfff20"/><stop offset="0.44" stop-color="#bfff40"/><stop offset="0.47" stop-color="#9fff60"/><stop offset="0.5" stop-color="#80ff80"/><stop offset="0.53" stop-color="#60ff9f"/><stop offset="0.56" stop-color="#40ffbf"/><stop offset="0.59" stop-color="#20ffdf"/><stop offset="0.62" stop-color="#00ffff"/><stop offset="0.66" stop-color="#00dfff"/><stop offset="0.69" stop-color="#00bfff"/><stop offset="0.72" stop-color="#009fff"/><stop offset="0.75" stop-color="#0080ff"/><stop offset="0.78" stop-color="#0060ff"/><stop offset="0.81" stop-color="#0040ff"/><stop offset="0.84" stop-color="#0020ff"/><stop offset="0.88" stop-color="#0000ff"/><stop offset="0.91" stop-color="#0000df"/><stop offset="0.94" stop-color="#0000bf"/><stop offset="0.97" stop-color="#00009f"/><stop offset="1" stop-color="#000080"/></linearGradient></defs>
<rect x="224.9" y="250.0" width="6.2" height="154.9" fill="url(#cb)"/>
<text x="232.2" y="253.9" font-size="8.3" fill="#1a1a1a" stroke="#1a1a1a" stroke-width="0.2">0.0287</text>
<text x="232.2" y="279.65" font-size="8.3" fill="#1a1a1a" stroke="#1a1a1a" stroke-width="0.2">0.0239</text>
<text x="232.2" y="305.4" font-size="8.3" fill="#1a1a1a" stroke="#1a1a1a" stroke-width="0.2">0.0191</text>
<text x="232.2" y="331.15" font-size="8.3" fill="#1a1a1a" stroke="#1a1a1a" stroke-width="0.2">0.0144</text>
<text x="232.2" y="356.9" font-size="8.3" fill="#1a1a1a" stroke="#1a1a1a" stroke-width="0.2">0.00957</text>
<text x="232.2" y="382.65" font-size="8.3" fill="#1a1a1a" stroke="#1a1a1a" stroke-width="0.2">0.00479</text>
<text x="232.2" y="408.4" font-size="8.3" fill="#1a1a1a" stroke="#1a1a1a" stroke-width="0.2">0</text>
<line x1="56.8" y1="402.3" x2="59.1" y2="402.3" stroke="#444" stroke-width="0.8"/>
<text x="54.6" y="405.2" font-size="8.3" text-anchor="end" fill="#1a1a1a" stroke="#1a1a1a" stroke-width="0.2">1480</text>
<line x1="56.8" y1="377.38" x2="59.1" y2="377.38" stroke="#444" stroke-width="0.8"/>
<text x="54.6" y="380.28" font-size="8.3" text-anchor="end" fill="#1a1a1a" stroke="#1a1a1a" stroke-width="0.2">1500</text>
<line x1="56.8" y1="352.47" x2="59.1" y2="352.47" stroke="#444" stroke-width="0.8"/>
<text x="54.6" y="355.37" font-size="8.3" text-anchor="end" fill="#1a1a1a" stroke="#1a1a1a" stroke-width="0.2">1520</text>
<line x1="56.8" y1="327.55" x2="59.1" y2="327.55" stroke="#444" stroke-width="0.8"/>
<text x="54.6" y="330.45" font-size="8.3" text-anchor="end" fill="#1a1a1a" stroke="#1a1a1a" stroke-width="0.2">1540</text>
<line x1="56.8" y1="302.63" x2="59.1" y2="302.63" stroke="#444" stroke-width="0.8"/>
<text x="54.6" y="305.53" font-size="8.3" text-anchor="end" fill="#1a1a1a" stroke="#1a1a1a" stroke-width="0.2">1560</text>
<line x1="56.8" y1="277.72" x2="59.1" y2="277.72" stroke="#444" stroke-width="0.8"/>
<text x="54.6" y="280.62" font-size="8.3" text-anchor="end" fill="#1a1a1a" stroke="#1a1a1a" stroke-width="0.2">1580</text>
<line x1="56.8" y1="252.8" x2="59.1" y2="252.8" stroke="#444" stroke-width="0.8"/>
<text x="54.6" y="255.7" font-size="8.3" text-anchor="end" fill="#1a1a1a" stroke="#1a1a1a" stroke-width="0.2">1600</text>
<line x1="91.1" y1="402.3" x2="91.1" y2="399.7" stroke="#444" stroke-width="0.8"/>
<text x="91.1" y="413.6" font-size="8.3" text-anchor="middle" fill="#1a1a1a" stroke="#1a1a1a" stroke-width="0.2">10</text>
<line x1="126.3" y1="402.3" x2="126.3" y2="399.7" stroke="#444" stroke-width="0.8"/>
<text x="126.3" y="413.6" font-size="8.3" text-anchor="middle" fill="#1a1a1a" stroke="#1a1a1a" stroke-width="0.2">20</text>
<line x1="161.9" y1="402.3" x2="161.9" y2="399.7" stroke="#444" stroke-width="0.8"/>
<text x="161.9" y="413.6" font-size="8.3" text-anchor="middle" fill="#1a1a1a" stroke="#1a1a1a" stroke-width="0.2">30</text>
<line x1="197.4" y1="402.3" x2="197.4" y2="399.7" stroke="#444" stroke-width="0.8"/>
<text x="197.4" y="413.6" font-size="8.3" text-anchor="middle" fill="#1a1a1a" stroke="#1a1a1a" stroke-width="0.2">40</text>
<text x="60.1" y="413.6" font-size="8.3" text-anchor="middle" fill="#1a1a1a" stroke="#1a1a1a" stroke-width="0.2">0</text>
<text x="133.6" y="428.3" font-size="9" text-anchor="middle" fill="#1a1a1a" textLength="76.3" lengthAdjust="spacingAndGlyphs" stroke="#1a1a1a" stroke-width="0.2">Emission length (μm)</text>
<text transform="translate(36.4,326) rotate(-90)" font-size="8.4" text-anchor="middle" fill="#1a1a1a" stroke="#1a1a1a" stroke-width="0.2" textLength="58.7" lengthAdjust="spacingAndGlyphs">Wavelength (nm)</text>
<text x="9.8" y="229" font-size="14" font-weight="bold" stroke="#111" stroke-width="0.22" fill="#111">(c)</text>
<line x1="336.87" y1="233.8" x2="336.87" y2="406.3" stroke="#ebebeb" stroke-width="0.8"/>
<line x1="354.73" y1="233.8" x2="354.73" y2="406.3" stroke="#ebebeb" stroke-width="0.8"/>
<line x1="372.6" y1="233.8" x2="372.6" y2="406.3" stroke="#ebebeb" stroke-width="0.8"/>
<line x1="390.47" y1="233.8" x2="390.47" y2="406.3" stroke="#ebebeb" stroke-width="0.8"/>
<line x1="408.33" y1="233.8" x2="408.33" y2="406.3" stroke="#ebebeb" stroke-width="0.8"/>
<line x1="426.2" y1="233.8" x2="426.2" y2="406.3" stroke="#ebebeb" stroke-width="0.8"/>
<line x1="444.07" y1="233.8" x2="444.07" y2="406.3" stroke="#ebebeb" stroke-width="0.8"/>
<line x1="461.93" y1="233.8" x2="461.93" y2="406.3" stroke="#ebebeb" stroke-width="0.8"/>
<line x1="479.8" y1="233.8" x2="479.8" y2="406.3" stroke="#ebebeb" stroke-width="0.8"/>
<line x1="497.67" y1="233.8" x2="497.67" y2="406.3" stroke="#ebebeb" stroke-width="0.8"/>
<line x1="515.53" y1="233.8" x2="515.53" y2="406.3" stroke="#ebebeb" stroke-width="0.8"/>
<line x1="319" y1="387.13" x2="533.4" y2="387.13" stroke="#ebebeb" stroke-width="0.8"/>
<line x1="319" y1="367.97" x2="533.4" y2="367.97" stroke="#ebebeb" stroke-width="0.8"/>
<line x1="319" y1="348.8" x2="533.4" y2="348.8" stroke="#ebebeb" stroke-width="0.8"/>
<line x1="319" y1="329.63" x2="533.4" y2="329.63" stroke="#ebebeb" stroke-width="0.8"/>
<line x1="319" y1="310.47" x2="533.4" y2="310.47" stroke="#ebebeb" stroke-width="0.8"/>
<line x1="319" y1="291.3" x2="533.4" y2="291.3" stroke="#ebebeb" stroke-width="0.8"/>
<line x1="319" y1="272.13" x2="533.4" y2="272.13" stroke="#ebebeb" stroke-width="0.8"/>
<line x1="319" y1="252.97" x2="533.4" y2="252.97" stroke="#ebebeb" stroke-width="0.8"/>
<path d="M319.1,234 C319.63,234.35 321.08,234.98 322.3,236.1 C323.52,237.22 325.05,239.55 326.4,240.7 C327.75,241.85 329.05,242.4 330.4,243 C331.75,243.6 333.4,243.82 334.5,244.3 C335.6,244.78 335.92,244.95 337,245.9 C338.08,246.85 339.25,248.52 341,250 C342.75,251.48 344.78,252.63 347.5,254.8 C350.22,256.97 354.32,260.28 357.3,263 C360.28,265.72 362.97,268.93 365.4,271.1 C367.83,273.27 370,274.45 371.9,276 C373.8,277.55 375.3,279.27 376.8,280.4 C378.3,281.53 379.28,281.5 380.9,282.8 C382.52,284.1 384.98,286.85 386.5,288.2 C388.02,289.55 388.63,289.82 390,290.9 C391.37,291.98 393.15,293.15 394.7,294.7 C396.25,296.25 397.27,298.43 399.3,300.2 C401.33,301.97 404.5,303.67 406.9,305.3 C409.3,306.93 411.45,308.03 413.7,310 C415.95,311.97 418.15,315.07 420.4,317.1 C422.65,319.13 424.93,320.28 427.2,322.2 C429.47,324.12 431.75,326.77 434,328.6 C436.25,330.43 438.3,331.58 440.7,333.2 C443.1,334.82 446,336.33 448.4,338.3 C450.8,340.27 453.17,343.4 455.1,345 C457.03,346.6 458.4,346.75 460,347.9 C461.6,349.05 462.98,350.37 464.7,351.9 C466.42,353.43 468.45,355.65 470.3,357.1 C472.15,358.55 473.97,359.37 475.8,360.6 C477.63,361.83 479.18,362.8 481.3,364.5 C483.42,366.2 486.25,369.03 488.5,370.8 C490.75,372.57 492.57,373.25 494.8,375.1 C497.03,376.95 499.67,380.05 501.9,381.9 C504.13,383.75 506.1,384.35 508.2,386.2 C510.3,388.05 512.52,391.08 514.5,393 C516.48,394.92 518.12,396.07 520.1,397.7 C522.08,399.33 524.22,401.38 526.4,402.8 C528.58,404.22 532.07,405.63 533.2,406.2" fill="none" stroke="#3b3bff" stroke-width="1.4" stroke-linejoin="round"/>
<rect x="319.0" y="233.8" width="214.4" height="172.5" fill="none" stroke="#4a4a4a" stroke-width="1.2"/>
<line x1="319" y1="406.3" x2="321.6" y2="406.3" stroke="#4a4a4a" stroke-width="0.9"/>
<line x1="319" y1="396.72" x2="320.6" y2="396.72" stroke="#4a4a4a" stroke-width="0.9"/>
<line x1="319" y1="387.13" x2="321.6" y2="387.13" stroke="#4a4a4a" stroke-width="0.9"/>
<line x1="319" y1="377.55" x2="320.6" y2="377.55" stroke="#4a4a4a" stroke-width="0.9"/>
<line x1="319" y1="367.97" x2="321.6" y2="367.97" stroke="#4a4a4a" stroke-width="0.9"/>
<line x1="319" y1="358.38" x2="320.6" y2="358.38" stroke="#4a4a4a" stroke-width="0.9"/>
<line x1="319" y1="348.8" x2="321.6" y2="348.8" stroke="#4a4a4a" stroke-width="0.9"/>
<line x1="319" y1="339.22" x2="320.6" y2="339.22" stroke="#4a4a4a" stroke-width="0.9"/>
<line x1="319" y1="329.63" x2="321.6" y2="329.63" stroke="#4a4a4a" stroke-width="0.9"/>
<line x1="319" y1="320.05" x2="320.6" y2="320.05" stroke="#4a4a4a" stroke-width="0.9"/>
<line x1="319" y1="310.47" x2="321.6" y2="310.47" stroke="#4a4a4a" stroke-width="0.9"/>
<line x1="319" y1="300.88" x2="320.6" y2="300.88" stroke="#4a4a4a" stroke-width="0.9"/>
<line x1="319" y1="291.3" x2="321.6" y2="291.3" stroke="#4a4a4a" stroke-width="0.9"/>
<line x1="319" y1="281.72" x2="320.6" y2="281.72" stroke="#4a4a4a" stroke-width="0.9"/>
<line x1="319" y1="272.13" x2="321.6" y2="272.13" stroke="#4a4a4a" stroke-width="0.9"/>
<line x1="319" y1="262.55" x2="320.6" y2="262.55" stroke="#4a4a4a" stroke-width="0.9"/>
<line x1="319" y1="252.97" x2="321.6" y2="252.97" stroke="#4a4a4a" stroke-width="0.9"/>
<line x1="319" y1="243.38" x2="320.6" y2="243.38" stroke="#4a4a4a" stroke-width="0.9"/>
<line x1="319" y1="233.8" x2="321.6" y2="233.8" stroke="#4a4a4a" stroke-width="0.9"/>
<line x1="319" y1="406.3" x2="319" y2="403.7" stroke="#4a4a4a" stroke-width="0.9"/>
<line x1="336.87" y1="406.3" x2="336.87" y2="404.7" stroke="#4a4a4a" stroke-width="0.9"/>
<line x1="354.73" y1="406.3" x2="354.73" y2="403.7" stroke="#4a4a4a" stroke-width="0.9"/>
<line x1="372.6" y1="406.3" x2="372.6" y2="404.7" stroke="#4a4a4a" stroke-width="0.9"/>
<line x1="390.47" y1="406.3" x2="390.47" y2="403.7" stroke="#4a4a4a" stroke-width="0.9"/>
<line x1="408.33" y1="406.3" x2="408.33" y2="404.7" stroke="#4a4a4a" stroke-width="0.9"/>
<line x1="426.2" y1="406.3" x2="426.2" y2="403.7" stroke="#4a4a4a" stroke-width="0.9"/>
<line x1="444.07" y1="406.3" x2="444.07" y2="404.7" stroke="#4a4a4a" stroke-width="0.9"/>
<line x1="461.93" y1="406.3" x2="461.93" y2="403.7" stroke="#4a4a4a" stroke-width="0.9"/>
<line x1="479.8" y1="406.3" x2="479.8" y2="404.7" stroke="#4a4a4a" stroke-width="0.9"/>
<line x1="497.67" y1="406.3" x2="497.67" y2="403.7" stroke="#4a4a4a" stroke-width="0.9"/>
<line x1="515.53" y1="406.3" x2="515.53" y2="404.7" stroke="#4a4a4a" stroke-width="0.9"/>
<line x1="533.4" y1="406.3" x2="533.4" y2="403.7" stroke="#4a4a4a" stroke-width="0.9"/>
<text x="315.2" y="409.2" font-size="8.4" font-weight="bold" stroke="#1a1a1a" stroke-width="0.22" text-anchor="end" fill="#1a1a1a">6</text>
<text x="315.2" y="390.03" font-size="8.4" font-weight="bold" stroke="#1a1a1a" stroke-width="0.22" text-anchor="end" fill="#1a1a1a">8</text>
<text x="315.2" y="370.87" font-size="8.4" font-weight="bold" stroke="#1a1a1a" stroke-width="0.22" text-anchor="end" fill="#1a1a1a">10</text>
<text x="315.2" y="351.7" font-size="8.4" font-weight="bold" stroke="#1a1a1a" stroke-width="0.22" text-anchor="end" fill="#1a1a1a">12</text>
<text x="315.2" y="332.53" font-size="8.4" font-weight="bold" stroke="#1a1a1a" stroke-width="0.22" text-anchor="end" fill="#1a1a1a">14</text>
<text x="315.2" y="313.37" font-size="8.4" font-weight="bold" stroke="#1a1a1a" stroke-width="0.22" text-anchor="end" fill="#1a1a1a">16</text>
<text x="315.2" y="294.2" font-size="8.4" font-weight="bold" stroke="#1a1a1a" stroke-width="0.22" text-anchor="end" fill="#1a1a1a">18</text>
<text x="315.2" y="275.03" font-size="8.4" font-weight="bold" stroke="#1a1a1a" stroke-width="0.22" text-anchor="end" fill="#1a1a1a">20</text>
<text x="315.2" y="255.87" font-size="8.4" font-weight="bold" stroke="#1a1a1a" stroke-width="0.22" text-anchor="end" fill="#1a1a1a">22</text>
<text x="315.2" y="236.7" font-size="8.4" font-weight="bold" stroke="#1a1a1a" stroke-width="0.22" text-anchor="end" fill="#1a1a1a">24</text>
<text x="319" y="416.9" font-size="8.4" font-weight="bold" stroke="#1a1a1a" stroke-width="0.22" text-anchor="middle" fill="#1a1a1a">1480</text>
<text x="354.73" y="416.9" font-size="8.4" font-weight="bold" stroke="#1a1a1a" stroke-width="0.22" text-anchor="middle" fill="#1a1a1a">1500</text>
<text x="390.47" y="416.9" font-size="8.4" font-weight="bold" stroke="#1a1a1a" stroke-width="0.22" text-anchor="middle" fill="#1a1a1a">1520</text>
<text x="426.2" y="416.9" font-size="8.4" font-weight="bold" stroke="#1a1a1a" stroke-width="0.22" text-anchor="middle" fill="#1a1a1a">1540</text>
<text x="461.93" y="416.9" font-size="8.4" font-weight="bold" stroke="#1a1a1a" stroke-width="0.22" text-anchor="middle" fill="#1a1a1a">1560</text>
<text x="497.67" y="416.9" font-size="8.4" font-weight="bold" stroke="#1a1a1a" stroke-width="0.22" text-anchor="middle" fill="#1a1a1a">1580</text>
<text x="533.4" y="416.9" font-size="8.4" font-weight="bold" stroke="#1a1a1a" stroke-width="0.22" text-anchor="middle" fill="#1a1a1a">1600</text>
<text x="426.7" y="432.6" font-size="10.4" font-weight="bold" stroke="#111" stroke-width="0.22" text-anchor="middle" fill="#111" textLength="78.5" lengthAdjust="spacingAndGlyphs">Wavelength (nm)</text>
<text transform="translate(299.4,318) rotate(-90)" font-size="10.4" font-weight="bold" stroke="#111" stroke-width="0.25" text-anchor="middle" fill="#111" textLength="63.3" lengthAdjust="spacingAndGlyphs">Pitch angle <tspan font-style="italic">θ</tspan> (°)</text>
<text x="290.1" y="227.2" font-size="14" font-weight="bold" stroke="#111" stroke-width="0.22" fill="#111">(d)</text>
</svg>
</body></html>
